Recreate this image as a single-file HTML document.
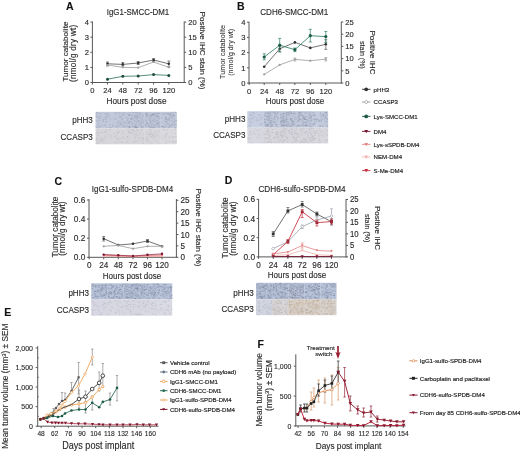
<!DOCTYPE html>
<html><head><meta charset="utf-8"><style>
html,body{margin:0;padding:0;background:#fff;width:520px;height:451px;overflow:hidden}
svg{display:block;filter:blur(0.35px)}
text{font-family:"Liberation Sans", sans-serif}
</style></head><body>
<svg width="520" height="451" viewBox="0 0 520 451">
<defs></defs>
<rect width="520" height="451" fill="#fff"/>
<text transform="translate(66 9.7)" font-size="10.5" text-anchor="start" fill="#111" stroke="#111" stroke-width="0.1" font-weight="bold">A</text>
<text transform="translate(237 9.7)" font-size="10.5" text-anchor="start" fill="#111" stroke="#111" stroke-width="0.1" font-weight="bold">B</text>
<text transform="translate(54.5 185.2)" font-size="10.5" text-anchor="start" fill="#111" stroke="#111" stroke-width="0.1" font-weight="bold">C</text>
<text transform="translate(224.8 184)" font-size="10.5" text-anchor="start" fill="#111" stroke="#111" stroke-width="0.1" font-weight="bold">D</text>
<text transform="translate(4.3 315.8)" font-size="10.5" text-anchor="start" fill="#111" stroke="#111" stroke-width="0.1" font-weight="bold">E</text>
<text transform="translate(257.6 348.3)" font-size="10.5" text-anchor="start" fill="#111" stroke="#111" stroke-width="0.1" font-weight="bold">F</text>
<text transform="translate(138 15) scale(0.885 1)" font-size="8.96" text-anchor="middle" fill="#2a2a2a" stroke="#2a2a2a" stroke-width="0.14" font-weight="normal">IgG1-SMCC-DM1</text>
<line x1="92.4" y1="21.5" x2="92.4" y2="83" stroke="#585858" stroke-width="1"/>
<line x1="90.4" y1="82.5" x2="92.4" y2="82.5" stroke="#585858" stroke-width="1"/>
<text transform="translate(88.9 85.38) scale(0.95 1)" font-size="8" text-anchor="end" fill="#2a2a2a" stroke="#2a2a2a" stroke-width="0.14" font-weight="normal">0</text>
<line x1="90.4" y1="67.4" x2="92.4" y2="67.4" stroke="#585858" stroke-width="1"/>
<text transform="translate(88.9 70.28) scale(0.95 1)" font-size="8" text-anchor="end" fill="#2a2a2a" stroke="#2a2a2a" stroke-width="0.14" font-weight="normal">1</text>
<line x1="90.4" y1="52.3" x2="92.4" y2="52.3" stroke="#585858" stroke-width="1"/>
<text transform="translate(88.9 55.18) scale(0.95 1)" font-size="8" text-anchor="end" fill="#2a2a2a" stroke="#2a2a2a" stroke-width="0.14" font-weight="normal">2</text>
<line x1="90.4" y1="37.2" x2="92.4" y2="37.2" stroke="#585858" stroke-width="1"/>
<text transform="translate(88.9 40.08) scale(0.95 1)" font-size="8" text-anchor="end" fill="#2a2a2a" stroke="#2a2a2a" stroke-width="0.14" font-weight="normal">3</text>
<line x1="90.4" y1="22.1" x2="92.4" y2="22.1" stroke="#585858" stroke-width="1"/>
<text transform="translate(88.9 24.98) scale(0.95 1)" font-size="8" text-anchor="end" fill="#2a2a2a" stroke="#2a2a2a" stroke-width="0.14" font-weight="normal">4</text>
<line x1="184.2" y1="21.5" x2="184.2" y2="83" stroke="#585858" stroke-width="1"/>
<line x1="184.2" y1="82.5" x2="186.2" y2="82.5" stroke="#585858" stroke-width="1"/>
<text transform="translate(188.2 85.38) scale(0.95 1)" font-size="8" text-anchor="start" fill="#2a2a2a" stroke="#2a2a2a" stroke-width="0.14" font-weight="normal">0</text>
<line x1="184.2" y1="67.4" x2="186.2" y2="67.4" stroke="#585858" stroke-width="1"/>
<text transform="translate(188.2 70.28) scale(0.95 1)" font-size="8" text-anchor="start" fill="#2a2a2a" stroke="#2a2a2a" stroke-width="0.14" font-weight="normal">5</text>
<line x1="184.2" y1="52.3" x2="186.2" y2="52.3" stroke="#585858" stroke-width="1"/>
<text transform="translate(188.2 55.18) scale(0.95 1)" font-size="8" text-anchor="start" fill="#2a2a2a" stroke="#2a2a2a" stroke-width="0.14" font-weight="normal">10</text>
<line x1="184.2" y1="37.2" x2="186.2" y2="37.2" stroke="#585858" stroke-width="1"/>
<text transform="translate(188.2 40.08) scale(0.95 1)" font-size="8" text-anchor="start" fill="#2a2a2a" stroke="#2a2a2a" stroke-width="0.14" font-weight="normal">15</text>
<line x1="184.2" y1="22.1" x2="186.2" y2="22.1" stroke="#585858" stroke-width="1"/>
<text transform="translate(188.2 24.98) scale(0.95 1)" font-size="8" text-anchor="start" fill="#2a2a2a" stroke="#2a2a2a" stroke-width="0.14" font-weight="normal">20</text>
<line x1="91.9" y1="82.5" x2="184.7" y2="82.5" stroke="#585858" stroke-width="1"/>
<line x1="92.4" y1="82.5" x2="92.4" y2="84.5" stroke="#585858" stroke-width="1"/>
<text transform="translate(92.4 93) scale(0.95 1)" font-size="8" text-anchor="middle" fill="#2a2a2a" stroke="#2a2a2a" stroke-width="0.14" font-weight="normal">0</text>
<line x1="107.5" y1="82.5" x2="107.5" y2="84.5" stroke="#585858" stroke-width="1"/>
<text transform="translate(107.5 93) scale(0.95 1)" font-size="8" text-anchor="middle" fill="#2a2a2a" stroke="#2a2a2a" stroke-width="0.14" font-weight="normal">24</text>
<line x1="122.8" y1="82.5" x2="122.8" y2="84.5" stroke="#585858" stroke-width="1"/>
<text transform="translate(122.8 93) scale(0.95 1)" font-size="8" text-anchor="middle" fill="#2a2a2a" stroke="#2a2a2a" stroke-width="0.14" font-weight="normal">48</text>
<line x1="138.2" y1="82.5" x2="138.2" y2="84.5" stroke="#585858" stroke-width="1"/>
<text transform="translate(138.2 93) scale(0.95 1)" font-size="8" text-anchor="middle" fill="#2a2a2a" stroke="#2a2a2a" stroke-width="0.14" font-weight="normal">72</text>
<line x1="153.6" y1="82.5" x2="153.6" y2="84.5" stroke="#585858" stroke-width="1"/>
<text transform="translate(153.6 93) scale(0.95 1)" font-size="8" text-anchor="middle" fill="#2a2a2a" stroke="#2a2a2a" stroke-width="0.14" font-weight="normal">96</text>
<line x1="168.8" y1="82.5" x2="168.8" y2="84.5" stroke="#585858" stroke-width="1"/>
<text transform="translate(168.8 93) scale(0.95 1)" font-size="8" text-anchor="middle" fill="#2a2a2a" stroke="#2a2a2a" stroke-width="0.14" font-weight="normal">120</text>
<text transform="translate(136.5 103.7) scale(0.92 1)" font-size="8.96" text-anchor="middle" fill="#2a2a2a" stroke="#2a2a2a" stroke-width="0.14" font-weight="normal">Hours post dose</text>
<text transform="translate(67.7 51.6) rotate(-90)" font-size="8.1" text-anchor="middle" fill="#2a2a2a" stroke="#2a2a2a" stroke-width="0.14" font-weight="normal">Tumor catabolite</text>
<text transform="translate(76.2 53.3) rotate(-90)" font-size="8.2" text-anchor="middle" fill="#2a2a2a" stroke="#2a2a2a" stroke-width="0.14" font-weight="normal" letter-spacing="0.22">(nmol/g dry wt)</text>
<text transform="translate(200.3 50.5) rotate(90)" font-size="8" text-anchor="middle" fill="#2a2a2a" stroke="#2a2a2a" stroke-width="0.14" font-weight="normal">Positive IHC stain (%)</text>
<line x1="107.5" y1="62" x2="107.5" y2="66" stroke="#5a5a5a" stroke-width="0.7"/>
<line x1="106" y1="62" x2="109" y2="62" stroke="#5a5a5a" stroke-width="0.7"/>
<line x1="106" y1="66" x2="109" y2="66" stroke="#5a5a5a" stroke-width="0.7"/>
<line x1="122.8" y1="62.5" x2="122.8" y2="66" stroke="#5a5a5a" stroke-width="0.7"/>
<line x1="121.3" y1="62.5" x2="124.3" y2="62.5" stroke="#5a5a5a" stroke-width="0.7"/>
<line x1="121.3" y1="66" x2="124.3" y2="66" stroke="#5a5a5a" stroke-width="0.7"/>
<line x1="138.2" y1="61.5" x2="138.2" y2="64.5" stroke="#5a5a5a" stroke-width="0.7"/>
<line x1="136.7" y1="61.5" x2="139.7" y2="61.5" stroke="#5a5a5a" stroke-width="0.7"/>
<line x1="136.7" y1="64.5" x2="139.7" y2="64.5" stroke="#5a5a5a" stroke-width="0.7"/>
<line x1="153.6" y1="58.5" x2="153.6" y2="61.5" stroke="#5a5a5a" stroke-width="0.7"/>
<line x1="152.1" y1="58.5" x2="155.1" y2="58.5" stroke="#5a5a5a" stroke-width="0.7"/>
<line x1="152.1" y1="61.5" x2="155.1" y2="61.5" stroke="#5a5a5a" stroke-width="0.7"/>
<line x1="168.8" y1="61" x2="168.8" y2="67" stroke="#5a5a5a" stroke-width="0.7"/>
<line x1="167.3" y1="61" x2="170.3" y2="61" stroke="#5a5a5a" stroke-width="0.7"/>
<line x1="167.3" y1="67" x2="170.3" y2="67" stroke="#5a5a5a" stroke-width="0.7"/>
<polyline points="107.5,63.8 122.8,64.4 138.2,63 153.6,60 168.8,63.8" fill="none" stroke="#5a5a5a" stroke-width="0.85" stroke-linejoin="round"/>
<circle cx="107.5" cy="63.8" r="1.3" fill="#333333"/>
<circle cx="122.8" cy="64.4" r="1.3" fill="#333333"/>
<circle cx="138.2" cy="63" r="1.3" fill="#333333"/>
<circle cx="153.6" cy="60" r="1.3" fill="#333333"/>
<circle cx="168.8" cy="63.8" r="1.3" fill="#333333"/>
<polyline points="107.5,65 122.8,67.3 138.2,67.7 153.6,62 168.8,67.3" fill="none" stroke="#a0a0a0" stroke-width="0.85" stroke-linejoin="round"/>
<circle cx="107.5" cy="65" r="1.1" fill="#a0a0a0"/>
<circle cx="122.8" cy="67.3" r="1.1" fill="#a0a0a0"/>
<circle cx="138.2" cy="67.7" r="1.1" fill="#a0a0a0"/>
<circle cx="153.6" cy="62" r="1.1" fill="#a0a0a0"/>
<circle cx="168.8" cy="67.3" r="1.1" fill="#a0a0a0"/>
<polyline points="107.5,79.2 122.8,76.3 138.2,76 153.6,74.6 168.8,75.4" fill="none" stroke="#3a7a66" stroke-width="0.85" stroke-linejoin="round"/>
<circle cx="107.5" cy="79.2" r="1.5" fill="#1e4d3d"/>
<circle cx="122.8" cy="76.3" r="1.5" fill="#1e4d3d"/>
<circle cx="138.2" cy="76" r="1.5" fill="#1e4d3d"/>
<circle cx="153.6" cy="74.6" r="1.5" fill="#1e4d3d"/>
<circle cx="168.8" cy="75.4" r="1.5" fill="#1e4d3d"/>
<text transform="translate(294.3 14.8) scale(0.9 1)" font-size="8.96" text-anchor="middle" fill="#2a2a2a" stroke="#2a2a2a" stroke-width="0.14" font-weight="normal">CDH6-SMCC-DM1</text>
<line x1="249" y1="21.8" x2="249" y2="83.5" stroke="#585858" stroke-width="1"/>
<line x1="247" y1="83" x2="249" y2="83" stroke="#585858" stroke-width="1"/>
<text transform="translate(245.5 85.88) scale(0.95 1)" font-size="8" text-anchor="end" fill="#2a2a2a" stroke="#2a2a2a" stroke-width="0.14" font-weight="normal">0</text>
<line x1="247" y1="67.8" x2="249" y2="67.8" stroke="#585858" stroke-width="1"/>
<text transform="translate(245.5 70.68) scale(0.95 1)" font-size="8" text-anchor="end" fill="#2a2a2a" stroke="#2a2a2a" stroke-width="0.14" font-weight="normal">1</text>
<line x1="247" y1="52.6" x2="249" y2="52.6" stroke="#585858" stroke-width="1"/>
<text transform="translate(245.5 55.48) scale(0.95 1)" font-size="8" text-anchor="end" fill="#2a2a2a" stroke="#2a2a2a" stroke-width="0.14" font-weight="normal">2</text>
<line x1="247" y1="37.4" x2="249" y2="37.4" stroke="#585858" stroke-width="1"/>
<text transform="translate(245.5 40.28) scale(0.95 1)" font-size="8" text-anchor="end" fill="#2a2a2a" stroke="#2a2a2a" stroke-width="0.14" font-weight="normal">3</text>
<line x1="247" y1="22.2" x2="249" y2="22.2" stroke="#585858" stroke-width="1"/>
<text transform="translate(245.5 25.08) scale(0.95 1)" font-size="8" text-anchor="end" fill="#2a2a2a" stroke="#2a2a2a" stroke-width="0.14" font-weight="normal">4</text>
<line x1="341.3" y1="21.8" x2="341.3" y2="83.5" stroke="#585858" stroke-width="1"/>
<line x1="341.3" y1="83" x2="343.3" y2="83" stroke="#585858" stroke-width="1"/>
<text transform="translate(345.3 85.88) scale(0.95 1)" font-size="8" text-anchor="start" fill="#2a2a2a" stroke="#2a2a2a" stroke-width="0.14" font-weight="normal">0</text>
<line x1="341.3" y1="70.8" x2="343.3" y2="70.8" stroke="#585858" stroke-width="1"/>
<text transform="translate(345.3 73.68) scale(0.95 1)" font-size="8" text-anchor="start" fill="#2a2a2a" stroke="#2a2a2a" stroke-width="0.14" font-weight="normal">5</text>
<line x1="341.3" y1="58.6" x2="343.3" y2="58.6" stroke="#585858" stroke-width="1"/>
<text transform="translate(345.3 61.48) scale(0.95 1)" font-size="8" text-anchor="start" fill="#2a2a2a" stroke="#2a2a2a" stroke-width="0.14" font-weight="normal">10</text>
<line x1="341.3" y1="46.4" x2="343.3" y2="46.4" stroke="#585858" stroke-width="1"/>
<text transform="translate(345.3 49.28) scale(0.95 1)" font-size="8" text-anchor="start" fill="#2a2a2a" stroke="#2a2a2a" stroke-width="0.14" font-weight="normal">15</text>
<line x1="341.3" y1="34.2" x2="343.3" y2="34.2" stroke="#585858" stroke-width="1"/>
<text transform="translate(345.3 37.08) scale(0.95 1)" font-size="8" text-anchor="start" fill="#2a2a2a" stroke="#2a2a2a" stroke-width="0.14" font-weight="normal">20</text>
<line x1="341.3" y1="22" x2="343.3" y2="22" stroke="#585858" stroke-width="1"/>
<text transform="translate(345.3 24.88) scale(0.95 1)" font-size="8" text-anchor="start" fill="#2a2a2a" stroke="#2a2a2a" stroke-width="0.14" font-weight="normal">25</text>
<line x1="248.5" y1="83" x2="341.8" y2="83" stroke="#585858" stroke-width="1"/>
<line x1="249.2" y1="83" x2="249.2" y2="85" stroke="#585858" stroke-width="1"/>
<text transform="translate(249.2 93.5) scale(0.95 1)" font-size="8" text-anchor="middle" fill="#2a2a2a" stroke="#2a2a2a" stroke-width="0.14" font-weight="normal">0</text>
<line x1="264.2" y1="83" x2="264.2" y2="85" stroke="#585858" stroke-width="1"/>
<text transform="translate(264.2 93.5) scale(0.95 1)" font-size="8" text-anchor="middle" fill="#2a2a2a" stroke="#2a2a2a" stroke-width="0.14" font-weight="normal">24</text>
<line x1="279.7" y1="83" x2="279.7" y2="85" stroke="#585858" stroke-width="1"/>
<text transform="translate(279.7 93.5) scale(0.95 1)" font-size="8" text-anchor="middle" fill="#2a2a2a" stroke="#2a2a2a" stroke-width="0.14" font-weight="normal">48</text>
<line x1="294.9" y1="83" x2="294.9" y2="85" stroke="#585858" stroke-width="1"/>
<text transform="translate(294.9 93.5) scale(0.95 1)" font-size="8" text-anchor="middle" fill="#2a2a2a" stroke="#2a2a2a" stroke-width="0.14" font-weight="normal">72</text>
<line x1="310.3" y1="83" x2="310.3" y2="85" stroke="#585858" stroke-width="1"/>
<text transform="translate(310.3 93.5) scale(0.95 1)" font-size="8" text-anchor="middle" fill="#2a2a2a" stroke="#2a2a2a" stroke-width="0.14" font-weight="normal">96</text>
<line x1="325.8" y1="83" x2="325.8" y2="85" stroke="#585858" stroke-width="1"/>
<text transform="translate(325.8 93.5) scale(0.95 1)" font-size="8" text-anchor="middle" fill="#2a2a2a" stroke="#2a2a2a" stroke-width="0.14" font-weight="normal">120</text>
<text transform="translate(295 104) scale(0.9 1)" font-size="8.96" text-anchor="middle" fill="#2a2a2a" stroke="#2a2a2a" stroke-width="0.14" font-weight="normal">Hours post dose</text>
<text transform="translate(225.3 52) rotate(-90)" font-size="7.3" text-anchor="middle" fill="#444" stroke="#444" stroke-width="0.12" font-weight="normal">Tumor catabolite</text>
<text transform="translate(232.6 52.3) rotate(-90)" font-size="7.1" text-anchor="middle" fill="#444" stroke="#444" stroke-width="0.12" font-weight="normal">(nmol/g dry wt)</text>
<text transform="translate(370 52.4) rotate(90)" font-size="8" text-anchor="middle" fill="#2a2a2a" stroke="#2a2a2a" stroke-width="0.14" font-weight="normal">Positive IHC</text>
<text transform="translate(359.6 54.9) rotate(90)" font-size="7" text-anchor="middle" fill="#2a2a2a" stroke="#2a2a2a" stroke-width="0.12" font-weight="normal">stain (%)</text>
<line x1="279.7" y1="46" x2="279.7" y2="52" stroke="#5a5a5a" stroke-width="0.7"/>
<line x1="278.2" y1="46" x2="281.2" y2="46" stroke="#5a5a5a" stroke-width="0.7"/>
<line x1="278.2" y1="52" x2="281.2" y2="52" stroke="#5a5a5a" stroke-width="0.7"/>
<line x1="325.8" y1="39.7" x2="325.8" y2="49.4" stroke="#5a5a5a" stroke-width="0.7"/>
<line x1="324.3" y1="39.7" x2="327.3" y2="39.7" stroke="#5a5a5a" stroke-width="0.7"/>
<line x1="324.3" y1="49.4" x2="327.3" y2="49.4" stroke="#5a5a5a" stroke-width="0.7"/>
<polyline points="264.2,66.7 279.7,48.8 294.9,42.4 310.3,47.9 325.8,44.3" fill="none" stroke="#5a5a5a" stroke-width="0.85" stroke-linejoin="round"/>
<circle cx="264.2" cy="66.7" r="1.3" fill="#333333"/>
<circle cx="279.7" cy="48.8" r="1.3" fill="#333333"/>
<circle cx="294.9" cy="42.4" r="1.3" fill="#333333"/>
<circle cx="310.3" cy="47.9" r="1.3" fill="#333333"/>
<circle cx="325.8" cy="44.3" r="1.3" fill="#333333"/>
<line x1="294.9" y1="58" x2="294.9" y2="61" stroke="#a0a0a0" stroke-width="0.7"/>
<line x1="293.4" y1="58" x2="296.4" y2="58" stroke="#a0a0a0" stroke-width="0.7"/>
<line x1="293.4" y1="61" x2="296.4" y2="61" stroke="#a0a0a0" stroke-width="0.7"/>
<line x1="325.8" y1="57.5" x2="325.8" y2="61" stroke="#a0a0a0" stroke-width="0.7"/>
<line x1="324.3" y1="57.5" x2="327.3" y2="57.5" stroke="#a0a0a0" stroke-width="0.7"/>
<line x1="324.3" y1="61" x2="327.3" y2="61" stroke="#a0a0a0" stroke-width="0.7"/>
<polyline points="264.2,74.4 279.7,64.9 294.9,59.4 310.3,60.7 325.8,59.2" fill="none" stroke="#a0a0a0" stroke-width="0.85" stroke-linejoin="round"/>
<circle cx="264.2" cy="74.4" r="1.1" fill="#a0a0a0"/>
<circle cx="279.7" cy="64.9" r="1.1" fill="#a0a0a0"/>
<circle cx="294.9" cy="59.4" r="1.1" fill="#a0a0a0"/>
<circle cx="310.3" cy="60.7" r="1.1" fill="#a0a0a0"/>
<circle cx="325.8" cy="59.2" r="1.1" fill="#a0a0a0"/>
<line x1="264.2" y1="53.8" x2="264.2" y2="59.8" stroke="#2f8068" stroke-width="0.7"/>
<line x1="262.7" y1="53.8" x2="265.7" y2="53.8" stroke="#2f8068" stroke-width="0.7"/>
<line x1="262.7" y1="59.8" x2="265.7" y2="59.8" stroke="#2f8068" stroke-width="0.7"/>
<line x1="279.7" y1="38.4" x2="279.7" y2="51.6" stroke="#2f8068" stroke-width="0.7"/>
<line x1="278.2" y1="38.4" x2="281.2" y2="38.4" stroke="#2f8068" stroke-width="0.7"/>
<line x1="278.2" y1="51.6" x2="281.2" y2="51.6" stroke="#2f8068" stroke-width="0.7"/>
<line x1="294.9" y1="48" x2="294.9" y2="51.6" stroke="#2f8068" stroke-width="0.7"/>
<line x1="293.4" y1="48" x2="296.4" y2="48" stroke="#2f8068" stroke-width="0.7"/>
<line x1="293.4" y1="51.6" x2="296.4" y2="51.6" stroke="#2f8068" stroke-width="0.7"/>
<line x1="310.3" y1="29.3" x2="310.3" y2="42" stroke="#2f8068" stroke-width="0.7"/>
<line x1="308.8" y1="29.3" x2="311.8" y2="29.3" stroke="#2f8068" stroke-width="0.7"/>
<line x1="308.8" y1="42" x2="311.8" y2="42" stroke="#2f8068" stroke-width="0.7"/>
<line x1="325.8" y1="31.5" x2="325.8" y2="42.4" stroke="#2f8068" stroke-width="0.7"/>
<line x1="324.3" y1="31.5" x2="327.3" y2="31.5" stroke="#2f8068" stroke-width="0.7"/>
<line x1="324.3" y1="42.4" x2="327.3" y2="42.4" stroke="#2f8068" stroke-width="0.7"/>
<polyline points="264.2,57 279.7,45.2 294.9,49.7 310.3,35.7 325.8,36.6" fill="none" stroke="#2f8068" stroke-width="0.85" stroke-linejoin="round"/>
<circle cx="264.2" cy="57" r="1.6" fill="#1e5a47"/>
<circle cx="279.7" cy="45.2" r="1.6" fill="#1e5a47"/>
<circle cx="294.9" cy="49.7" r="1.6" fill="#1e5a47"/>
<circle cx="310.3" cy="35.7" r="1.6" fill="#1e5a47"/>
<circle cx="325.8" cy="36.6" r="1.6" fill="#1e5a47"/>
<line x1="362" y1="89.3" x2="370.5" y2="89.3" stroke="#333" stroke-width="0.9"/>
<circle cx="366.2" cy="89.3" r="1.9" fill="#333"/>
<text transform="translate(373.6 91.5)" font-size="6.1" text-anchor="start" fill="#1c1c1c" stroke="#1c1c1c" stroke-width="0.16" font-weight="normal">pHH3</text>
<line x1="362" y1="102" x2="370.5" y2="102" stroke="#999" stroke-width="0.9"/>
<path d="M366.2 100.1L368.1 102L366.2 103.9L364.3 102Z" fill="#fff" stroke="#999" stroke-width="0.8"/>
<text transform="translate(373.6 104.2)" font-size="6.1" text-anchor="start" fill="#1c1c1c" stroke="#1c1c1c" stroke-width="0.16" font-weight="normal">CCASP3</text>
<line x1="362" y1="116.4" x2="370.5" y2="116.4" stroke="#1e5a47" stroke-width="0.9"/>
<circle cx="366.2" cy="116.4" r="1.9" fill="#1e5a47"/>
<text transform="translate(373.6 118.6)" font-size="6.1" text-anchor="start" fill="#1c1c1c" stroke="#1c1c1c" stroke-width="0.16" font-weight="normal">Lys-SMCC-DM1</text>
<line x1="362" y1="131.4" x2="370.5" y2="131.4" stroke="#7a1530" stroke-width="0.9"/>
<path d="M364.3 129.88L368.1 129.88L366.2 133.3Z" fill="#7a1530"/>
<text transform="translate(373.6 133.6)" font-size="6.1" text-anchor="start" fill="#1c1c1c" stroke="#1c1c1c" stroke-width="0.16" font-weight="normal">DM4</text>
<line x1="362" y1="144.4" x2="370.5" y2="144.4" stroke="#e58a8a" stroke-width="0.9"/>
<path d="M364.3 142.88L368.1 142.88L366.2 146.3Z" fill="#e58a8a"/>
<text transform="translate(373.6 146.6)" font-size="6.1" text-anchor="start" fill="#1c1c1c" stroke="#1c1c1c" stroke-width="0.16" font-weight="normal">Lys-sSPDB-DM4</text>
<line x1="362" y1="157" x2="370.5" y2="157" stroke="#f2b4b0" stroke-width="0.9"/>
<path d="M364.3 155.48L368.1 155.48L366.2 158.9Z" fill="#f2b4b0"/>
<text transform="translate(373.6 159.2)" font-size="6.1" text-anchor="start" fill="#1c1c1c" stroke="#1c1c1c" stroke-width="0.16" font-weight="normal">NEM-DM4</text>
<line x1="362" y1="170.6" x2="370.5" y2="170.6" stroke="#c9303e" stroke-width="0.9"/>
<path d="M364.3 169.08L368.1 169.08L366.2 172.5Z" fill="#c9303e"/>
<text transform="translate(373.6 172.8)" font-size="6.1" text-anchor="start" fill="#1c1c1c" stroke="#1c1c1c" stroke-width="0.16" font-weight="normal">S-Me-DM4</text>
<text transform="translate(132.4 191.9) scale(0.9 1)" font-size="8.96" text-anchor="middle" fill="#2a2a2a" stroke="#2a2a2a" stroke-width="0.14" font-weight="normal">IgG1-sulfo-SPDB-DM4</text>
<line x1="89" y1="199" x2="89" y2="257.8" stroke="#585858" stroke-width="1"/>
<line x1="87" y1="257.3" x2="89" y2="257.3" stroke="#585858" stroke-width="1"/>
<text transform="translate(85.5 260.468) scale(0.95 1)" font-size="8.8" text-anchor="end" fill="#2a2a2a" stroke="#2a2a2a" stroke-width="0.14" font-weight="normal">0.0</text>
<line x1="87" y1="238.2" x2="89" y2="238.2" stroke="#585858" stroke-width="1"/>
<text transform="translate(85.5 241.368) scale(0.95 1)" font-size="8.8" text-anchor="end" fill="#2a2a2a" stroke="#2a2a2a" stroke-width="0.14" font-weight="normal">0.2</text>
<line x1="87" y1="219.1" x2="89" y2="219.1" stroke="#585858" stroke-width="1"/>
<text transform="translate(85.5 222.268) scale(0.95 1)" font-size="8.8" text-anchor="end" fill="#2a2a2a" stroke="#2a2a2a" stroke-width="0.14" font-weight="normal">0.4</text>
<line x1="87" y1="200" x2="89" y2="200" stroke="#585858" stroke-width="1"/>
<text transform="translate(85.5 203.168) scale(0.95 1)" font-size="8.8" text-anchor="end" fill="#2a2a2a" stroke="#2a2a2a" stroke-width="0.14" font-weight="normal">0.6</text>
<line x1="176.4" y1="199" x2="176.4" y2="257.8" stroke="#585858" stroke-width="1"/>
<line x1="176.4" y1="257.3" x2="178.4" y2="257.3" stroke="#585858" stroke-width="1"/>
<text transform="translate(180.4 260.396) scale(0.95 1)" font-size="8.6" text-anchor="start" fill="#2a2a2a" stroke="#2a2a2a" stroke-width="0.14" font-weight="normal">0</text>
<line x1="176.4" y1="245.9" x2="178.4" y2="245.9" stroke="#585858" stroke-width="1"/>
<text transform="translate(180.4 248.996) scale(0.95 1)" font-size="8.6" text-anchor="start" fill="#2a2a2a" stroke="#2a2a2a" stroke-width="0.14" font-weight="normal">5</text>
<line x1="176.4" y1="234.5" x2="178.4" y2="234.5" stroke="#585858" stroke-width="1"/>
<text transform="translate(180.4 237.596) scale(0.95 1)" font-size="8.6" text-anchor="start" fill="#2a2a2a" stroke="#2a2a2a" stroke-width="0.14" font-weight="normal">10</text>
<line x1="176.4" y1="223.1" x2="178.4" y2="223.1" stroke="#585858" stroke-width="1"/>
<text transform="translate(180.4 226.196) scale(0.95 1)" font-size="8.6" text-anchor="start" fill="#2a2a2a" stroke="#2a2a2a" stroke-width="0.14" font-weight="normal">15</text>
<line x1="176.4" y1="211.7" x2="178.4" y2="211.7" stroke="#585858" stroke-width="1"/>
<text transform="translate(180.4 214.796) scale(0.95 1)" font-size="8.6" text-anchor="start" fill="#2a2a2a" stroke="#2a2a2a" stroke-width="0.14" font-weight="normal">20</text>
<line x1="176.4" y1="200.3" x2="178.4" y2="200.3" stroke="#585858" stroke-width="1"/>
<text transform="translate(180.4 203.396) scale(0.95 1)" font-size="8.6" text-anchor="start" fill="#2a2a2a" stroke="#2a2a2a" stroke-width="0.14" font-weight="normal">25</text>
<line x1="88.5" y1="257.3" x2="176.9" y2="257.3" stroke="#585858" stroke-width="1"/>
<line x1="89.2" y1="257.3" x2="89.2" y2="259.3" stroke="#585858" stroke-width="1"/>
<text transform="translate(89.2 268.2) scale(0.95 1)" font-size="8.6" text-anchor="middle" fill="#2a2a2a" stroke="#2a2a2a" stroke-width="0.14" font-weight="normal">0</text>
<line x1="103.7" y1="257.3" x2="103.7" y2="259.3" stroke="#585858" stroke-width="1"/>
<text transform="translate(103.7 268.2) scale(0.95 1)" font-size="8.6" text-anchor="middle" fill="#2a2a2a" stroke="#2a2a2a" stroke-width="0.14" font-weight="normal">24</text>
<line x1="118.3" y1="257.3" x2="118.3" y2="259.3" stroke="#585858" stroke-width="1"/>
<text transform="translate(118.3 268.2) scale(0.95 1)" font-size="8.6" text-anchor="middle" fill="#2a2a2a" stroke="#2a2a2a" stroke-width="0.14" font-weight="normal">48</text>
<line x1="133" y1="257.3" x2="133" y2="259.3" stroke="#585858" stroke-width="1"/>
<text transform="translate(133 268.2) scale(0.95 1)" font-size="8.6" text-anchor="middle" fill="#2a2a2a" stroke="#2a2a2a" stroke-width="0.14" font-weight="normal">72</text>
<line x1="147.5" y1="257.3" x2="147.5" y2="259.3" stroke="#585858" stroke-width="1"/>
<text transform="translate(147.5 268.2) scale(0.95 1)" font-size="8.6" text-anchor="middle" fill="#2a2a2a" stroke="#2a2a2a" stroke-width="0.14" font-weight="normal">96</text>
<line x1="162" y1="257.3" x2="162" y2="259.3" stroke="#585858" stroke-width="1"/>
<text transform="translate(162 268.2) scale(0.95 1)" font-size="8.6" text-anchor="middle" fill="#2a2a2a" stroke="#2a2a2a" stroke-width="0.14" font-weight="normal">120</text>
<text transform="translate(132 278.5) scale(0.9 1)" font-size="8.96" text-anchor="middle" fill="#2a2a2a" stroke="#2a2a2a" stroke-width="0.14" font-weight="normal">Hours post dose</text>
<text transform="translate(57.6 227) rotate(-90)" font-size="8.2" text-anchor="middle" fill="#2a2a2a" stroke="#2a2a2a" stroke-width="0.14" font-weight="normal">Tumor catabolite</text>
<text transform="translate(65.2 228.6) rotate(-90)" font-size="8.2" text-anchor="middle" fill="#2a2a2a" stroke="#2a2a2a" stroke-width="0.14" font-weight="normal">(nmol/g dry wt)</text>
<text transform="translate(196.1 227.5) rotate(90)" font-size="8" text-anchor="middle" fill="#2a2a2a" stroke="#2a2a2a" stroke-width="0.14" font-weight="normal">Positive IHC stain (%)</text>
<line x1="103.7" y1="236.5" x2="103.7" y2="241" stroke="#5a5a5a" stroke-width="0.7"/>
<line x1="102.2" y1="236.5" x2="105.2" y2="236.5" stroke="#5a5a5a" stroke-width="0.7"/>
<line x1="102.2" y1="241" x2="105.2" y2="241" stroke="#5a5a5a" stroke-width="0.7"/>
<line x1="147.5" y1="239.5" x2="147.5" y2="242.5" stroke="#5a5a5a" stroke-width="0.7"/>
<line x1="146" y1="239.5" x2="149" y2="239.5" stroke="#5a5a5a" stroke-width="0.7"/>
<line x1="146" y1="242.5" x2="149" y2="242.5" stroke="#5a5a5a" stroke-width="0.7"/>
<polyline points="103.7,238.7 118.3,245 133,243.8 147.5,241 162,246.3" fill="none" stroke="#5a5a5a" stroke-width="0.85" stroke-linejoin="round"/>
<circle cx="103.7" cy="238.7" r="1.3" fill="#333333"/>
<circle cx="118.3" cy="245" r="1.3" fill="#333333"/>
<circle cx="133" cy="243.8" r="1.3" fill="#333333"/>
<circle cx="147.5" cy="241" r="1.3" fill="#333333"/>
<circle cx="162" cy="246.3" r="1.3" fill="#333333"/>
<polyline points="103.7,246.3 118.3,245.4 133,248.7 147.5,246.3 162,246.3" fill="none" stroke="#a0a0a0" stroke-width="0.85" stroke-linejoin="round"/>
<circle cx="103.7" cy="246.3" r="1.1" fill="#a0a0a0"/>
<circle cx="118.3" cy="245.4" r="1.1" fill="#a0a0a0"/>
<circle cx="133" cy="248.7" r="1.1" fill="#a0a0a0"/>
<circle cx="147.5" cy="246.3" r="1.1" fill="#a0a0a0"/>
<circle cx="162" cy="246.3" r="1.1" fill="#a0a0a0"/>
<polyline points="103.7,256.3 118.3,256.5 133,256.8 147.5,256.5 162,256.4" fill="none" stroke="#f2b4b0" stroke-width="0.8" stroke-linejoin="round"/>
<path d="M102.6 255.42L104.8 255.42L103.7 257.4Z" fill="#f2b4b0"/>
<path d="M117.2 255.62L119.4 255.62L118.3 257.6Z" fill="#f2b4b0"/>
<path d="M131.9 255.92L134.1 255.92L133 257.9Z" fill="#f2b4b0"/>
<path d="M146.4 255.62L148.6 255.62L147.5 257.6Z" fill="#f2b4b0"/>
<path d="M160.9 255.52L163.1 255.52L162 257.5Z" fill="#f2b4b0"/>
<polyline points="103.7,255.5 118.3,255.9 133,256.4 147.5,255.9 162,255.9" fill="none" stroke="#ec9a9a" stroke-width="0.8" stroke-linejoin="round"/>
<path d="M102.6 254.62L104.8 254.62L103.7 256.6Z" fill="#ec9a9a"/>
<path d="M117.2 255.02L119.4 255.02L118.3 257Z" fill="#ec9a9a"/>
<path d="M131.9 255.52L134.1 255.52L133 257.5Z" fill="#ec9a9a"/>
<path d="M146.4 255.02L148.6 255.02L147.5 257Z" fill="#ec9a9a"/>
<path d="M160.9 255.02L163.1 255.02L162 257Z" fill="#ec9a9a"/>
<polyline points="103.7,254.8 118.3,255.6 133,256.2 147.5,255.3 162,254.8" fill="none" stroke="#e06a72" stroke-width="0.8" stroke-linejoin="round"/>
<path d="M102.6 253.92L104.8 253.92L103.7 255.9Z" fill="#e06a72"/>
<path d="M117.2 254.72L119.4 254.72L118.3 256.7Z" fill="#e06a72"/>
<path d="M131.9 255.32L134.1 255.32L133 257.3Z" fill="#e06a72"/>
<path d="M146.4 254.42L148.6 254.42L147.5 256.4Z" fill="#e06a72"/>
<path d="M160.9 253.92L163.1 253.92L162 255.9Z" fill="#e06a72"/>
<polyline points="103.7,254.6 118.3,255.2 133,256 147.5,254.8 162,253.8" fill="none" stroke="#7a1530" stroke-width="0.6" stroke-linejoin="round"/>
<circle cx="103.7" cy="254.6" r="1.2" fill="#7a1530"/>
<circle cx="118.3" cy="255.2" r="1.2" fill="#7a1530"/>
<circle cx="133" cy="256" r="1.2" fill="#7a1530"/>
<circle cx="147.5" cy="254.8" r="1.2" fill="#7a1530"/>
<circle cx="162" cy="253.8" r="1.2" fill="#7a1530"/>
<text transform="translate(302 191.9) scale(0.9 1)" font-size="9.072" text-anchor="middle" fill="#2a2a2a" stroke="#2a2a2a" stroke-width="0.14" font-weight="normal">CDH6-sulfo-SPDB-DM4</text>
<line x1="258.6" y1="199" x2="258.6" y2="257.4" stroke="#585858" stroke-width="1"/>
<line x1="256.6" y1="256.9" x2="258.6" y2="256.9" stroke="#585858" stroke-width="1"/>
<text transform="translate(255.1 260.068) scale(0.95 1)" font-size="8.8" text-anchor="end" fill="#2a2a2a" stroke="#2a2a2a" stroke-width="0.14" font-weight="normal">0.0</text>
<line x1="256.6" y1="237.7" x2="258.6" y2="237.7" stroke="#585858" stroke-width="1"/>
<text transform="translate(255.1 240.868) scale(0.95 1)" font-size="8.8" text-anchor="end" fill="#2a2a2a" stroke="#2a2a2a" stroke-width="0.14" font-weight="normal">0.2</text>
<line x1="256.6" y1="218.5" x2="258.6" y2="218.5" stroke="#585858" stroke-width="1"/>
<text transform="translate(255.1 221.668) scale(0.95 1)" font-size="8.8" text-anchor="end" fill="#2a2a2a" stroke="#2a2a2a" stroke-width="0.14" font-weight="normal">0.4</text>
<line x1="256.6" y1="199.3" x2="258.6" y2="199.3" stroke="#585858" stroke-width="1"/>
<text transform="translate(255.1 202.468) scale(0.95 1)" font-size="8.8" text-anchor="end" fill="#2a2a2a" stroke="#2a2a2a" stroke-width="0.14" font-weight="normal">0.6</text>
<line x1="346" y1="199" x2="346" y2="257.4" stroke="#585858" stroke-width="1"/>
<line x1="346" y1="256.9" x2="348" y2="256.9" stroke="#585858" stroke-width="1"/>
<text transform="translate(350 259.852) scale(0.95 1)" font-size="8.2" text-anchor="start" fill="#2a2a2a" stroke="#2a2a2a" stroke-width="0.14" font-weight="normal">0</text>
<line x1="346" y1="245.4" x2="348" y2="245.4" stroke="#585858" stroke-width="1"/>
<text transform="translate(350 248.352) scale(0.95 1)" font-size="8.2" text-anchor="start" fill="#2a2a2a" stroke="#2a2a2a" stroke-width="0.14" font-weight="normal">5</text>
<line x1="346" y1="233.9" x2="348" y2="233.9" stroke="#585858" stroke-width="1"/>
<text transform="translate(350 236.852) scale(0.95 1)" font-size="8.2" text-anchor="start" fill="#2a2a2a" stroke="#2a2a2a" stroke-width="0.14" font-weight="normal">10</text>
<line x1="346" y1="222.4" x2="348" y2="222.4" stroke="#585858" stroke-width="1"/>
<text transform="translate(350 225.352) scale(0.95 1)" font-size="8.2" text-anchor="start" fill="#2a2a2a" stroke="#2a2a2a" stroke-width="0.14" font-weight="normal">15</text>
<line x1="346" y1="210.9" x2="348" y2="210.9" stroke="#585858" stroke-width="1"/>
<text transform="translate(350 213.852) scale(0.95 1)" font-size="8.2" text-anchor="start" fill="#2a2a2a" stroke="#2a2a2a" stroke-width="0.14" font-weight="normal">20</text>
<line x1="346" y1="199.4" x2="348" y2="199.4" stroke="#585858" stroke-width="1"/>
<text transform="translate(350 202.352) scale(0.95 1)" font-size="8.2" text-anchor="start" fill="#2a2a2a" stroke="#2a2a2a" stroke-width="0.14" font-weight="normal">25</text>
<line x1="258.1" y1="256.9" x2="346.5" y2="256.9" stroke="#585858" stroke-width="1"/>
<line x1="258.6" y1="256.9" x2="258.6" y2="258.9" stroke="#585858" stroke-width="1"/>
<text transform="translate(258.6 268.2) scale(0.95 1)" font-size="8.6" text-anchor="middle" fill="#2a2a2a" stroke="#2a2a2a" stroke-width="0.14" font-weight="normal">0</text>
<line x1="273.2" y1="256.9" x2="273.2" y2="258.9" stroke="#585858" stroke-width="1"/>
<text transform="translate(273.2 268.2) scale(0.95 1)" font-size="8.6" text-anchor="middle" fill="#2a2a2a" stroke="#2a2a2a" stroke-width="0.14" font-weight="normal">24</text>
<line x1="287.9" y1="256.9" x2="287.9" y2="258.9" stroke="#585858" stroke-width="1"/>
<text transform="translate(287.9 268.2) scale(0.95 1)" font-size="8.6" text-anchor="middle" fill="#2a2a2a" stroke="#2a2a2a" stroke-width="0.14" font-weight="normal">48</text>
<line x1="302.2" y1="256.9" x2="302.2" y2="258.9" stroke="#585858" stroke-width="1"/>
<text transform="translate(302.2 268.2) scale(0.95 1)" font-size="8.6" text-anchor="middle" fill="#2a2a2a" stroke="#2a2a2a" stroke-width="0.14" font-weight="normal">72</text>
<line x1="316.9" y1="256.9" x2="316.9" y2="258.9" stroke="#585858" stroke-width="1"/>
<text transform="translate(316.9 268.2) scale(0.95 1)" font-size="8.6" text-anchor="middle" fill="#2a2a2a" stroke="#2a2a2a" stroke-width="0.14" font-weight="normal">96</text>
<line x1="331.5" y1="256.9" x2="331.5" y2="258.9" stroke="#585858" stroke-width="1"/>
<text transform="translate(331.5 268.2) scale(0.95 1)" font-size="8.6" text-anchor="middle" fill="#2a2a2a" stroke="#2a2a2a" stroke-width="0.14" font-weight="normal">120</text>
<text transform="translate(297 277.5) scale(0.9 1)" font-size="8.96" text-anchor="middle" fill="#2a2a2a" stroke="#2a2a2a" stroke-width="0.14" font-weight="normal">Hours post dose</text>
<text transform="translate(228 227.8) rotate(-90)" font-size="8.2" text-anchor="middle" fill="#2a2a2a" stroke="#2a2a2a" stroke-width="0.14" font-weight="normal">Tumor catabolite</text>
<text transform="translate(235.6 228.6) rotate(-90)" font-size="8.2" text-anchor="middle" fill="#2a2a2a" stroke="#2a2a2a" stroke-width="0.14" font-weight="normal">(nmol/g dry wt)</text>
<text transform="translate(375 228) rotate(90)" font-size="8" text-anchor="middle" fill="#2a2a2a" stroke="#2a2a2a" stroke-width="0.14" font-weight="normal">Positive IHC</text>
<text transform="translate(365.4 228.2) rotate(90)" font-size="7.2" text-anchor="middle" fill="#2a2a2a" stroke="#2a2a2a" stroke-width="0.12" font-weight="normal">stain (%)</text>
<line x1="273.2" y1="231.5" x2="273.2" y2="236.5" stroke="#5a5a5a" stroke-width="0.7"/>
<line x1="271.7" y1="231.5" x2="274.7" y2="231.5" stroke="#5a5a5a" stroke-width="0.7"/>
<line x1="271.7" y1="236.5" x2="274.7" y2="236.5" stroke="#5a5a5a" stroke-width="0.7"/>
<line x1="287.9" y1="207.5" x2="287.9" y2="213" stroke="#5a5a5a" stroke-width="0.7"/>
<line x1="286.4" y1="207.5" x2="289.4" y2="207.5" stroke="#5a5a5a" stroke-width="0.7"/>
<line x1="286.4" y1="213" x2="289.4" y2="213" stroke="#5a5a5a" stroke-width="0.7"/>
<line x1="302.2" y1="201.5" x2="302.2" y2="207" stroke="#5a5a5a" stroke-width="0.7"/>
<line x1="300.7" y1="201.5" x2="303.7" y2="201.5" stroke="#5a5a5a" stroke-width="0.7"/>
<line x1="300.7" y1="207" x2="303.7" y2="207" stroke="#5a5a5a" stroke-width="0.7"/>
<line x1="316.9" y1="212" x2="316.9" y2="216" stroke="#5a5a5a" stroke-width="0.7"/>
<line x1="315.4" y1="212" x2="318.4" y2="212" stroke="#5a5a5a" stroke-width="0.7"/>
<line x1="315.4" y1="216" x2="318.4" y2="216" stroke="#5a5a5a" stroke-width="0.7"/>
<line x1="331.5" y1="219" x2="331.5" y2="225" stroke="#5a5a5a" stroke-width="0.7"/>
<line x1="330" y1="219" x2="333" y2="219" stroke="#5a5a5a" stroke-width="0.7"/>
<line x1="330" y1="225" x2="333" y2="225" stroke="#5a5a5a" stroke-width="0.7"/>
<polyline points="273.2,233.9 287.9,210.9 302.2,204.5 316.9,214 331.5,221.8" fill="none" stroke="#5a5a5a" stroke-width="0.85" stroke-linejoin="round"/>
<rect x="271.8" y="232.5" width="2.8" height="2.8" fill="#333333"/>
<rect x="286.5" y="209.5" width="2.8" height="2.8" fill="#333333"/>
<rect x="300.8" y="203.1" width="2.8" height="2.8" fill="#333333"/>
<rect x="315.5" y="212.6" width="2.8" height="2.8" fill="#333333"/>
<rect x="330.1" y="220.4" width="2.8" height="2.8" fill="#333333"/>
<line x1="302.2" y1="225" x2="302.2" y2="228.5" stroke="#a2a6b0" stroke-width="0.7"/>
<line x1="300.7" y1="225" x2="303.7" y2="225" stroke="#a2a6b0" stroke-width="0.7"/>
<line x1="300.7" y1="228.5" x2="303.7" y2="228.5" stroke="#a2a6b0" stroke-width="0.7"/>
<line x1="316.9" y1="217" x2="316.9" y2="223" stroke="#a2a6b0" stroke-width="0.7"/>
<line x1="315.4" y1="217" x2="318.4" y2="217" stroke="#a2a6b0" stroke-width="0.7"/>
<line x1="315.4" y1="223" x2="318.4" y2="223" stroke="#a2a6b0" stroke-width="0.7"/>
<line x1="331.5" y1="208.8" x2="331.5" y2="223" stroke="#a2a6b0" stroke-width="0.7"/>
<line x1="330" y1="208.8" x2="333" y2="208.8" stroke="#a2a6b0" stroke-width="0.7"/>
<line x1="330" y1="223" x2="333" y2="223" stroke="#a2a6b0" stroke-width="0.7"/>
<polyline points="273.2,248.6 287.9,241.7 302.2,226.7 316.9,220 331.5,216.1" fill="none" stroke="#a2a6b0" stroke-width="0.85" stroke-linejoin="round"/>
<path d="M273.2 247.1L274.7 248.6L273.2 250.1L271.7 248.6Z" fill="#fff" stroke="#a2a6b0" stroke-width="0.8"/>
<path d="M287.9 240.2L289.4 241.7L287.9 243.2L286.4 241.7Z" fill="#fff" stroke="#a2a6b0" stroke-width="0.8"/>
<path d="M302.2 225.2L303.7 226.7L302.2 228.2L300.7 226.7Z" fill="#fff" stroke="#a2a6b0" stroke-width="0.8"/>
<path d="M316.9 218.5L318.4 220L316.9 221.5L315.4 220Z" fill="#fff" stroke="#a2a6b0" stroke-width="0.8"/>
<path d="M331.5 214.6L333 216.1L331.5 217.6L330 216.1Z" fill="#fff" stroke="#a2a6b0" stroke-width="0.8"/>
<line x1="287.9" y1="239.5" x2="287.9" y2="243.5" stroke="#c9303e" stroke-width="0.7"/>
<line x1="286.4" y1="239.5" x2="289.4" y2="239.5" stroke="#c9303e" stroke-width="0.7"/>
<line x1="286.4" y1="243.5" x2="289.4" y2="243.5" stroke="#c9303e" stroke-width="0.7"/>
<line x1="302.2" y1="209.5" x2="302.2" y2="217.5" stroke="#c9303e" stroke-width="0.7"/>
<line x1="300.7" y1="209.5" x2="303.7" y2="209.5" stroke="#c9303e" stroke-width="0.7"/>
<line x1="300.7" y1="217.5" x2="303.7" y2="217.5" stroke="#c9303e" stroke-width="0.7"/>
<line x1="316.9" y1="220" x2="316.9" y2="226" stroke="#c9303e" stroke-width="0.7"/>
<line x1="315.4" y1="220" x2="318.4" y2="220" stroke="#c9303e" stroke-width="0.7"/>
<line x1="315.4" y1="226" x2="318.4" y2="226" stroke="#c9303e" stroke-width="0.7"/>
<line x1="331.5" y1="219" x2="331.5" y2="224" stroke="#c9303e" stroke-width="0.7"/>
<line x1="330" y1="219" x2="333" y2="219" stroke="#c9303e" stroke-width="0.7"/>
<line x1="330" y1="224" x2="333" y2="224" stroke="#c9303e" stroke-width="0.7"/>
<polyline points="273.2,254.7 287.9,241.4 302.2,211.8 316.9,222.7 331.5,221.5" fill="none" stroke="#c9303e" stroke-width="0.85" stroke-linejoin="round"/>
<rect x="271.8" y="253.3" width="2.8" height="2.8" fill="#a02535"/>
<rect x="286.5" y="240" width="2.8" height="2.8" fill="#a02535"/>
<rect x="300.8" y="210.4" width="2.8" height="2.8" fill="#a02535"/>
<rect x="315.5" y="221.3" width="2.8" height="2.8" fill="#a02535"/>
<rect x="330.1" y="220.1" width="2.8" height="2.8" fill="#a02535"/>
<line x1="302.2" y1="243" x2="302.2" y2="248" stroke="#e58a8a" stroke-width="0.7"/>
<line x1="300.7" y1="243" x2="303.7" y2="243" stroke="#e58a8a" stroke-width="0.7"/>
<line x1="300.7" y1="248" x2="303.7" y2="248" stroke="#e58a8a" stroke-width="0.7"/>
<polyline points="273.2,253.8 287.9,252 302.2,245.5 316.9,250.4 331.5,251.2" fill="none" stroke="#e58a8a" stroke-width="0.85" stroke-linejoin="round"/>
<path d="M271.8 252.68L274.6 252.68L273.2 255.2Z" fill="#e58a8a"/>
<path d="M286.5 250.88L289.3 250.88L287.9 253.4Z" fill="#e58a8a"/>
<path d="M300.8 244.38L303.6 244.38L302.2 246.9Z" fill="#e58a8a"/>
<path d="M315.5 249.28L318.3 249.28L316.9 251.8Z" fill="#e58a8a"/>
<path d="M330.1 250.08L332.9 250.08L331.5 252.6Z" fill="#e58a8a"/>
<polyline points="273.2,255.5 287.9,254.7 302.2,250.4 316.9,254.7 331.5,255.5" fill="none" stroke="#f2b4b0" stroke-width="0.85" stroke-linejoin="round"/>
<path d="M271.9 254.46L274.5 254.46L273.2 256.8Z" fill="#f2b4b0"/>
<path d="M286.6 253.66L289.2 253.66L287.9 256Z" fill="#f2b4b0"/>
<path d="M300.9 249.36L303.5 249.36L302.2 251.7Z" fill="#f2b4b0"/>
<path d="M315.6 253.66L318.2 253.66L316.9 256Z" fill="#f2b4b0"/>
<path d="M330.2 254.46L332.8 254.46L331.5 256.8Z" fill="#f2b4b0"/>
<polyline points="273.2,256.5 287.9,256.5 302.2,256.5 316.9,256.5 331.5,256.5" fill="none" stroke="#7a1530" stroke-width="0.85" stroke-linejoin="round"/>
<path d="M271.7 255.3L274.7 255.3L273.2 258Z" fill="#7a1530"/>
<path d="M286.4 255.3L289.4 255.3L287.9 258Z" fill="#7a1530"/>
<path d="M300.7 255.3L303.7 255.3L302.2 258Z" fill="#7a1530"/>
<path d="M315.4 255.3L318.4 255.3L316.9 258Z" fill="#7a1530"/>
<path d="M330 255.3L333 255.3L331.5 258Z" fill="#7a1530"/>
<rect x="95.5" y="111.8" width="16.31" height="16.6" fill="#c2c9d9"/>
<path d="M102.403 120.532h1.6v1h-1.6zM102.606 119.722h1v1h-1zM98.318 119.786h1.6v1h-1.6zM107.601 113.268h1v1h-1zM96.884 124.43h1.6v1h-1.6zM96.139 127.122h1.6v1h-1.6zM105.479 121.403h1v1h-1zM95.729 120.043h1v1h-1zM98.403 115.574h1v1h-1zM102.58 118.672h1.6v1h-1.6zM103.422 121.789h1v1h-1zM105.609 118.934h1v1h-1zM110.724 127.333h1.6v1h-1.6zM106.301 116.718h1v1h-1zM99.911 112.895h1.6v1h-1.6zM101.61 125.007h1v1h-1zM110.12 125.018h1v1h-1zM98.7 126h1v1h-1zM110.46 118h1v1h-1zM105.105 123.945h1v1h-1zM96.83 116.988h1.6v1h-1.6zM107.068 113.641h1v1h-1zM97.042 112.734h1.6v1h-1.6zM98.211 120.525h1v1h-1zM98.41 123.218h1v1h-1zM105.323 113.618h1v1h-1zM98.748 116.009h1.6v1h-1.6zM107.76 116.545h1.6v1h-1.6zM98.715 117.951h1.6v1h-1.6zM105.294 113.365h1.6v1h-1.6zM98.754 115.829h1.6v1h-1.6zM100.52 116.423h1v1h-1zM96.875 120.891h1v1h-1zM104.676 117.599h1v1h-1zM110.136 119.346h1v1h-1zM108.723 114.652h1v1h-1zM109.363 124.558h1v1h-1zM98.396 123.335h1.6v1h-1.6zM98.5 126.622h1.6v1h-1.6zM104.71 118.375h1v1h-1zM96.091 126.818h1v1h-1zM106.252 115.809h1.6v1h-1.6zM104.602 116.378h1v1h-1zM106.493 112.873h1v1h-1zM104.036 125.097h1.6v1h-1.6zM99.776 126.111h1v1h-1zM95.753 115.999h1v1h-1zM96.423 114.55h1v1h-1zM104.231 113.853h1v1h-1zM109.096 127.096h1.6v1h-1.6zM106.048 120.917h1v1h-1zM96.035 112.079h1.6v1h-1.6zM106.197 126.819h1v1h-1z" fill="#737d96" fill-opacity="0.27"/>
<rect x="111.76" y="111.8" width="16.31" height="16.6" fill="#c2c9d9"/>
<path d="M121.468 119.323h1.6v1h-1.6zM116.626 127.39h1v1h-1zM120.093 123.297h1.6v1h-1.6zM123.008 122.778h1.6v1h-1.6zM125.723 117.289h1.6v1h-1.6zM125.507 125.389h1v1h-1zM123.824 125.27h1v1h-1zM121.297 117.764h1v1h-1zM121.051 113.051h1.6v1h-1.6zM126.918 125.525h1.6v1h-1.6zM117.688 123.267h1v1h-1zM118.482 124.879h1v1h-1zM123.208 112.265h1.6v1h-1.6zM119.099 115.391h1.6v1h-1.6zM119.348 121.386h1.6v1h-1.6zM115.664 111.976h1v1h-1zM122.108 114.96h1v1h-1zM125.581 122.096h1v1h-1zM125.368 116.901h1.6v1h-1.6zM114.789 118.522h1.6v1h-1.6zM125.711 125.532h1v1h-1zM120.658 116.737h1v1h-1zM119.336 124.859h1.6v1h-1.6zM122.613 126.62h1v1h-1zM114.341 118.83h1v1h-1zM115.027 118.258h1.6v1h-1.6zM119.297 116.72h1.6v1h-1.6zM126.746 118.859h1v1h-1zM112.24 125.416h1v1h-1zM122.574 120.701h1v1h-1zM123.838 112.098h1v1h-1zM118.701 112.186h1.6v1h-1.6zM115.383 113.998h1v1h-1zM121.361 118.765h1.6v1h-1.6zM121.756 124.395h1.6v1h-1.6zM122.205 114.91h1v1h-1zM114.487 111.968h1v1h-1zM122.658 114.594h1v1h-1zM117.036 122.678h1v1h-1zM121.136 123.597h1v1h-1zM123.845 125.937h1v1h-1zM125.992 123.069h1v1h-1zM118.681 121.559h1.6v1h-1.6zM117.51 120.673h1.6v1h-1.6zM123.919 126.53h1v1h-1zM121.699 114.996h1.6v1h-1.6zM124.248 121.809h1.6v1h-1.6zM115.015 125.84h1.6v1h-1.6zM126.674 120.177h1.6v1h-1.6zM116.649 125.996h1.6v1h-1.6zM117.078 113.091h1v1h-1zM120.158 123.784h1v1h-1zM112.194 124.423h1v1h-1zM123.966 114.497h1v1h-1zM123.783 113.992h1v1h-1zM119.642 123.088h1.6v1h-1.6zM122.28 126.554h1v1h-1zM126.244 113.142h1v1h-1zM119.797 116.327h1.6v1h-1.6z" fill="#737d96" fill-opacity="0.27"/>
<line x1="111.76" y1="111.8" x2="111.76" y2="128.4" stroke="#8088a0" stroke-width="0.5" opacity="0.18"/>
<rect x="128.02" y="111.8" width="16.31" height="16.6" fill="#bfc6d7"/>
<path d="M137.769 119.955h1.6v1h-1.6zM136.565 116.662h1v1h-1zM140.919 125.848h1v1h-1zM141.003 126.908h1v1h-1zM136.764 114.935h1v1h-1zM135.698 121.242h1v1h-1zM142.813 119.85h1v1h-1zM140.244 120.581h1v1h-1zM138.564 112.828h1v1h-1zM134.334 126.727h1.6v1h-1.6zM132.128 119.181h1v1h-1zM134.638 124.525h1.6v1h-1.6zM135.292 116.749h1v1h-1zM137.449 126.234h1v1h-1zM139.912 112.155h1v1h-1zM131.488 122.518h1v1h-1zM133.443 121.468h1v1h-1zM139.173 113.715h1v1h-1zM131.843 114.885h1v1h-1zM134.685 117.661h1v1h-1zM136.098 114.292h1v1h-1zM137.654 121.76h1v1h-1zM141.01 121.343h1.6v1h-1.6zM131.57 123.356h1.6v1h-1.6zM141.795 116.728h1v1h-1zM142.101 115.203h1.6v1h-1.6zM141.564 113.889h1v1h-1zM139.108 115.848h1v1h-1zM140.719 118.377h1.6v1h-1.6zM129.943 118.083h1.6v1h-1.6zM128.291 114.935h1.6v1h-1.6zM141.928 126.907h1v1h-1zM135.737 123.627h1v1h-1zM138.484 114.749h1v1h-1zM129.64 112.384h1v1h-1zM135.876 120.672h1v1h-1zM130.836 114.981h1.6v1h-1.6zM143.132 126.26h1v1h-1zM128.965 126.643h1v1h-1zM139.69 116.899h1v1h-1zM135.883 118.509h1.6v1h-1.6zM128.222 122.736h1.6v1h-1.6zM130.786 118.882h1.6v1h-1.6zM134.205 114.844h1v1h-1zM135.842 112.041h1.6v1h-1.6zM140.254 122.793h1.6v1h-1.6zM137.624 118.11h1v1h-1zM135.715 127.13h1.6v1h-1.6zM131.961 126.016h1.6v1h-1.6zM139.892 124.508h1v1h-1zM141.701 125.526h1.6v1h-1.6zM139.729 123.738h1v1h-1zM139.047 112.901h1v1h-1zM135.175 111.965h1v1h-1zM137.767 121.535h1v1h-1zM142.436 122.191h1v1h-1zM138.088 120.685h1v1h-1zM133.965 127.398h1.6v1h-1.6zM138.721 123.683h1.6v1h-1.6zM128.368 121.4h1.6v1h-1.6zM131.936 118.064h1v1h-1zM131.003 117.661h1v1h-1zM131.849 125.928h1v1h-1zM135.769 126.887h1v1h-1zM143.205 121.753h1.6v1h-1.6zM129.183 121.122h1.6v1h-1.6zM128.708 126.31h1v1h-1zM135.219 114.438h1v1h-1zM137.346 112.713h1.6v1h-1.6zM134.44 120.017h1v1h-1z" fill="#737d96" fill-opacity="0.3"/>
<path d="M133.599 116.258h1.6v1h-1.6zM136.575 116.223h1.6v1h-1.6zM132.538 112.019h1v1h-1zM128.673 114.243h1.6v1h-1.6zM133.971 125.802h1.6v1h-1.6zM128.785 127.225h1.6v1h-1.6zM129.142 125.927h1v1h-1zM135.308 126.981h1v1h-1zM136.006 126.421h1.6v1h-1.6zM135.167 127.07h1.6v1h-1.6z" fill="#4a5578" fill-opacity="0.3"/>
<line x1="128.02" y1="111.8" x2="128.02" y2="128.4" stroke="#8088a0" stroke-width="0.5" opacity="0.18"/>
<rect x="144.28" y="111.8" width="16.31" height="16.6" fill="#bfc6d7"/>
<path d="M153.491 113.595h1.6v1h-1.6zM151.234 114.977h1v1h-1zM152.339 113.739h1v1h-1zM154.472 118.907h1v1h-1zM153.165 118.345h1.6v1h-1.6zM152.379 127.363h1.6v1h-1.6zM155.485 115.519h1v1h-1zM157.903 124.035h1.6v1h-1.6zM149.761 116.036h1.6v1h-1.6zM152.9 121.03h1.6v1h-1.6zM155.776 114.761h1v1h-1zM159.231 126.085h1.6v1h-1.6zM144.883 112.748h1v1h-1zM150.768 121.524h1v1h-1zM152.546 112.931h1v1h-1zM154.6 120.39h1.6v1h-1.6zM149.975 119.265h1v1h-1zM149.525 123.419h1.6v1h-1.6zM145.415 113.669h1.6v1h-1.6zM153.798 123.793h1v1h-1zM150.756 115.826h1.6v1h-1.6zM149.91 121.997h1.6v1h-1.6zM149.245 120.358h1.6v1h-1.6zM158.332 118.471h1v1h-1zM145.76 125.453h1v1h-1zM145.547 120.602h1v1h-1zM154.738 116.462h1.6v1h-1.6zM145.441 115.127h1.6v1h-1.6zM145.527 116.539h1.6v1h-1.6zM154.87 116.213h1v1h-1zM149.74 123.125h1v1h-1zM146.071 122.865h1v1h-1zM158.297 126.463h1.6v1h-1.6zM150.964 124.328h1v1h-1zM149.127 118.034h1.6v1h-1.6zM157.934 115.674h1v1h-1zM149.859 117.468h1v1h-1zM150.194 114.841h1v1h-1zM156.443 120.233h1.6v1h-1.6zM152.868 114.555h1.6v1h-1.6zM157.723 116.191h1v1h-1zM152.149 120.289h1v1h-1zM159.028 121.959h1.6v1h-1.6zM145.258 120.33h1.6v1h-1.6zM145.563 113.074h1.6v1h-1.6zM158 113.121h1.6v1h-1.6zM146.476 123.434h1.6v1h-1.6zM148.026 115.239h1.6v1h-1.6zM152.239 123.729h1v1h-1zM149.435 126.905h1.6v1h-1.6zM151.813 120.183h1.6v1h-1.6zM155.086 126.074h1v1h-1zM156.888 122.201h1.6v1h-1.6zM156.578 124.808h1.6v1h-1.6zM158.896 121.788h1v1h-1zM155.116 124.315h1v1h-1zM150.696 114.081h1.6v1h-1.6zM159.403 117.658h1v1h-1zM147.399 118.429h1v1h-1zM159.079 112.724h1v1h-1zM146.032 121.908h1.6v1h-1.6zM147.018 112.773h1v1h-1zM153.193 125.985h1v1h-1zM145.938 114.679h1v1h-1zM147.872 122.989h1v1h-1zM147.698 114.686h1v1h-1zM146.913 123.617h1v1h-1zM152.646 124.547h1v1h-1zM148.255 125.644h1.6v1h-1.6zM149.5 120.339h1.6v1h-1.6zM151.645 115.248h1v1h-1zM158.739 124.302h1v1h-1zM152.331 119.847h1v1h-1zM159.391 122.058h1v1h-1zM144.446 119.173h1v1h-1z" fill="#737d96" fill-opacity="0.3"/>
<path d="M156.439 122.927h1.6v1h-1.6zM146.68 114.248h1v1h-1zM148.239 125.36h1v1h-1zM154 127.293h1v1h-1zM152.438 114.15h1.6v1h-1.6zM144.301 124.614h1.6v1h-1.6zM156.825 113.086h1v1h-1zM155.214 113.316h1v1h-1zM151.432 126.706h1v1h-1zM157.363 116.536h1.6v1h-1.6zM150.643 126.101h1v1h-1zM156.89 115.051h1v1h-1zM152.302 114.258h1.6v1h-1.6z" fill="#4a5578" fill-opacity="0.3"/>
<line x1="144.28" y1="111.8" x2="144.28" y2="128.4" stroke="#8088a0" stroke-width="0.5" opacity="0.18"/>
<rect x="160.54" y="111.8" width="16.31" height="16.6" fill="#c1c8d8"/>
<path d="M165.292 116.648h1v1h-1zM165.205 119.089h1.6v1h-1.6zM166.029 122.519h1v1h-1zM166.556 119.003h1.6v1h-1.6zM173.202 122.001h1v1h-1zM166.295 122.876h1v1h-1zM169.148 118.946h1v1h-1zM175.672 124.271h1v1h-1zM169.941 116.33h1v1h-1zM168.777 116.452h1v1h-1zM166.525 122.2h1v1h-1zM163.591 123.211h1v1h-1zM174.961 120.58h1.6v1h-1.6zM165.601 124.699h1v1h-1zM162.689 113.273h1.6v1h-1.6zM171.348 114.606h1v1h-1zM173.311 121.047h1v1h-1zM163.998 114.251h1v1h-1zM166.748 112.934h1.6v1h-1.6zM167.056 119.78h1.6v1h-1.6zM172.242 124.609h1v1h-1zM165.597 118.229h1v1h-1zM166.655 122.718h1.6v1h-1.6zM172.59 122.1h1.6v1h-1.6zM160.823 116.964h1v1h-1zM170.47 113.458h1v1h-1zM168.313 124.101h1.6v1h-1.6zM169.871 114.27h1.6v1h-1.6zM174.32 120.353h1v1h-1zM168.176 114.011h1.6v1h-1.6zM175.598 119.85h1.6v1h-1.6zM173.29 114.876h1.6v1h-1.6zM170.11 114.887h1v1h-1zM164.273 120.793h1.6v1h-1.6zM165.563 126.293h1v1h-1zM167.606 113.735h1.6v1h-1.6zM162.609 125.903h1v1h-1zM169.097 120.541h1v1h-1zM174.416 127.277h1.6v1h-1.6zM169.719 113.713h1.6v1h-1.6zM164.944 125.793h1v1h-1zM169.293 124.76h1v1h-1zM168.9 112.99h1v1h-1zM163.288 127.197h1.6v1h-1.6zM170.587 116.599h1.6v1h-1.6zM171.797 117.754h1v1h-1zM172.806 112.055h1v1h-1zM167.682 114.031h1v1h-1zM169.231 114.51h1v1h-1zM164.563 120.661h1v1h-1zM170.332 112.391h1.6v1h-1.6zM162.749 126.766h1.6v1h-1.6zM167.711 118.218h1.6v1h-1.6zM171.059 123.625h1.6v1h-1.6zM167.953 127.316h1.6v1h-1.6zM173.588 118.181h1v1h-1zM169.177 125.922h1v1h-1zM168.552 118.543h1.6v1h-1.6zM165.434 112.653h1.6v1h-1.6zM174.276 123.219h1v1h-1zM172.014 116.554h1v1h-1zM161.605 113.741h1v1h-1zM168.21 117.989h1v1h-1zM171.144 120.009h1v1h-1z" fill="#737d96" fill-opacity="0.3"/>
<path d="M165.214 117.97h1v1h-1zM161.584 126.016h1.6v1h-1.6zM170.699 125.317h1v1h-1zM172.828 115.26h1.6v1h-1.6zM169.189 125.893h1v1h-1zM172.631 113.731h1v1h-1zM175.052 111.809h1v1h-1zM165.107 116.866h1v1h-1zM174.2 124.521h1v1h-1zM165.98 120.934h1v1h-1z" fill="#4a5578" fill-opacity="0.3"/>
<line x1="160.54" y1="111.8" x2="160.54" y2="128.4" stroke="#8088a0" stroke-width="0.5" opacity="0.18"/>
<rect x="95.5" y="128.4" width="16.31" height="15.9" fill="#d6d6da"/>
<path d="M102.742 138.196h1.6v1h-1.6zM97.676 128.562h1v1h-1zM99.682 140.474h1.6v1h-1.6zM104.678 136.717h1.6v1h-1.6zM97.717 134.957h1v1h-1zM109.325 129.276h1.6v1h-1.6zM96.639 138.635h1v1h-1zM101.674 140.952h1v1h-1zM96.428 142.034h1v1h-1zM96.888 143.108h1.6v1h-1.6zM97.217 134.706h1v1h-1zM100.269 137.66h1v1h-1zM106.134 129.165h1v1h-1zM107.948 134.368h1v1h-1zM104.595 135.504h1v1h-1zM95.965 139.222h1.6v1h-1.6zM110.398 138.288h1v1h-1zM101.041 138.683h1.6v1h-1.6zM97.237 131.901h1v1h-1zM103.303 140.471h1v1h-1zM95.929 140.656h1v1h-1zM103.42 131.71h1v1h-1zM101.425 139.902h1v1h-1zM103.893 131.053h1.6v1h-1.6zM96.062 132.521h1v1h-1zM105.22 129.176h1v1h-1zM98.686 132.6h1v1h-1zM110.13 135.567h1.6v1h-1.6zM98.057 142.171h1v1h-1zM98.388 139.553h1.6v1h-1.6zM95.602 132.397h1.6v1h-1.6zM100.716 132h1v1h-1zM96.111 137.624h1.6v1h-1.6zM110.737 135.904h1v1h-1zM100.421 140.132h1.6v1h-1.6zM105.257 131.82h1v1h-1z" fill="#8e8e98" fill-opacity="0.24"/>
<rect x="111.76" y="128.4" width="16.31" height="15.9" fill="#d8d8dc"/>
<path d="M119.045 137.742h1v1h-1zM126.206 141.725h1v1h-1zM116.206 141.41h1v1h-1zM126.164 136.076h1.6v1h-1.6zM122.514 131.59h1v1h-1zM115.65 138.581h1.6v1h-1.6zM113.77 141.608h1v1h-1zM115.441 134.886h1.6v1h-1.6zM120.305 137.709h1.6v1h-1.6zM126.44 139.73h1v1h-1zM120.74 141.824h1.6v1h-1.6zM120.613 133.577h1v1h-1zM122.989 136.794h1v1h-1zM122.597 141.867h1.6v1h-1.6zM125.455 141.967h1v1h-1zM123.802 134.054h1v1h-1zM117.149 133.05h1.6v1h-1.6zM122.276 136.47h1.6v1h-1.6zM113.663 136.36h1.6v1h-1.6zM117.775 132.062h1v1h-1zM116.698 138.611h1v1h-1zM113.142 133.056h1.6v1h-1.6zM123.352 138.225h1.6v1h-1.6zM117.339 128.843h1v1h-1zM118.531 131.073h1.6v1h-1.6zM116.968 131.951h1v1h-1zM126.162 128.515h1v1h-1zM116.028 131.4h1v1h-1zM115.123 142.091h1v1h-1zM122.413 130.819h1v1h-1zM121.016 140.959h1v1h-1zM118.774 141.137h1.6v1h-1.6zM115.232 136.416h1.6v1h-1.6zM117.792 138.433h1.6v1h-1.6zM126.599 136.653h1.6v1h-1.6zM117.104 139.311h1v1h-1z" fill="#8e8e98" fill-opacity="0.24"/>
<line x1="111.76" y1="128.4" x2="111.76" y2="144.3" stroke="#8088a0" stroke-width="0.5" opacity="0.18"/>
<rect x="128.02" y="128.4" width="16.31" height="15.9" fill="#d6d6da"/>
<path d="M135.648 133.777h1v1h-1zM130.094 131.763h1v1h-1zM131.863 129.084h1.6v1h-1.6zM132.379 142.348h1v1h-1zM133.957 141.409h1.6v1h-1.6zM132.918 130.275h1.6v1h-1.6zM140.879 137.467h1.6v1h-1.6zM134.314 137.605h1v1h-1zM134.229 134.057h1v1h-1zM134.117 140.427h1v1h-1zM131.15 132.195h1.6v1h-1.6zM135.997 129.189h1.6v1h-1.6zM141.35 140.635h1v1h-1zM139.231 132.952h1v1h-1zM141.224 140.812h1v1h-1zM141.446 128.766h1v1h-1zM128.218 130.949h1v1h-1zM138.944 132.819h1v1h-1zM130.829 133.048h1.6v1h-1.6zM137.281 129.925h1.6v1h-1.6zM136.203 135.082h1v1h-1zM137.962 140.331h1v1h-1zM137.718 135.363h1.6v1h-1.6zM133.948 134.582h1v1h-1zM138.931 132.55h1.6v1h-1.6zM135.521 141.147h1.6v1h-1.6zM142.614 138.569h1v1h-1zM134.213 137.454h1.6v1h-1.6zM140.824 130.327h1v1h-1zM129.67 129.655h1v1h-1zM128.148 132.118h1v1h-1zM138.477 137.576h1.6v1h-1.6zM142.678 139.526h1.6v1h-1.6zM128.448 131.796h1.6v1h-1.6zM135.275 131.478h1.6v1h-1.6zM134.483 136.492h1v1h-1zM131.709 129.699h1.6v1h-1.6zM142.559 143.102h1.6v1h-1.6zM142.264 133.797h1v1h-1zM142.113 137.342h1.6v1h-1.6zM128.211 131.805h1v1h-1z" fill="#8e8e98" fill-opacity="0.24"/>
<line x1="128.02" y1="128.4" x2="128.02" y2="144.3" stroke="#8088a0" stroke-width="0.5" opacity="0.18"/>
<rect x="144.28" y="128.4" width="16.31" height="15.9" fill="#d7d7db"/>
<path d="M155.435 140.704h1.6v1h-1.6zM149.464 134.086h1.6v1h-1.6zM159.381 135.626h1v1h-1zM153.809 136.385h1v1h-1zM147.798 134.142h1.6v1h-1.6zM146.216 136.46h1.6v1h-1.6zM155.648 132.157h1v1h-1zM145.842 139.382h1.6v1h-1.6zM146.917 136.566h1v1h-1zM153.088 134.038h1v1h-1zM149.695 143.264h1v1h-1zM151.948 135.253h1v1h-1zM150.38 131.454h1v1h-1zM149.882 133.613h1.6v1h-1.6zM148.81 133.352h1.6v1h-1.6zM150.342 136.084h1.6v1h-1.6zM145.404 138.406h1v1h-1zM148.098 140.466h1.6v1h-1.6zM154.561 130.957h1v1h-1zM148.593 140.933h1v1h-1zM147.275 137.907h1.6v1h-1.6zM153.28 135.535h1.6v1h-1.6zM151.276 142.362h1v1h-1zM151.381 133.755h1.6v1h-1.6zM155.748 131.964h1v1h-1zM155.366 135.873h1.6v1h-1.6zM153.683 139.044h1v1h-1zM148.958 128.767h1.6v1h-1.6zM156.334 134.215h1.6v1h-1.6zM158.051 130.657h1.6v1h-1.6zM150.702 133.082h1v1h-1zM150.595 129.172h1v1h-1zM146.063 132.979h1v1h-1zM146.139 140.795h1v1h-1zM151.762 137.359h1.6v1h-1.6zM146.51 131.798h1.6v1h-1.6zM158.161 142.284h1v1h-1zM149.881 131.211h1.6v1h-1.6z" fill="#8e8e98" fill-opacity="0.24"/>
<line x1="144.28" y1="128.4" x2="144.28" y2="144.3" stroke="#8088a0" stroke-width="0.5" opacity="0.18"/>
<rect x="160.54" y="128.4" width="16.31" height="15.9" fill="#dadade"/>
<path d="M172.219 136.62h1.6v1h-1.6zM164.519 136.353h1.6v1h-1.6zM162.197 137.599h1v1h-1zM173.324 140.905h1.6v1h-1.6zM167.193 128.72h1v1h-1zM166.021 134.362h1v1h-1zM174.584 136.178h1v1h-1zM173.394 141.755h1v1h-1zM168.841 141.021h1v1h-1zM174.28 128.763h1.6v1h-1.6zM168.593 137.674h1.6v1h-1.6zM163.895 134.47h1.6v1h-1.6zM171.935 136.211h1.6v1h-1.6zM170.875 141.351h1.6v1h-1.6zM166.084 132.673h1v1h-1zM162.422 129.034h1.6v1h-1.6zM162.687 137.382h1v1h-1zM175.284 136.338h1v1h-1zM173.154 141.216h1.6v1h-1.6zM163.949 134.398h1.6v1h-1.6zM164.851 136.883h1.6v1h-1.6zM172.009 140.677h1.6v1h-1.6zM164.895 139.658h1v1h-1zM163.125 128.709h1.6v1h-1.6zM166.002 129.801h1v1h-1zM166.871 133.246h1v1h-1zM168.762 136.294h1.6v1h-1.6zM174.347 132.85h1.6v1h-1.6zM165.349 142.361h1v1h-1zM165.393 142.285h1.6v1h-1.6zM171.321 131.446h1v1h-1zM175.185 129.382h1v1h-1zM167.114 140.606h1.6v1h-1.6zM175.776 140.011h1v1h-1zM174.449 133.118h1v1h-1zM175.18 141.53h1.6v1h-1.6z" fill="#8e8e98" fill-opacity="0.24"/>
<line x1="160.54" y1="128.4" x2="160.54" y2="144.3" stroke="#8088a0" stroke-width="0.5" opacity="0.18"/>
<rect x="247.3" y="111.2" width="16.21" height="16.4" fill="#c6cee0"/>
<path d="M251.227 121.753h1.6v1h-1.6zM260.176 114.06h1v1h-1zM249.531 114.668h1.6v1h-1.6zM249.274 119.382h1v1h-1zM251.767 117.846h1.6v1h-1.6zM256.523 111.422h1v1h-1zM249.524 124.618h1.6v1h-1.6zM259.52 123.926h1.6v1h-1.6zM261.692 123.424h1v1h-1zM260.185 118.696h1.6v1h-1.6zM255.852 117.815h1v1h-1zM253.816 116.032h1v1h-1zM259.726 123.493h1.6v1h-1.6zM257.774 119.735h1.6v1h-1.6zM249.344 121.623h1v1h-1zM249.978 114.32h1v1h-1zM251.14 118.276h1.6v1h-1.6zM253.3 113.214h1v1h-1zM250.869 114.829h1v1h-1zM252.855 112.328h1.6v1h-1.6zM261.758 117.201h1.6v1h-1.6zM261.444 111.865h1v1h-1zM259.52 124.107h1.6v1h-1.6zM249.722 117.568h1.6v1h-1.6zM260.735 123.569h1v1h-1zM260.241 116.971h1.6v1h-1.6zM249.377 126.158h1.6v1h-1.6zM258.256 114.46h1.6v1h-1.6zM256.106 120.305h1v1h-1zM258.332 116.457h1v1h-1zM249.794 121.734h1v1h-1zM250.719 112.265h1.6v1h-1.6zM255.731 119.567h1v1h-1zM253.964 116.483h1v1h-1zM247.345 126.568h1v1h-1zM251.871 115.342h1v1h-1zM248.474 118.436h1v1h-1z" fill="#737d96" fill-opacity="0.24"/>
<rect x="263.46" y="111.2" width="16.21" height="16.4" fill="#c0c8da"/>
<path d="M276.111 111.288h1v1h-1zM270.988 126.135h1v1h-1zM270.649 121.51h1v1h-1zM263.941 118.921h1.6v1h-1.6zM274.654 115.178h1.6v1h-1.6zM276.333 115.182h1v1h-1zM268.85 114.962h1v1h-1zM266.55 116.603h1v1h-1zM269.488 112.536h1.6v1h-1.6zM272.553 111.263h1.6v1h-1.6zM266.347 118.603h1v1h-1zM268.506 115.657h1v1h-1zM265.537 124.499h1v1h-1zM275.944 114.561h1v1h-1zM269.347 111.714h1v1h-1zM268.933 118.005h1.6v1h-1.6zM278.466 111.871h1v1h-1zM265.421 123.577h1v1h-1zM276.996 119.599h1v1h-1zM263.535 115.021h1.6v1h-1.6zM265.73 118.575h1v1h-1zM268.69 123.547h1v1h-1zM274.351 121.465h1.6v1h-1.6zM271.342 125.375h1v1h-1zM272.151 120.757h1.6v1h-1.6zM277.067 112.977h1v1h-1zM271.553 123.711h1v1h-1zM268.001 126.013h1v1h-1zM264.777 112.002h1v1h-1zM274.48 112.85h1.6v1h-1.6zM276.594 126.594h1.6v1h-1.6zM269.893 120.781h1.6v1h-1.6zM274.315 115.673h1.6v1h-1.6zM265.119 115.95h1.6v1h-1.6zM270.604 115.324h1.6v1h-1.6zM270.285 111.257h1v1h-1zM267.387 116.312h1.6v1h-1.6zM267.209 124.291h1.6v1h-1.6zM269.769 126.496h1.6v1h-1.6zM270.798 115.226h1v1h-1zM277.135 119.465h1v1h-1zM269.154 118.532h1v1h-1zM272.146 111.727h1.6v1h-1.6zM266.169 112.784h1v1h-1zM268.118 124.832h1v1h-1zM271.364 124.052h1v1h-1zM274.759 121.195h1v1h-1zM278.003 111.539h1.6v1h-1.6zM265.634 124.132h1v1h-1zM264.272 118.911h1.6v1h-1.6zM267.362 118.692h1.6v1h-1.6zM267.154 119.367h1v1h-1zM270.273 122.9h1v1h-1zM266.802 111.983h1.6v1h-1.6zM269.936 125.277h1.6v1h-1.6zM264.982 125.278h1.6v1h-1.6zM275.846 124.002h1.6v1h-1.6zM274.388 121.475h1v1h-1zM267.359 113.256h1.6v1h-1.6zM272.503 112.069h1.6v1h-1.6zM272.708 119.078h1.6v1h-1.6zM276.745 117.069h1.6v1h-1.6zM271.029 120.007h1v1h-1zM277.604 118.045h1.6v1h-1.6zM268.588 121.554h1.6v1h-1.6zM273.824 116.98h1v1h-1zM270.712 117.58h1.6v1h-1.6zM275.351 126.387h1v1h-1zM269.683 119.888h1.6v1h-1.6zM264.672 114.519h1v1h-1zM268.381 115.818h1.6v1h-1.6zM266.609 125.576h1v1h-1zM266.55 126.205h1v1h-1zM265.171 113.18h1v1h-1zM269.322 114.471h1v1h-1zM263.698 121.953h1v1h-1zM266.968 119.908h1.6v1h-1.6zM273.457 122.116h1.6v1h-1.6zM275.545 124.337h1v1h-1z" fill="#737d96" fill-opacity="0.33"/>
<path d="M264.279 120.762h1v1h-1zM271.358 123.241h1v1h-1zM274.164 117.768h1v1h-1zM267.17 115.536h1v1h-1zM271.858 125.164h1v1h-1zM274.309 112.693h1.6v1h-1.6zM265.896 124.407h1.6v1h-1.6zM267.317 123.646h1v1h-1zM268.09 112.789h1v1h-1zM265.042 122.048h1v1h-1zM269.829 122.132h1v1h-1zM268.488 116.799h1v1h-1zM276.905 112.559h1v1h-1zM275.556 123.804h1v1h-1zM269.848 113.344h1v1h-1z" fill="#4a5578" fill-opacity="0.3"/>
<line x1="263.46" y1="111.2" x2="263.46" y2="127.6" stroke="#8088a0" stroke-width="0.5" opacity="0.18"/>
<rect x="279.62" y="111.2" width="16.21" height="16.4" fill="#bec6d8"/>
<path d="M287.511 114.955h1v1h-1zM293.35 111.497h1v1h-1zM291.014 122.7h1v1h-1zM290.87 119.877h1.6v1h-1.6zM293.921 123.499h1v1h-1zM291.291 118.774h1v1h-1zM292.012 120.739h1v1h-1zM279.929 123.361h1v1h-1zM286.124 115.628h1v1h-1zM285.698 124.044h1v1h-1zM288.085 123.258h1v1h-1zM287.752 122.755h1.6v1h-1.6zM290.894 124.92h1v1h-1zM288.036 114.102h1v1h-1zM286.207 118.882h1.6v1h-1.6zM280.266 116.584h1.6v1h-1.6zM286.578 124.265h1v1h-1zM291.31 117.841h1v1h-1zM280.483 117.404h1.6v1h-1.6zM290.765 119.886h1v1h-1zM280.211 121.968h1v1h-1zM290.597 120.624h1v1h-1zM292.879 113.235h1.6v1h-1.6zM280.924 126.125h1v1h-1zM286.408 125.611h1v1h-1zM287.328 112.123h1.6v1h-1.6zM289.31 114.89h1v1h-1zM285.988 125.602h1.6v1h-1.6zM286.676 111.751h1.6v1h-1.6zM282.684 122.456h1v1h-1zM294.229 113.474h1.6v1h-1.6zM290.539 111.466h1v1h-1zM284.09 121.908h1.6v1h-1.6zM289.718 118.808h1.6v1h-1.6zM283.389 118.402h1v1h-1zM290.544 112.213h1v1h-1zM282.342 119.873h1v1h-1zM280.036 120.823h1.6v1h-1.6zM293.086 121.63h1.6v1h-1.6zM281.783 120.884h1.6v1h-1.6zM282.279 113.354h1v1h-1zM287.554 123.323h1.6v1h-1.6zM288.289 112.394h1.6v1h-1.6zM287.388 113.812h1.6v1h-1.6zM283.344 115.956h1v1h-1zM291.009 112.845h1v1h-1zM283.185 121.533h1.6v1h-1.6zM283.624 122.284h1v1h-1zM282.919 115.445h1v1h-1zM291.851 120.468h1v1h-1zM291.467 120.135h1v1h-1zM283.275 117.989h1.6v1h-1.6zM283.73 113.331h1.6v1h-1.6zM286.322 112.287h1.6v1h-1.6zM281.279 116.819h1.6v1h-1.6zM289.69 125.044h1v1h-1zM288.253 124.742h1v1h-1zM290.453 118.385h1.6v1h-1.6zM294.143 116.433h1.6v1h-1.6zM284.848 124.869h1.6v1h-1.6zM292.624 124.657h1v1h-1zM294.029 113.594h1v1h-1zM280.747 120.181h1.6v1h-1.6zM283.944 123.706h1v1h-1zM282.613 114.178h1v1h-1zM285.445 111.921h1v1h-1zM294.395 118.474h1.6v1h-1.6zM286.085 112.295h1.6v1h-1.6zM282.805 113.081h1.6v1h-1.6zM289.862 111.365h1.6v1h-1.6zM279.934 113.756h1v1h-1zM291.708 122.635h1.6v1h-1.6zM286.135 125.244h1v1h-1zM294.187 111.973h1v1h-1zM291.004 123.054h1.6v1h-1.6zM283.388 124.548h1v1h-1zM282.747 112.686h1.6v1h-1.6zM280.466 114.584h1v1h-1zM293.162 123.993h1.6v1h-1.6zM289.185 111.378h1.6v1h-1.6zM282.508 125.789h1.6v1h-1.6zM280.62 122.461h1v1h-1zM281.203 124.673h1v1h-1zM284.086 119.826h1v1h-1z" fill="#737d96" fill-opacity="0.33"/>
<path d="M286.044 121.202h1.6v1h-1.6zM281.478 124.964h1v1h-1zM282.75 116.339h1v1h-1zM281 121.293h1v1h-1zM282.496 119.126h1v1h-1zM289.949 126.049h1v1h-1zM286.013 117.339h1v1h-1zM285.889 113.947h1v1h-1zM290.089 118.586h1v1h-1zM281.822 124.151h1v1h-1zM292.203 120.703h1.6v1h-1.6zM285.012 120.127h1v1h-1zM287.451 125.75h1v1h-1zM282.858 125.111h1.6v1h-1.6zM291.942 124.451h1v1h-1zM290.512 113.115h1.6v1h-1.6zM285.623 118.733h1v1h-1zM282.74 119.922h1.6v1h-1.6z" fill="#4a5578" fill-opacity="0.3"/>
<line x1="279.62" y1="111.2" x2="279.62" y2="127.6" stroke="#8088a0" stroke-width="0.5" opacity="0.18"/>
<rect x="295.78" y="111.2" width="16.21" height="16.4" fill="#c0c8da"/>
<path d="M302.584 117.959h1v1h-1zM298.669 115.583h1.6v1h-1.6zM310.409 116.969h1v1h-1zM300.891 124.501h1v1h-1zM298.547 116.056h1v1h-1zM298.008 114.773h1.6v1h-1.6zM309.864 115.186h1v1h-1zM304.678 111.658h1v1h-1zM304.476 118.357h1v1h-1zM302.076 111.503h1v1h-1zM298.467 114.877h1v1h-1zM308.147 111.45h1v1h-1zM298.386 114.333h1.6v1h-1.6zM310.351 126.068h1v1h-1zM303.991 117.848h1v1h-1zM302.191 120.615h1v1h-1zM307.679 118.073h1v1h-1zM309.353 119.982h1v1h-1zM309.489 118.588h1.6v1h-1.6zM302.88 124.427h1.6v1h-1.6zM302.486 116.826h1.6v1h-1.6zM308.475 120.476h1.6v1h-1.6zM303.781 117.591h1v1h-1zM299.861 113.558h1.6v1h-1.6zM304.156 112.485h1v1h-1zM302.209 123.614h1.6v1h-1.6zM307.294 115.708h1v1h-1zM310.143 117.169h1.6v1h-1.6zM296.542 118.59h1v1h-1zM309.567 125.995h1.6v1h-1.6zM300.812 124.633h1.6v1h-1.6zM296.936 117.741h1v1h-1zM300.405 114.907h1.6v1h-1.6zM298.955 119.724h1v1h-1zM302.781 126.051h1v1h-1zM297.411 125.071h1.6v1h-1.6zM303.45 115.743h1v1h-1zM306.901 120.138h1v1h-1zM306.258 112.728h1v1h-1zM309.095 125.248h1v1h-1zM307.639 124.822h1v1h-1zM297.946 112.805h1.6v1h-1.6zM300.955 119.308h1v1h-1zM310.145 115.478h1.6v1h-1.6zM305.216 116.681h1v1h-1zM304.298 116.231h1v1h-1zM298.449 111.803h1.6v1h-1.6zM298.853 125.36h1.6v1h-1.6zM310.282 118.432h1v1h-1zM297.059 120.769h1.6v1h-1.6zM306.077 125.212h1v1h-1zM305.563 122.035h1.6v1h-1.6zM299.579 125.539h1v1h-1zM304.709 116.252h1v1h-1zM298.421 117.124h1v1h-1zM302.807 117.445h1v1h-1zM298.337 118.401h1.6v1h-1.6zM308.641 113.507h1.6v1h-1.6zM297.999 116.211h1.6v1h-1.6zM300.918 112.777h1v1h-1zM304.68 119.064h1.6v1h-1.6zM303.553 116.808h1v1h-1zM304.593 122.659h1v1h-1zM301.702 115.069h1.6v1h-1.6zM310.814 120.212h1.6v1h-1.6zM300.702 113.629h1v1h-1zM305.135 125.325h1.6v1h-1.6zM305.982 124.434h1v1h-1zM302.279 115.21h1.6v1h-1.6zM306.244 119.268h1.6v1h-1.6zM309.614 111.907h1v1h-1zM302.869 122.2h1v1h-1zM302.493 121.418h1v1h-1zM305.929 112.13h1v1h-1zM305.463 124.499h1v1h-1zM305.859 121.422h1.6v1h-1.6zM302.623 116.08h1v1h-1zM309.227 123.139h1.6v1h-1.6zM307.197 116.042h1v1h-1z" fill="#737d96" fill-opacity="0.33"/>
<path d="M303.85 118.4h1.6v1h-1.6zM309.018 117.242h1v1h-1zM306.464 124.796h1v1h-1zM304.786 124.933h1.6v1h-1.6zM296.461 126.198h1v1h-1zM304.142 118.899h1.6v1h-1.6zM299.321 111.882h1.6v1h-1.6zM302.707 118.257h1v1h-1zM299.982 111.652h1v1h-1zM299.056 118.891h1.6v1h-1.6zM310.688 115.948h1v1h-1zM297.631 120.554h1v1h-1zM297.695 125.293h1v1h-1zM309.269 114.507h1v1h-1zM304.54 121.85h1v1h-1z" fill="#4a5578" fill-opacity="0.3"/>
<line x1="295.78" y1="111.2" x2="295.78" y2="127.6" stroke="#8088a0" stroke-width="0.5" opacity="0.18"/>
<rect x="311.94" y="111.2" width="16.21" height="16.4" fill="#c4ccde"/>
<path d="M319.552 119.854h1v1h-1zM316.704 118.079h1v1h-1zM313.431 112.108h1.6v1h-1.6zM315.722 121.588h1v1h-1zM325.34 111.639h1.6v1h-1.6zM319.997 125.182h1.6v1h-1.6zM312.127 111.981h1v1h-1zM312.608 124.521h1v1h-1zM322.19 125.759h1.6v1h-1.6zM327.029 121.181h1v1h-1zM326.698 114.539h1v1h-1zM318.229 119.595h1v1h-1zM326.494 126.464h1.6v1h-1.6zM319.475 125.843h1.6v1h-1.6zM312.675 124.83h1v1h-1zM313.355 115.096h1v1h-1zM319.282 125.893h1v1h-1zM321.743 118.953h1v1h-1zM327.041 125.301h1v1h-1zM325.134 118.143h1.6v1h-1.6zM326.007 121.043h1v1h-1zM312.736 118.383h1v1h-1zM316.075 120.079h1v1h-1zM315.772 118.615h1v1h-1zM322.644 114.767h1v1h-1zM323.048 115.565h1v1h-1zM321.373 116.591h1v1h-1zM326.633 126.151h1.6v1h-1.6zM326.689 123.412h1v1h-1zM326.084 113.14h1v1h-1zM319.605 113.1h1.6v1h-1.6zM320.209 114.414h1.6v1h-1.6zM313.206 118.722h1v1h-1zM326.157 113.427h1v1h-1zM322.755 115.869h1.6v1h-1.6zM313.656 112.366h1v1h-1zM320.371 118.585h1v1h-1zM319.098 124.714h1v1h-1zM314.163 115.022h1.6v1h-1.6zM324.24 112.94h1v1h-1zM326.935 126.117h1v1h-1zM320.004 111.925h1v1h-1zM314.552 121.711h1v1h-1zM320.5 116.267h1v1h-1zM326.344 119.26h1.6v1h-1.6zM322.863 114.691h1v1h-1zM324.33 123.162h1v1h-1zM324.216 115.787h1v1h-1zM325.464 125.341h1v1h-1zM314.103 115.307h1.6v1h-1.6zM326.572 121.26h1.6v1h-1.6zM324.403 118.516h1v1h-1zM324.038 120.76h1.6v1h-1.6zM327.057 118.37h1v1h-1zM313.89 120.203h1v1h-1zM316.719 118.999h1.6v1h-1.6zM322.266 118.285h1.6v1h-1.6zM321.458 125.272h1.6v1h-1.6zM324.804 114.91h1.6v1h-1.6zM312.031 123.736h1v1h-1zM321.173 115.422h1v1h-1zM323.202 113.312h1.6v1h-1.6zM313.188 114.405h1v1h-1zM320.591 121.345h1v1h-1zM325.074 111.637h1v1h-1zM317.901 120.625h1.6v1h-1.6zM325.386 116.591h1.6v1h-1.6zM322.406 113.665h1v1h-1z" fill="#737d96" fill-opacity="0.3"/>
<path d="M318.655 120.44h1v1h-1zM314.04 114.333h1v1h-1zM313.259 123.075h1.6v1h-1.6zM323.064 114.586h1v1h-1zM312.428 114.452h1v1h-1zM321.005 120.169h1v1h-1zM314.377 118.935h1.6v1h-1.6zM325.175 116.885h1v1h-1zM325.141 111.897h1.6v1h-1.6zM313.49 123.59h1.6v1h-1.6z" fill="#4a5578" fill-opacity="0.3"/>
<line x1="311.94" y1="111.2" x2="311.94" y2="127.6" stroke="#8088a0" stroke-width="0.5" opacity="0.18"/>
<rect x="247.3" y="127.6" width="16.21" height="15.8" fill="#d8d9e0"/>
<path d="M248.92 137.998h1.6v1h-1.6zM261.556 131.613h1v1h-1zM258.428 137.345h1v1h-1zM257.673 133.471h1.6v1h-1.6zM249.095 130.904h1.6v1h-1.6zM252.728 131.454h1.6v1h-1.6zM256.876 129.816h1v1h-1zM257.366 130.041h1.6v1h-1.6zM249.165 132.589h1v1h-1zM250.399 142.074h1v1h-1zM262.315 134.092h1.6v1h-1.6zM260.529 137.766h1v1h-1zM256.231 136.979h1v1h-1zM248.735 140.547h1v1h-1zM250.239 134.298h1v1h-1zM259.401 135.007h1v1h-1zM259.703 128.925h1v1h-1zM247.724 138.557h1v1h-1zM255.271 128.976h1v1h-1zM257.69 135.516h1v1h-1zM254.651 134.068h1v1h-1zM248.738 134.623h1v1h-1zM260.42 141.497h1v1h-1zM249.472 138.011h1v1h-1zM247.59 138.032h1.6v1h-1.6zM253.714 132.743h1v1h-1zM261.537 131.5h1v1h-1zM250.161 136.901h1v1h-1zM251.182 133.341h1v1h-1zM252.037 142.147h1v1h-1z" fill="#8e8e98" fill-opacity="0.24"/>
<rect x="263.46" y="127.6" width="16.21" height="15.8" fill="#d6d6dc"/>
<path d="M267.744 141.455h1v1h-1zM267.273 128.12h1v1h-1zM266.477 131.005h1.6v1h-1.6zM267.471 131.279h1.6v1h-1.6zM277.364 131.912h1.6v1h-1.6zM269.05 135.904h1v1h-1zM277.745 138.807h1v1h-1zM276.216 133.024h1v1h-1zM278.013 135.68h1.6v1h-1.6zM268.227 141.146h1.6v1h-1.6zM267.209 141.418h1v1h-1zM268.606 131.489h1v1h-1zM266.502 137.845h1v1h-1zM267.382 134.221h1v1h-1zM269.228 139.219h1v1h-1zM269.048 133.89h1v1h-1zM266.83 129.768h1.6v1h-1.6zM265.682 137.487h1v1h-1zM273.268 137.317h1v1h-1zM277.606 137.32h1v1h-1zM264.162 133.617h1v1h-1zM270.583 141.413h1.6v1h-1.6zM264.398 137.666h1.6v1h-1.6zM271.683 129.032h1.6v1h-1.6zM269.923 142.112h1.6v1h-1.6zM276.026 141.382h1v1h-1zM275.494 132.117h1v1h-1zM269.208 136.316h1v1h-1zM270.277 139.207h1v1h-1zM271.467 131.985h1.6v1h-1.6zM267.222 137.681h1.6v1h-1.6zM263.469 142.348h1v1h-1zM278.451 141.339h1.6v1h-1.6zM276.426 133.487h1v1h-1zM268.702 141.453h1v1h-1zM265.535 141.755h1.6v1h-1.6zM274.164 141.925h1v1h-1zM276.123 134.154h1.6v1h-1.6zM264.516 134.087h1v1h-1zM275.502 133.853h1.6v1h-1.6zM278.132 133.799h1v1h-1zM263.919 140.355h1v1h-1zM269.342 135.291h1v1h-1zM266.826 131.09h1v1h-1zM276.491 131.25h1v1h-1zM276.599 135.862h1v1h-1zM273.696 137.756h1.6v1h-1.6zM275.203 133.874h1v1h-1zM274.743 136.851h1.6v1h-1.6zM266.244 133.116h1.6v1h-1.6zM269.29 136.516h1v1h-1z" fill="#8e8e98" fill-opacity="0.27"/>
<line x1="263.46" y1="127.6" x2="263.46" y2="143.4" stroke="#8088a0" stroke-width="0.5" opacity="0.18"/>
<rect x="279.62" y="127.6" width="16.21" height="15.8" fill="#d5d5db"/>
<path d="M291.059 132.756h1v1h-1zM292.18 132.197h1v1h-1zM289.271 129.57h1.6v1h-1.6zM283.788 140.981h1v1h-1zM281.957 135.311h1.6v1h-1.6zM286.99 137h1v1h-1zM294.161 130.182h1.6v1h-1.6zM279.98 135.106h1v1h-1zM281.617 136.31h1.6v1h-1.6zM284.309 133.561h1v1h-1zM288.793 132.785h1v1h-1zM292.559 135.823h1v1h-1zM292.022 142.385h1v1h-1zM279.851 132.119h1.6v1h-1.6zM282.225 130.541h1.6v1h-1.6zM281.353 140.172h1v1h-1zM285.501 136.397h1v1h-1zM291.369 134.089h1.6v1h-1.6zM291.203 128.736h1.6v1h-1.6zM292.064 131.178h1v1h-1zM282.736 135.57h1.6v1h-1.6zM285.333 135.488h1v1h-1zM292.705 136.87h1.6v1h-1.6zM280.844 138.631h1v1h-1zM288.056 131.015h1.6v1h-1.6zM281.23 134.6h1v1h-1zM285.47 128.555h1.6v1h-1.6zM294.356 132.942h1.6v1h-1.6zM284.756 131.643h1v1h-1zM294.368 139.136h1.6v1h-1.6zM280.221 134.28h1v1h-1zM280.56 133.17h1v1h-1zM281.197 135.173h1.6v1h-1.6zM293.654 141.157h1v1h-1zM282.324 141.862h1v1h-1zM284.82 139.798h1v1h-1zM294.059 137.978h1.6v1h-1.6zM281.942 141.56h1v1h-1zM290.18 132.054h1v1h-1zM284.118 130.116h1.6v1h-1.6zM281.43 131.192h1.6v1h-1.6zM282.722 130.762h1v1h-1zM283.169 127.751h1.6v1h-1.6zM289.613 132.19h1.6v1h-1.6zM288.1 130.856h1.6v1h-1.6zM283.102 139.582h1.6v1h-1.6zM279.664 140.137h1v1h-1zM287.234 141.599h1v1h-1zM283.283 128.333h1.6v1h-1.6zM286.516 138.125h1.6v1h-1.6zM294.476 141.456h1.6v1h-1.6zM287.268 141.072h1v1h-1zM281.503 137.063h1v1h-1zM294.36 132.409h1v1h-1zM284.029 132.379h1v1h-1zM291.764 127.813h1v1h-1z" fill="#8e8e98" fill-opacity="0.27"/>
<line x1="279.62" y1="127.6" x2="279.62" y2="143.4" stroke="#8088a0" stroke-width="0.5" opacity="0.18"/>
<rect x="295.78" y="127.6" width="16.21" height="15.8" fill="#d6d6dc"/>
<path d="M299.518 141.786h1v1h-1zM302.515 141.471h1v1h-1zM301.609 133.509h1v1h-1zM306.452 131.846h1v1h-1zM304.445 138.947h1.6v1h-1.6zM303.075 141.658h1.6v1h-1.6zM309.997 138.17h1v1h-1zM301.236 140.332h1v1h-1zM307.121 133.336h1v1h-1zM296.053 138.406h1v1h-1zM303.27 138.341h1.6v1h-1.6zM310.102 137.42h1v1h-1zM309.861 128.405h1v1h-1zM309.803 140.112h1v1h-1zM308.945 130.221h1v1h-1zM300.279 141.369h1v1h-1zM300.713 135.12h1v1h-1zM308.989 129.18h1v1h-1zM310.902 127.78h1v1h-1zM301.971 140.628h1v1h-1zM304.425 139.507h1.6v1h-1.6zM308.377 127.842h1v1h-1zM296.097 140.218h1v1h-1zM297.214 133.951h1.6v1h-1.6zM295.991 137.07h1v1h-1zM300.684 128.221h1.6v1h-1.6zM308.382 138.994h1v1h-1zM299.567 141.844h1.6v1h-1.6zM310.464 133.741h1.6v1h-1.6zM306.051 139.229h1v1h-1zM307.667 134.98h1v1h-1zM303.021 128.207h1.6v1h-1.6zM300.856 130.273h1.6v1h-1.6zM303.752 132.28h1.6v1h-1.6zM309.995 133.891h1v1h-1zM295.783 132.878h1.6v1h-1.6zM303.516 142.308h1v1h-1zM296.042 128.511h1v1h-1zM307.227 142.225h1.6v1h-1.6zM304.952 133.243h1v1h-1zM297.758 133.476h1v1h-1zM308.056 135.567h1v1h-1zM308.694 132.042h1.6v1h-1.6zM306.658 136.893h1v1h-1zM305.374 140.96h1.6v1h-1.6zM304.25 141.817h1v1h-1zM309.826 140.673h1.6v1h-1.6zM297.449 140.738h1v1h-1zM300.831 141.681h1v1h-1zM305.557 130.951h1.6v1h-1.6zM299.059 129.174h1v1h-1zM302.713 138.731h1v1h-1zM300.205 131.948h1v1h-1zM297.778 135.904h1.6v1h-1.6zM306.205 131.39h1v1h-1zM297.207 134.578h1.6v1h-1.6z" fill="#8e8e98" fill-opacity="0.27"/>
<line x1="295.78" y1="127.6" x2="295.78" y2="143.4" stroke="#8088a0" stroke-width="0.5" opacity="0.18"/>
<rect x="311.94" y="127.6" width="16.21" height="15.8" fill="#d8d8de"/>
<path d="M311.951 137.175h1.6v1h-1.6zM316.178 132.315h1.6v1h-1.6zM314.299 131.585h1.6v1h-1.6zM319.796 130.079h1v1h-1zM319.384 140.437h1v1h-1zM322.321 135.464h1v1h-1zM318.205 139.758h1v1h-1zM320.232 134.686h1v1h-1zM318.222 130.12h1v1h-1zM312.396 135.993h1.6v1h-1.6zM325.187 141.407h1v1h-1zM324.071 132.903h1.6v1h-1.6zM319.083 138.598h1v1h-1zM326.484 134.497h1.6v1h-1.6zM314.67 138.372h1v1h-1zM318.134 133.219h1.6v1h-1.6zM320.696 131.671h1.6v1h-1.6zM312.55 134.658h1v1h-1zM313.584 130.841h1.6v1h-1.6zM312.272 138.252h1v1h-1zM324.615 140.185h1v1h-1zM325.947 129.7h1v1h-1zM315.541 137.939h1v1h-1zM322.394 130.79h1v1h-1zM316.885 141.842h1v1h-1zM322.539 134.233h1v1h-1zM313.404 130.936h1.6v1h-1.6zM315.016 134.707h1v1h-1zM313.944 133.079h1v1h-1zM325.846 139.139h1v1h-1zM316.384 131.134h1v1h-1zM319.99 141.963h1v1h-1zM314.829 133.469h1v1h-1zM312.959 127.917h1v1h-1zM312.199 139.783h1.6v1h-1.6zM319.035 142.359h1v1h-1zM326.267 130.843h1v1h-1zM318.263 135.454h1.6v1h-1.6zM313.851 138.093h1v1h-1zM326.273 139.394h1.6v1h-1.6zM312.621 128.47h1v1h-1zM318.647 128.11h1v1h-1zM312.818 142.31h1v1h-1zM315.899 129.82h1v1h-1zM313.567 139.393h1.6v1h-1.6z" fill="#8e8e98" fill-opacity="0.27"/>
<line x1="311.94" y1="127.6" x2="311.94" y2="143.4" stroke="#8088a0" stroke-width="0.5" opacity="0.18"/>
<rect x="91.2" y="283.3" width="16.25" height="16.1" fill="#b7c1d7"/>
<path d="M105.872 283.476h1.6v1h-1.6zM93.602 298.194h1v1h-1zM104.568 293.588h1.6v1h-1.6zM106.397 286.92h1v1h-1zM101.965 287.537h1v1h-1zM94.675 296.253h1.6v1h-1.6zM103.324 286.673h1.6v1h-1.6zM98.973 286.794h1v1h-1zM97.582 284.492h1v1h-1zM96.671 291.901h1.6v1h-1.6zM101.013 289.417h1.6v1h-1.6zM106.327 290.703h1.6v1h-1.6zM91.485 285.419h1v1h-1zM105.459 293.726h1.6v1h-1.6zM95.557 290.774h1.6v1h-1.6zM92.718 285.055h1v1h-1zM98.324 295.991h1v1h-1zM97.302 290.881h1v1h-1zM105.612 288.642h1v1h-1zM95.931 295.756h1v1h-1zM104.953 288.376h1v1h-1zM92.328 297.003h1.6v1h-1.6zM98.412 285.043h1v1h-1zM96.917 295.984h1.6v1h-1.6zM102.465 287.637h1v1h-1zM104.788 297.562h1v1h-1zM98.799 290.563h1.6v1h-1.6zM91.854 284.232h1.6v1h-1.6zM99.858 290.281h1.6v1h-1.6zM100.219 293.756h1v1h-1zM92.491 283.435h1v1h-1zM101.057 289.035h1v1h-1zM100.602 293.949h1v1h-1zM95.938 295.708h1.6v1h-1.6zM104.781 296.778h1v1h-1zM101.371 288.556h1v1h-1zM99.075 285.473h1v1h-1zM106.191 288.298h1.6v1h-1.6zM101.603 288.054h1v1h-1zM100.394 293.901h1v1h-1zM92.098 285.901h1.6v1h-1.6zM102.279 284.935h1.6v1h-1.6zM99.953 288.356h1.6v1h-1.6zM93.157 284.783h1v1h-1zM102.414 291.571h1v1h-1zM104.983 289.248h1.6v1h-1.6zM91.27 295.122h1v1h-1zM101.166 295.961h1.6v1h-1.6zM99.998 291.605h1.6v1h-1.6zM96.805 286.827h1v1h-1zM99.109 285.055h1v1h-1zM98.297 285.662h1.6v1h-1.6zM103.033 288.415h1.6v1h-1.6zM106.206 293.299h1v1h-1zM95.341 285.262h1v1h-1zM106.382 284.212h1.6v1h-1.6zM101.797 295.137h1v1h-1zM101.021 286.398h1.6v1h-1.6zM103.272 294.194h1v1h-1zM104.646 286.763h1v1h-1zM104.355 284.141h1v1h-1zM97.582 296.546h1v1h-1zM99.854 290.869h1v1h-1zM98.394 290.371h1v1h-1zM97.773 289.688h1.6v1h-1.6zM106.042 287.031h1.6v1h-1.6zM91.562 288.321h1.6v1h-1.6zM93.77 293.402h1.6v1h-1.6zM100.502 290.239h1v1h-1zM98.056 290.305h1.6v1h-1.6zM97.133 295.467h1v1h-1zM100.857 294.757h1v1h-1zM105.693 290.097h1v1h-1zM105.983 291.924h1v1h-1zM94.447 286.623h1.6v1h-1.6zM98.89 293.246h1.6v1h-1.6zM101.572 288.183h1.6v1h-1.6zM98.037 285.957h1.6v1h-1.6z" fill="#737d96" fill-opacity="0.36"/>
<path d="M104.902 285.12h1.6v1h-1.6zM101.663 287.376h1v1h-1zM105.214 285.593h1.6v1h-1.6zM94.855 285.555h1.6v1h-1.6zM106.327 293.192h1.6v1h-1.6zM97.204 289.769h1.6v1h-1.6zM103.571 293.883h1v1h-1zM100.74 289.381h1.6v1h-1.6zM104.409 294.983h1v1h-1zM96.992 298.097h1v1h-1zM101.303 284.757h1v1h-1zM94.629 293.461h1v1h-1zM101.185 284.399h1.6v1h-1.6zM101.872 287.175h1v1h-1zM95.014 290.757h1v1h-1zM94.763 295.446h1.6v1h-1.6zM93.645 291.144h1.6v1h-1.6zM105.629 291.75h1v1h-1zM102.929 295.209h1.6v1h-1.6zM100.663 295.551h1v1h-1z" fill="#4a5578" fill-opacity="0.36"/>
<rect x="107.4" y="283.3" width="16.25" height="16.1" fill="#b7c1d7"/>
<path d="M119.065 286.657h1v1h-1zM113.384 291.151h1v1h-1zM116.319 288.081h1v1h-1zM117.371 297.363h1v1h-1zM107.522 296.191h1.6v1h-1.6zM120.18 292.904h1v1h-1zM108.393 297.203h1v1h-1zM109.263 292.736h1v1h-1zM113.311 292.409h1.6v1h-1.6zM112.859 286.259h1v1h-1zM119.87 284.672h1v1h-1zM112.685 297.676h1.6v1h-1.6zM122.101 284.028h1v1h-1zM109.608 292.14h1.6v1h-1.6zM114.726 293.721h1.6v1h-1.6zM115.104 289.187h1v1h-1zM118.35 298.12h1.6v1h-1.6zM121.446 296.104h1.6v1h-1.6zM114.932 285.122h1.6v1h-1.6zM110.189 297.351h1.6v1h-1.6zM111.706 296.989h1.6v1h-1.6zM119.74 284.938h1v1h-1zM109.757 297.515h1v1h-1zM114.148 294.659h1v1h-1zM117.005 292.733h1v1h-1zM121.494 293.397h1.6v1h-1.6zM118.52 292.659h1v1h-1zM121.302 297.533h1v1h-1zM112.992 286.127h1v1h-1zM116.203 289.843h1v1h-1zM114.724 293.804h1v1h-1zM117.219 293.253h1.6v1h-1.6zM122.582 296.599h1v1h-1zM108.663 288.335h1v1h-1zM120.364 288.827h1v1h-1zM118.441 290.255h1.6v1h-1.6zM117.417 292.307h1v1h-1zM111.052 293.697h1v1h-1zM116.21 296.577h1.6v1h-1.6zM120.134 288.839h1v1h-1zM111.613 296.967h1v1h-1zM109.265 284.337h1.6v1h-1.6zM110.581 284.454h1v1h-1zM108.059 294.326h1.6v1h-1.6zM113.825 294.255h1v1h-1zM119.509 292.996h1.6v1h-1.6zM109.566 297.678h1.6v1h-1.6zM114.695 288.129h1v1h-1zM118.172 290.269h1v1h-1zM121.885 294h1v1h-1zM121.226 295.195h1v1h-1zM114.899 287.85h1v1h-1zM113.022 295.925h1.6v1h-1.6zM111.141 284.315h1v1h-1zM113.102 291.481h1v1h-1zM113.881 291.275h1v1h-1zM121.865 286.617h1v1h-1zM117.411 295.959h1v1h-1zM117.043 287.134h1v1h-1zM122.128 284.32h1.6v1h-1.6zM107.881 287.816h1v1h-1zM121.069 295.437h1v1h-1zM107.522 294.674h1.6v1h-1.6zM121.583 285.311h1.6v1h-1.6zM116.785 296.549h1.6v1h-1.6zM119.07 296.134h1v1h-1zM122.404 292.416h1.6v1h-1.6zM109.688 291.098h1.6v1h-1.6zM122.081 292.535h1.6v1h-1.6zM107.753 284.878h1v1h-1zM120.69 294.07h1v1h-1zM121.316 291.081h1v1h-1zM121.723 294.455h1.6v1h-1.6zM119.268 290.913h1.6v1h-1.6zM109.413 283.415h1v1h-1zM121.857 284.63h1.6v1h-1.6zM115.584 285.291h1v1h-1zM118.329 289.17h1.6v1h-1.6z" fill="#737d96" fill-opacity="0.36"/>
<path d="M108.172 291.984h1.6v1h-1.6zM111.023 287.487h1v1h-1zM110.042 293.07h1.6v1h-1.6zM112.256 285.868h1.6v1h-1.6zM108.215 296.166h1v1h-1zM119.544 288.974h1.6v1h-1.6zM117.374 292.305h1v1h-1zM116.228 286.871h1.6v1h-1.6zM112.239 286.758h1v1h-1zM111.269 285.186h1v1h-1zM115.559 296.244h1.6v1h-1.6zM112.903 297.264h1v1h-1zM113.887 291.537h1v1h-1zM114.888 293.311h1v1h-1zM110.628 288.373h1v1h-1zM111.247 291.88h1v1h-1zM113.836 290.22h1.6v1h-1.6zM109.574 293.199h1v1h-1zM121.462 285.384h1v1h-1zM119.301 297.423h1.6v1h-1.6z" fill="#4a5578" fill-opacity="0.36"/>
<line x1="107.4" y1="283.3" x2="107.4" y2="299.4" stroke="#8088a0" stroke-width="0.5" opacity="0.18"/>
<rect x="123.6" y="283.3" width="16.25" height="16.1" fill="#b5bfd5"/>
<path d="M137.127 289.915h1v1h-1zM127.521 292.897h1.6v1h-1.6zM130.052 286.184h1.6v1h-1.6zM128.543 286.925h1.6v1h-1.6zM135.4 293.437h1.6v1h-1.6zM133.028 292.685h1v1h-1zM126.249 297.349h1v1h-1zM135.343 288.095h1.6v1h-1.6zM137.257 295.133h1v1h-1zM136.865 286.794h1v1h-1zM138.582 296.02h1v1h-1zM136.533 287.213h1.6v1h-1.6zM135.997 284.37h1v1h-1zM125.534 285.455h1.6v1h-1.6zM124.073 288.089h1.6v1h-1.6zM123.926 290.231h1.6v1h-1.6zM137.504 295.728h1v1h-1zM124.21 294.492h1v1h-1zM131.041 293.559h1.6v1h-1.6zM127.816 297.787h1v1h-1zM136.845 284.477h1v1h-1zM132.723 294.604h1.6v1h-1.6zM124.585 297.364h1.6v1h-1.6zM137.336 293.95h1v1h-1zM130.331 286.125h1v1h-1zM130.871 296.205h1.6v1h-1.6zM138.476 288.62h1v1h-1zM135.762 296.609h1v1h-1zM127.136 292.961h1v1h-1zM129.676 292.214h1.6v1h-1.6zM134.818 284.798h1v1h-1zM131.368 287.988h1v1h-1zM127.565 289.9h1.6v1h-1.6zM138.493 286.378h1v1h-1zM126.787 285.29h1v1h-1zM130.044 296.081h1v1h-1zM138.009 295.106h1v1h-1zM136.942 287.422h1v1h-1zM130.565 292.687h1.6v1h-1.6zM123.834 283.508h1.6v1h-1.6zM137.635 290.711h1.6v1h-1.6zM126.268 285.466h1v1h-1zM138.211 285.052h1v1h-1zM134.044 283.647h1.6v1h-1.6zM126.548 295.834h1.6v1h-1.6zM124.387 286.486h1v1h-1zM124.455 294.439h1v1h-1zM125.583 286.573h1.6v1h-1.6zM130.168 291.232h1v1h-1zM127.802 286.851h1v1h-1zM125.711 283.71h1.6v1h-1.6zM138.346 283.875h1.6v1h-1.6zM128.08 291.382h1v1h-1zM124.806 288.45h1v1h-1zM131.946 291.507h1v1h-1zM131.453 285.091h1.6v1h-1.6zM132.565 286.127h1v1h-1zM131.254 290.76h1v1h-1zM130.989 291.727h1.6v1h-1.6zM136.718 294.861h1v1h-1zM131.485 288.208h1v1h-1zM135.592 295.135h1.6v1h-1.6zM135.221 295.118h1v1h-1zM127.058 288.99h1v1h-1zM130.868 290.823h1v1h-1zM138.506 289.041h1v1h-1zM136.464 289.202h1.6v1h-1.6zM125.171 291.331h1v1h-1zM131.273 295.285h1v1h-1zM133.432 294.441h1v1h-1zM126.345 294.032h1.6v1h-1.6zM137.866 298.167h1.6v1h-1.6zM129.071 294.678h1.6v1h-1.6zM130.415 296.809h1v1h-1zM134.929 293.901h1v1h-1zM125.548 293.566h1v1h-1zM128.262 297.048h1.6v1h-1.6zM129.511 290.004h1v1h-1zM134.902 291.759h1.6v1h-1.6zM127.133 297.31h1v1h-1zM134.159 298.17h1.6v1h-1.6zM124.331 291.487h1.6v1h-1.6zM130.456 287.349h1v1h-1z" fill="#737d96" fill-opacity="0.36"/>
<path d="M129.04 293.177h1v1h-1zM136.426 287.411h1.6v1h-1.6zM138.374 288.474h1v1h-1zM128.66 284.428h1v1h-1zM135.486 288.057h1v1h-1zM136.219 283.363h1v1h-1zM126.324 288.787h1v1h-1zM134.269 287.421h1.6v1h-1.6zM125.666 296.204h1v1h-1zM135.526 285.599h1v1h-1zM132.785 284.674h1v1h-1zM133.212 289.629h1.6v1h-1.6zM131.771 283.955h1.6v1h-1.6zM138.399 285.509h1v1h-1zM132.486 292.868h1v1h-1zM126.305 290.736h1v1h-1zM131.669 297.331h1v1h-1zM138.75 297.343h1v1h-1zM131.184 285.202h1v1h-1zM132.065 284.022h1.6v1h-1.6zM134.336 298.082h1.6v1h-1.6zM136.363 288.231h1.6v1h-1.6zM127.024 297.118h1.6v1h-1.6z" fill="#4a5578" fill-opacity="0.36"/>
<line x1="123.6" y1="283.3" x2="123.6" y2="299.4" stroke="#8088a0" stroke-width="0.5" opacity="0.18"/>
<rect x="139.8" y="283.3" width="16.25" height="16.1" fill="#b7c1d7"/>
<path d="M151.264 295.346h1v1h-1zM152.102 286.49h1v1h-1zM141.142 295.472h1.6v1h-1.6zM146.469 283.946h1v1h-1zM152.18 293.193h1v1h-1zM153.778 291.702h1v1h-1zM154.823 288.412h1v1h-1zM153.416 297.33h1v1h-1zM153.321 287.261h1v1h-1zM140.913 285.736h1v1h-1zM143.876 295.993h1v1h-1zM140.902 290.769h1v1h-1zM139.921 297.296h1v1h-1zM141.531 287.224h1v1h-1zM146.402 293.396h1v1h-1zM148.107 284.078h1v1h-1zM143.816 292.769h1.6v1h-1.6zM154.406 290.414h1v1h-1zM145.178 289.029h1.6v1h-1.6zM150.028 290.631h1v1h-1zM150.94 293.983h1.6v1h-1.6zM147.477 294.719h1.6v1h-1.6zM153.55 285.673h1.6v1h-1.6zM148.175 296.877h1.6v1h-1.6zM152.758 295.343h1.6v1h-1.6zM154.997 292.107h1v1h-1zM148.499 292.414h1.6v1h-1.6zM149.178 289.665h1.6v1h-1.6zM147.107 286.831h1.6v1h-1.6zM149.923 292.34h1.6v1h-1.6zM148.248 290.261h1v1h-1zM149.317 287.451h1.6v1h-1.6zM153.537 293.927h1.6v1h-1.6zM141.311 293.119h1.6v1h-1.6zM147.887 293.524h1v1h-1zM150.407 287.154h1v1h-1zM151.48 291.22h1.6v1h-1.6zM142.584 291.857h1.6v1h-1.6zM150.281 286.27h1v1h-1zM147.713 291.657h1v1h-1zM152.671 292.353h1v1h-1zM154.799 292.588h1v1h-1zM146.028 288.624h1v1h-1zM142.065 284.674h1v1h-1zM150.242 288.728h1v1h-1zM145.69 297.74h1.6v1h-1.6zM143.795 293.653h1.6v1h-1.6zM152.811 290.574h1.6v1h-1.6zM143.074 294.2h1v1h-1zM150.827 287.997h1.6v1h-1.6zM141.679 288.178h1v1h-1zM147.26 284.193h1v1h-1zM143.526 283.819h1.6v1h-1.6zM152.645 297.856h1v1h-1zM145.286 292.193h1v1h-1zM139.963 289.219h1.6v1h-1.6zM143.678 287.483h1v1h-1zM152.203 288.63h1v1h-1zM143.438 285.668h1.6v1h-1.6zM154.137 295.435h1v1h-1zM144.503 292.729h1v1h-1zM143.703 293.625h1.6v1h-1.6zM149.935 288.396h1.6v1h-1.6zM153.429 292.973h1v1h-1zM143.05 296.71h1v1h-1zM141.095 287.491h1.6v1h-1.6zM152.194 296.967h1.6v1h-1.6zM150.783 292.434h1.6v1h-1.6zM148.369 297.986h1v1h-1zM140.451 294.707h1v1h-1zM153.548 290.285h1v1h-1zM142.084 289.791h1v1h-1zM139.986 284.868h1.6v1h-1.6zM153.258 284.225h1.6v1h-1.6zM148.014 290.222h1v1h-1zM154.897 293.065h1v1h-1zM147.419 288.458h1v1h-1zM141.001 297.81h1v1h-1z" fill="#737d96" fill-opacity="0.36"/>
<path d="M141.724 286.568h1v1h-1zM154.945 292.008h1v1h-1zM152.867 283.462h1.6v1h-1.6zM140.503 291.807h1.6v1h-1.6zM150.585 292.783h1v1h-1zM154.774 295.588h1v1h-1zM139.946 285.098h1v1h-1zM142.156 287.725h1v1h-1zM144.301 286.49h1v1h-1zM153.53 294.101h1.6v1h-1.6zM145.95 285.866h1v1h-1zM149.744 286.87h1v1h-1zM145.725 288.932h1v1h-1zM146.182 294.788h1.6v1h-1.6zM143.944 289.36h1.6v1h-1.6zM154.542 288.597h1v1h-1zM142.868 289.476h1.6v1h-1.6zM141.348 291.556h1.6v1h-1.6zM140.67 293.845h1v1h-1zM143.955 290.089h1v1h-1z" fill="#4a5578" fill-opacity="0.36"/>
<line x1="139.8" y1="283.3" x2="139.8" y2="299.4" stroke="#8088a0" stroke-width="0.5" opacity="0.18"/>
<rect x="156" y="283.3" width="16.25" height="16.1" fill="#b9c3d9"/>
<path d="M160.284 285.634h1v1h-1zM169.256 296.147h1v1h-1zM157.55 293.052h1v1h-1zM167.519 290.751h1v1h-1zM157.138 289.655h1v1h-1zM158.5 287.525h1v1h-1zM162.245 289.529h1v1h-1zM158.257 284.707h1v1h-1zM161.359 290.245h1.6v1h-1.6zM156.006 286.889h1.6v1h-1.6zM165.212 286.801h1.6v1h-1.6zM167.54 292.358h1.6v1h-1.6zM161.768 290.968h1v1h-1zM168.582 286.141h1.6v1h-1.6zM168.237 298.293h1v1h-1zM161.315 286.933h1v1h-1zM157.547 297.713h1v1h-1zM169.88 289.208h1v1h-1zM169.628 297.939h1v1h-1zM170.199 285.958h1v1h-1zM161.922 285.535h1v1h-1zM168.967 291.771h1v1h-1zM158.587 293.795h1v1h-1zM165.852 293.547h1.6v1h-1.6zM165.772 292.798h1v1h-1zM158.292 297.751h1v1h-1zM169.582 294.678h1v1h-1zM168.717 286.576h1v1h-1zM158.649 289.198h1.6v1h-1.6zM162.629 295.066h1.6v1h-1.6zM160.477 294.382h1v1h-1zM170.787 295.176h1v1h-1zM165.854 284.317h1.6v1h-1.6zM156.998 285.73h1.6v1h-1.6zM164.251 296.488h1v1h-1zM163.855 284.054h1.6v1h-1.6zM162.006 287.457h1v1h-1zM157.363 292.008h1.6v1h-1.6zM168.278 292.66h1v1h-1zM170.263 297.579h1.6v1h-1.6zM169.318 286.799h1.6v1h-1.6zM165.67 284.109h1v1h-1zM165.846 298.251h1.6v1h-1.6zM171.176 298.004h1v1h-1zM169.826 291.158h1.6v1h-1.6zM164.424 290.664h1v1h-1zM170.267 296.369h1v1h-1zM162.763 296.158h1v1h-1zM159.53 285.969h1v1h-1zM167.094 292.692h1.6v1h-1.6zM163.62 294.605h1v1h-1zM168.447 293.295h1.6v1h-1.6zM169.572 288.956h1.6v1h-1.6zM164.786 284.338h1.6v1h-1.6zM156.281 294.597h1.6v1h-1.6zM163.409 283.971h1v1h-1zM164.709 292.989h1.6v1h-1.6zM170.225 290.206h1.6v1h-1.6zM163.18 288.894h1v1h-1zM158.099 290.479h1.6v1h-1.6zM158.255 284.374h1v1h-1zM171.101 297.371h1.6v1h-1.6zM166.261 295.163h1.6v1h-1.6zM164.91 291.482h1v1h-1zM167.467 287.806h1.6v1h-1.6zM169.258 294.716h1v1h-1zM164.698 288.16h1v1h-1zM157.063 283.361h1v1h-1zM159.138 298.371h1v1h-1zM163.687 296.766h1v1h-1zM157.816 286.665h1v1h-1zM160.815 286.307h1v1h-1zM160.017 295.368h1.6v1h-1.6z" fill="#737d96" fill-opacity="0.36"/>
<path d="M167.373 287.343h1v1h-1zM163.222 286.589h1.6v1h-1.6zM166.765 290.252h1.6v1h-1.6zM158.141 283.664h1v1h-1zM170.896 288.192h1v1h-1zM158.978 289.755h1v1h-1zM156.064 283.748h1.6v1h-1.6zM169.766 287.192h1.6v1h-1.6zM163.467 284.171h1v1h-1zM158.333 292.245h1v1h-1zM164.281 291.684h1v1h-1zM159.354 285.934h1v1h-1zM163.765 288.56h1.6v1h-1.6zM170.72 286.761h1.6v1h-1.6zM165.932 291.413h1v1h-1zM170.998 294.509h1.6v1h-1.6zM163.631 291.025h1v1h-1zM161.862 293.606h1.6v1h-1.6z" fill="#4a5578" fill-opacity="0.36"/>
<line x1="156" y1="283.3" x2="156" y2="299.4" stroke="#8088a0" stroke-width="0.5" opacity="0.18"/>
<rect x="91.2" y="299.4" width="16.25" height="16.3" fill="#d6d7e2"/>
<path d="M96.695 306.751h1v1h-1zM97.991 305.666h1.6v1h-1.6zM95.135 309.115h1v1h-1zM95.791 304.526h1v1h-1zM102.5 304.145h1.6v1h-1.6zM105.734 303.279h1.6v1h-1.6zM103.476 309.612h1v1h-1zM98.143 308.989h1v1h-1zM94.61 304.14h1v1h-1zM103.175 304.721h1v1h-1zM100.974 313.91h1v1h-1zM91.869 314.3h1.6v1h-1.6zM103.213 307.408h1v1h-1zM93.549 304.055h1v1h-1zM92.199 310.099h1.6v1h-1.6zM91.399 312.289h1v1h-1zM105.165 306.669h1.6v1h-1.6zM98.105 308.779h1v1h-1zM91.546 301.602h1v1h-1zM97.374 305.05h1v1h-1zM101.222 305.52h1v1h-1zM98.969 313.977h1.6v1h-1.6zM101.162 311.9h1v1h-1zM92.734 300.825h1v1h-1zM91.339 308.971h1.6v1h-1.6zM92.927 309.908h1.6v1h-1.6zM102.834 301.744h1.6v1h-1.6zM95.083 302.126h1v1h-1zM99.186 313.46h1v1h-1zM93.438 305.341h1v1h-1zM98.26 310.573h1v1h-1zM91.793 299.864h1v1h-1zM101.341 313.552h1v1h-1zM92.77 302.704h1v1h-1zM92.845 301.173h1v1h-1zM103.976 303.034h1.6v1h-1.6z" fill="#8e8e98" fill-opacity="0.24"/>
<rect x="107.4" y="299.4" width="16.25" height="16.3" fill="#d8d8e2"/>
<path d="M120.717 306.023h1v1h-1zM110.206 309.612h1.6v1h-1.6zM120.48 302.593h1v1h-1zM107.734 304.061h1v1h-1zM109.281 300.566h1.6v1h-1.6zM112.036 307.034h1v1h-1zM114.577 308.419h1v1h-1zM114.853 300.617h1.6v1h-1.6zM117.565 310.477h1v1h-1zM114.428 311.737h1.6v1h-1.6zM108.197 304.523h1v1h-1zM118.206 305.557h1v1h-1zM110.789 306.348h1.6v1h-1.6zM116.992 302.791h1v1h-1zM116.871 300.249h1.6v1h-1.6zM107.748 308.963h1v1h-1zM121.936 309.985h1v1h-1zM115.055 312.335h1.6v1h-1.6zM117.475 309.169h1.6v1h-1.6zM121.316 307.26h1.6v1h-1.6zM119.533 307.214h1v1h-1zM116.224 304.745h1.6v1h-1.6zM118.771 313.269h1v1h-1zM107.741 313.649h1.6v1h-1.6zM122.561 311.852h1.6v1h-1.6zM109.761 302.243h1.6v1h-1.6zM118.921 301.198h1.6v1h-1.6zM110.894 302.515h1v1h-1zM110.168 300.775h1v1h-1zM107.896 301.704h1.6v1h-1.6zM119.255 311.223h1v1h-1zM118.844 301.162h1.6v1h-1.6zM113.632 301.279h1v1h-1zM110.342 310.768h1v1h-1zM107.658 302.346h1v1h-1zM121.863 305.69h1.6v1h-1.6z" fill="#8e8e98" fill-opacity="0.24"/>
<line x1="107.4" y1="299.4" x2="107.4" y2="315.7" stroke="#8088a0" stroke-width="0.5" opacity="0.18"/>
<rect x="123.6" y="299.4" width="16.25" height="16.3" fill="#d6d7e1"/>
<path d="M132.622 305.709h1.6v1h-1.6zM132.005 300.066h1.6v1h-1.6zM128.903 309.371h1v1h-1zM138.228 301.955h1v1h-1zM124.247 305.522h1.6v1h-1.6zM130.401 313.649h1v1h-1zM138.285 301.965h1.6v1h-1.6zM126.564 308.31h1.6v1h-1.6zM138.362 305.704h1.6v1h-1.6zM124.381 313.158h1v1h-1zM131.766 314.227h1v1h-1zM132.937 308.375h1v1h-1zM125.829 305.967h1v1h-1zM132.871 305.65h1v1h-1zM134.082 313.533h1.6v1h-1.6zM128.126 304.038h1.6v1h-1.6zM130.352 310.49h1v1h-1zM135.972 313.071h1v1h-1zM128.266 309.347h1.6v1h-1.6zM135.549 299.734h1v1h-1zM137.107 305.548h1.6v1h-1.6zM130.436 312.178h1v1h-1zM138.262 306.659h1v1h-1zM126.607 300.661h1v1h-1zM138.151 314.256h1.6v1h-1.6zM129.814 311.17h1.6v1h-1.6zM136.242 314.225h1.6v1h-1.6zM135.22 304.255h1v1h-1zM129.954 303.849h1.6v1h-1.6zM125.991 302.501h1.6v1h-1.6zM124.2 300.68h1v1h-1zM123.898 300.907h1.6v1h-1.6zM127.688 301.033h1v1h-1zM129.034 299.455h1v1h-1zM127.459 305.82h1v1h-1zM129.976 306.803h1.6v1h-1.6zM132.856 304.062h1v1h-1zM126.373 305.324h1.6v1h-1.6zM138.321 301.668h1.6v1h-1.6zM135.21 313.561h1.6v1h-1.6zM133.226 300.79h1v1h-1zM137.883 313.331h1.6v1h-1.6z" fill="#8e8e98" fill-opacity="0.24"/>
<line x1="123.6" y1="299.4" x2="123.6" y2="315.7" stroke="#8088a0" stroke-width="0.5" opacity="0.18"/>
<rect x="139.8" y="299.4" width="16.25" height="16.3" fill="#d8d8e2"/>
<path d="M144.921 311.365h1.6v1h-1.6zM145.819 304.527h1v1h-1zM147.979 299.692h1v1h-1zM154.988 305.624h1v1h-1zM148.761 307.488h1.6v1h-1.6zM147.89 299.694h1v1h-1zM143.799 304.924h1.6v1h-1.6zM147.356 301.401h1.6v1h-1.6zM144.584 305.84h1.6v1h-1.6zM150.737 303.131h1v1h-1zM139.95 313.703h1.6v1h-1.6zM152.251 302.533h1.6v1h-1.6zM146.362 301.718h1v1h-1zM153.055 308.7h1v1h-1zM141.871 308.384h1.6v1h-1.6zM142.861 302.994h1.6v1h-1.6zM143.962 306.442h1.6v1h-1.6zM150.977 304.184h1v1h-1zM143.552 300.02h1v1h-1zM142.027 303.334h1.6v1h-1.6zM141.631 300.632h1v1h-1zM149.406 303.15h1v1h-1zM147.717 310.598h1.6v1h-1.6zM140.708 304.721h1v1h-1zM145.164 309.59h1v1h-1zM146.321 304.081h1.6v1h-1.6zM152.109 312.995h1.6v1h-1.6zM153.389 309.252h1v1h-1zM141.808 313.946h1v1h-1zM151.012 307.957h1.6v1h-1.6zM142.838 301.843h1v1h-1zM150.941 308.535h1v1h-1zM142.903 305.891h1v1h-1zM141.266 314h1.6v1h-1.6zM151.852 305.126h1.6v1h-1.6zM152.117 302.974h1.6v1h-1.6z" fill="#8e8e98" fill-opacity="0.24"/>
<line x1="139.8" y1="299.4" x2="139.8" y2="315.7" stroke="#8088a0" stroke-width="0.5" opacity="0.18"/>
<rect x="156" y="299.4" width="16.25" height="16.3" fill="#dadae4"/>
<path d="M168.274 300.256h1v1h-1zM157.317 309.661h1v1h-1zM158.248 299.911h1v1h-1zM160.651 308.003h1v1h-1zM166.632 308.973h1v1h-1zM170.675 308.461h1v1h-1zM159.607 304.018h1.6v1h-1.6zM161.275 301.053h1v1h-1zM163.455 301.577h1v1h-1zM170.071 311.801h1v1h-1zM167.528 309.256h1v1h-1zM164.345 300.405h1.6v1h-1.6zM164.153 300.975h1v1h-1zM159.705 309.493h1.6v1h-1.6zM168.255 300.421h1v1h-1zM164.376 313.433h1v1h-1zM157.452 305.052h1v1h-1zM168.814 312.946h1v1h-1zM167.563 306.07h1v1h-1zM162.609 309.811h1v1h-1zM168.593 306.371h1v1h-1zM163.746 312.665h1v1h-1zM160.801 307.232h1.6v1h-1.6zM168.093 310.415h1v1h-1zM165.311 309.704h1v1h-1zM163.997 301.832h1.6v1h-1.6zM166.168 309.328h1.6v1h-1.6zM167.588 304.652h1.6v1h-1.6zM157.912 309.868h1v1h-1zM164.017 312.099h1v1h-1zM158.867 311.623h1v1h-1zM169.705 313.655h1v1h-1zM164.527 313.817h1.6v1h-1.6zM165.73 301.526h1v1h-1zM168.277 299.414h1.6v1h-1.6zM160.689 303.75h1.6v1h-1.6z" fill="#8e8e98" fill-opacity="0.24"/>
<line x1="156" y1="299.4" x2="156" y2="315.7" stroke="#8088a0" stroke-width="0.5" opacity="0.18"/>
<rect x="256" y="282.8" width="16.15" height="16.3" fill="#b5bfd6"/>
<path d="M263.882 295.142h1.6v1h-1.6zM260.373 294.521h1.6v1h-1.6zM265.987 284.485h1v1h-1zM261.801 294.22h1v1h-1zM263.574 287.657h1.6v1h-1.6zM270.272 288.944h1.6v1h-1.6zM256.939 295.233h1.6v1h-1.6zM258.279 293.595h1v1h-1zM270.423 286.013h1v1h-1zM269.325 292.573h1v1h-1zM257.236 297.179h1v1h-1zM271.045 284.967h1.6v1h-1.6zM268.282 296.876h1v1h-1zM261.62 283.591h1.6v1h-1.6zM261.355 297.48h1v1h-1zM267.693 296.077h1v1h-1zM264.408 297.448h1v1h-1zM261.432 286.888h1.6v1h-1.6zM258.91 292.04h1v1h-1zM264.358 284.781h1.6v1h-1.6zM269.84 287.679h1v1h-1zM269.727 291.649h1v1h-1zM256.147 294.325h1v1h-1zM263.054 286.969h1.6v1h-1.6zM267.008 287.54h1v1h-1zM270.901 296.724h1v1h-1zM264.519 293.296h1v1h-1zM267.048 297.485h1v1h-1zM261.913 285.793h1v1h-1zM258.277 284.489h1v1h-1zM268.715 291.016h1.6v1h-1.6zM269.895 295.205h1v1h-1zM269.982 284.22h1.6v1h-1.6zM268.668 292.859h1v1h-1zM257.133 284.103h1.6v1h-1.6zM259.65 290.944h1v1h-1zM258.467 287.317h1.6v1h-1.6zM263.351 288.809h1v1h-1zM264.365 290.69h1v1h-1zM270.608 294.302h1v1h-1zM260.805 285.689h1v1h-1zM256.429 294.191h1v1h-1zM262.382 296.47h1v1h-1zM264.737 297.025h1v1h-1zM265.256 288.43h1.6v1h-1.6zM267.397 287.441h1v1h-1zM264.932 290.735h1v1h-1zM258.901 291.608h1.6v1h-1.6zM267.551 289.676h1v1h-1zM263.614 291.005h1v1h-1zM256.183 286.83h1.6v1h-1.6zM268.477 289.951h1.6v1h-1.6zM259.19 286.888h1v1h-1zM266.559 283.222h1v1h-1zM269.682 292.168h1.6v1h-1.6zM257.49 296.702h1.6v1h-1.6zM256.395 291.01h1.6v1h-1.6zM259.353 292.734h1.6v1h-1.6zM267.989 289.35h1v1h-1zM264.141 285.678h1v1h-1zM260.068 288.114h1v1h-1zM268.376 297.722h1v1h-1zM256.113 294.277h1v1h-1zM267.44 295.508h1v1h-1zM267.036 287.158h1v1h-1zM261.047 291.037h1v1h-1zM263.466 287.135h1v1h-1zM259.775 293.218h1v1h-1zM259.025 288.393h1v1h-1zM270.866 294.845h1v1h-1zM260.437 289.469h1v1h-1zM261.865 290.807h1.6v1h-1.6zM258.328 291.356h1v1h-1zM264.075 287.652h1.6v1h-1.6zM269.303 297.437h1v1h-1zM265.313 285.38h1.6v1h-1.6zM267.748 289.333h1v1h-1zM267.447 294.28h1.6v1h-1.6zM260.359 286.512h1v1h-1zM258.884 282.907h1v1h-1zM263.44 289.387h1.6v1h-1.6zM261.711 285.406h1.6v1h-1.6zM257.1 287.998h1.6v1h-1.6z" fill="#737d96" fill-opacity="0.36"/>
<path d="M260.852 297.549h1.6v1h-1.6zM260.655 296.01h1.6v1h-1.6zM263.761 284.996h1v1h-1zM268.351 296.386h1.6v1h-1.6zM267.685 294.943h1v1h-1zM259.22 296.075h1.6v1h-1.6zM262.586 286.935h1v1h-1zM262.107 296.708h1v1h-1zM260.769 283.338h1v1h-1zM256.907 293.126h1v1h-1zM262.39 286.768h1v1h-1zM269.485 297.194h1.6v1h-1.6zM259.216 285.983h1v1h-1zM269.225 297.226h1v1h-1zM265.565 288.61h1v1h-1zM258.984 293.84h1.6v1h-1.6zM270.186 290.208h1v1h-1zM265.759 284.809h1.6v1h-1.6zM267.597 286.284h1v1h-1zM263.339 295.834h1.6v1h-1.6zM259.611 297.352h1.6v1h-1.6zM268.953 290.338h1v1h-1zM262.138 297.759h1v1h-1zM270.489 285.615h1v1h-1zM263.13 285.842h1v1h-1zM256.544 284.704h1v1h-1z" fill="#4a5578" fill-opacity="0.36"/>
<rect x="272.1" y="282.8" width="16.15" height="16.3" fill="#b6c0d6"/>
<path d="M273.422 287.335h1.6v1h-1.6zM276.025 287.564h1v1h-1zM276.075 291.42h1.6v1h-1.6zM272.57 291.008h1v1h-1zM285.966 293.573h1v1h-1zM281.403 296.58h1.6v1h-1.6zM283.689 284.446h1v1h-1zM279.328 287.838h1.6v1h-1.6zM279.544 297.772h1v1h-1zM284.299 284.538h1v1h-1zM274.348 288.649h1.6v1h-1.6zM286.578 283.425h1v1h-1zM273.753 294.168h1v1h-1zM275.073 295.175h1v1h-1zM285.468 286.903h1.6v1h-1.6zM273.704 284.271h1v1h-1zM276.765 292.654h1v1h-1zM277.094 283.055h1v1h-1zM272.147 289.859h1.6v1h-1.6zM280.206 287.748h1v1h-1zM283.662 296.119h1v1h-1zM281.862 287.343h1.6v1h-1.6zM283.046 291.828h1.6v1h-1.6zM283.606 283.886h1v1h-1zM272.689 285.158h1.6v1h-1.6zM280.739 285.865h1v1h-1zM278.433 284.106h1.6v1h-1.6zM277.854 283.662h1v1h-1zM278.348 294.474h1v1h-1zM275.699 290.475h1v1h-1zM274.054 294.053h1.6v1h-1.6zM284.649 292.864h1v1h-1zM284.035 286.029h1v1h-1zM275.195 290.918h1v1h-1zM278.68 295.232h1.6v1h-1.6zM275.104 284.665h1v1h-1zM272.872 286.802h1.6v1h-1.6zM284.625 288.711h1v1h-1zM280.55 297.31h1v1h-1zM281.596 298.071h1v1h-1zM281.037 295.21h1.6v1h-1.6zM274.708 294.83h1v1h-1zM282.069 291.963h1.6v1h-1.6zM280.729 296.924h1v1h-1zM272.46 284.905h1v1h-1zM282.951 296.839h1v1h-1zM272.218 288.653h1.6v1h-1.6zM278.124 287.082h1v1h-1zM282.862 292.08h1.6v1h-1.6zM277.04 290.084h1.6v1h-1.6zM282.667 286.799h1.6v1h-1.6zM278.853 284.171h1v1h-1zM279.623 287.564h1v1h-1zM283.022 286.743h1v1h-1zM279.777 282.922h1.6v1h-1.6zM276.142 285.275h1v1h-1zM275.319 283.294h1v1h-1zM272.708 288.222h1v1h-1zM275.268 285.477h1.6v1h-1.6zM280.793 292.083h1v1h-1zM286.041 283.295h1.6v1h-1.6zM281.971 289.087h1v1h-1zM280.272 291.694h1.6v1h-1.6zM272.957 284.164h1.6v1h-1.6zM276.39 291.675h1v1h-1zM272.616 295.403h1v1h-1zM277.137 294.176h1.6v1h-1.6zM285.032 297.024h1v1h-1zM275.627 289.818h1.6v1h-1.6zM281.903 292.363h1.6v1h-1.6zM275.36 291.473h1v1h-1zM285.396 287.539h1v1h-1zM281.65 293.598h1.6v1h-1.6zM283.389 284.838h1.6v1h-1.6zM272.664 293.992h1v1h-1zM273.618 288.346h1v1h-1zM275.289 297.593h1.6v1h-1.6zM277.688 290.358h1v1h-1zM276.896 284.862h1v1h-1zM284.868 297.495h1.6v1h-1.6zM284.204 289.205h1.6v1h-1.6zM284.33 296.611h1v1h-1zM280.023 283.93h1v1h-1zM279.237 291.844h1v1h-1zM277.279 284.953h1v1h-1zM283.882 287.025h1.6v1h-1.6zM284.766 286.835h1v1h-1zM284.156 282.939h1.6v1h-1.6zM278.241 293.126h1v1h-1z" fill="#737d96" fill-opacity="0.36"/>
<path d="M281.905 283.675h1v1h-1zM281.368 292.499h1v1h-1zM275.993 288.383h1v1h-1zM275.538 286.585h1v1h-1zM283.457 295.381h1v1h-1zM286.363 288.108h1.6v1h-1.6zM284.392 294.321h1.6v1h-1.6zM281.22 296.28h1v1h-1zM279.746 291.507h1v1h-1zM273.004 286.736h1.6v1h-1.6zM277.644 293.538h1.6v1h-1.6zM280.45 284.828h1v1h-1zM286.027 287.616h1v1h-1zM283.708 288.42h1v1h-1zM279.846 296.794h1v1h-1zM275.294 282.932h1v1h-1zM276.077 297.538h1.6v1h-1.6zM286.858 296.776h1v1h-1zM281.695 291.242h1v1h-1zM280.273 286.128h1v1h-1zM272.931 293.355h1v1h-1zM285.152 292.723h1v1h-1zM285.612 284.21h1v1h-1zM284.098 288.467h1.6v1h-1.6zM279.535 282.801h1.6v1h-1.6zM287.02 289.717h1.6v1h-1.6z" fill="#4a5578" fill-opacity="0.36"/>
<line x1="272.1" y1="282.8" x2="272.1" y2="299.1" stroke="#8088a0" stroke-width="0.5" opacity="0.18"/>
<rect x="288.2" y="282.8" width="16.15" height="16.3" fill="#b6bfd4"/>
<path d="M298.512 284.353h1.6v1h-1.6zM295.628 293.421h1v1h-1zM294.372 285.817h1.6v1h-1.6zM288.647 283.187h1v1h-1zM300.537 285.754h1.6v1h-1.6zM300.095 291.912h1v1h-1zM299.447 284.624h1v1h-1zM301.255 286.091h1v1h-1zM290.258 290.966h1.6v1h-1.6zM290.384 290.658h1.6v1h-1.6zM289.516 290.206h1v1h-1zM296.51 297.212h1.6v1h-1.6zM293.214 285.891h1v1h-1zM302.441 286.497h1v1h-1zM294.046 297.157h1v1h-1zM291.12 288.942h1v1h-1zM291.562 294.648h1v1h-1zM296.174 288.272h1.6v1h-1.6zM302.928 289.914h1v1h-1zM294.311 292.4h1v1h-1zM288.787 286.857h1v1h-1zM293.397 285.295h1v1h-1zM302.713 297.232h1v1h-1zM291.115 293.247h1.6v1h-1.6zM290.057 290.694h1v1h-1zM302.747 297.283h1v1h-1zM302.672 285.004h1v1h-1zM302.369 288.073h1.6v1h-1.6zM296.93 292.442h1.6v1h-1.6zM299.274 287.757h1v1h-1zM293.493 286.45h1v1h-1zM298.823 289.401h1v1h-1zM300.476 292.971h1.6v1h-1.6zM296.88 288.024h1.6v1h-1.6zM298.772 291.658h1.6v1h-1.6zM293.772 287.066h1v1h-1zM294.765 290.603h1v1h-1zM302.282 296.789h1v1h-1zM290.215 284.009h1.6v1h-1.6zM299.686 289.37h1.6v1h-1.6zM291.945 287.821h1v1h-1zM288.528 282.909h1.6v1h-1.6zM290.356 284.181h1.6v1h-1.6zM293.153 291.063h1v1h-1zM289.088 290.143h1.6v1h-1.6zM290.836 284.998h1.6v1h-1.6zM299.581 290.652h1.6v1h-1.6zM293.275 286.292h1v1h-1zM292.417 291.554h1.6v1h-1.6zM300.413 292.933h1v1h-1zM298.926 286.578h1v1h-1zM294.625 298.01h1v1h-1zM298.452 294.718h1.6v1h-1.6zM290.785 292.798h1.6v1h-1.6zM292.299 284.649h1v1h-1zM298.708 296.823h1v1h-1zM294.393 294.928h1.6v1h-1.6zM299.8 285.225h1v1h-1zM289.047 288.722h1.6v1h-1.6zM292.147 297.681h1v1h-1zM295.634 291.142h1v1h-1zM298.971 290.578h1.6v1h-1.6zM296.969 297.44h1.6v1h-1.6zM301.624 297.213h1.6v1h-1.6zM294.582 285.551h1v1h-1zM295.695 294.419h1v1h-1zM288.99 287.197h1v1h-1zM290.873 296.392h1v1h-1zM289.903 296.791h1v1h-1zM291.347 284.219h1v1h-1zM302.354 287.623h1v1h-1zM301.212 292.691h1.6v1h-1.6zM288.234 295.961h1.6v1h-1.6zM294.004 295.189h1v1h-1zM292.004 296.882h1v1h-1zM293.933 287.663h1v1h-1zM301.851 284.082h1.6v1h-1.6zM293.316 292.932h1v1h-1zM292.622 291.961h1.6v1h-1.6zM297.778 285.987h1.6v1h-1.6zM298.435 297.834h1v1h-1zM301.887 289.855h1.6v1h-1.6zM296.55 287.016h1.6v1h-1.6zM302.092 285.039h1v1h-1zM295.394 296.886h1.6v1h-1.6zM291.953 292.664h1.6v1h-1.6zM296.811 283.613h1v1h-1zM301.924 286.958h1.6v1h-1.6zM299.784 288.878h1v1h-1zM291.31 296.139h1.6v1h-1.6zM300.683 289.226h1.6v1h-1.6zM293.129 285.266h1v1h-1zM291.265 290.067h1v1h-1zM290.813 287.484h1.6v1h-1.6z" fill="#737d96" fill-opacity="0.36"/>
<path d="M301.452 296.076h1v1h-1zM295.133 293.042h1v1h-1zM294.087 294.549h1.6v1h-1.6zM290.432 290.536h1v1h-1zM294.776 296.232h1v1h-1zM300.579 295.544h1v1h-1zM299.581 294.65h1v1h-1zM290.105 286.27h1.6v1h-1.6zM293.58 294.765h1v1h-1zM300.285 286.974h1.6v1h-1.6zM292.574 294.003h1.6v1h-1.6zM303.072 285.887h1v1h-1zM301.693 292.459h1v1h-1zM289.725 291.882h1v1h-1zM289.328 289.732h1v1h-1zM295.368 290.199h1.6v1h-1.6zM290.62 297.022h1v1h-1zM300.267 289.095h1v1h-1zM296.977 288.865h1v1h-1zM302.884 291.939h1v1h-1zM292.121 297.234h1.6v1h-1.6zM292.824 297.559h1v1h-1zM302.499 297.32h1.6v1h-1.6zM292.533 297.306h1v1h-1zM288.355 289.932h1v1h-1zM294.436 282.918h1v1h-1zM291.583 287.888h1v1h-1zM297.137 294.926h1v1h-1zM295.957 286.287h1v1h-1zM292.958 288.929h1v1h-1zM302.917 291.072h1v1h-1z" fill="#4a5578" fill-opacity="0.36"/>
<line x1="288.2" y1="282.8" x2="288.2" y2="299.1" stroke="#8088a0" stroke-width="0.5" opacity="0.18"/>
<rect x="304.3" y="282.8" width="16.15" height="16.3" fill="#b8c2d8"/>
<path d="M318.151 291.892h1.6v1h-1.6zM316.524 297.528h1v1h-1zM314.393 296.448h1v1h-1zM317.771 283.849h1v1h-1zM307.47 287.907h1v1h-1zM308.253 290.926h1v1h-1zM308.942 296.486h1.6v1h-1.6zM319.002 293.863h1.6v1h-1.6zM315.557 297.053h1v1h-1zM318.998 283.094h1.6v1h-1.6zM314.665 284.628h1.6v1h-1.6zM309.885 296.727h1.6v1h-1.6zM310.955 297.904h1v1h-1zM307.614 296.062h1.6v1h-1.6zM308.865 289.138h1v1h-1zM315.199 283.372h1v1h-1zM314.611 293.909h1v1h-1zM307.989 286.433h1v1h-1zM314.523 290.853h1v1h-1zM310.662 295.586h1.6v1h-1.6zM315.66 287.249h1v1h-1zM313.694 283.041h1v1h-1zM305.998 286.367h1v1h-1zM305.224 297.444h1.6v1h-1.6zM304.535 296.029h1.6v1h-1.6zM318.6 294.969h1v1h-1zM315.321 284.133h1v1h-1zM316.576 283.862h1v1h-1zM318.4 289.639h1v1h-1zM310.066 288.001h1v1h-1zM316.781 289.137h1.6v1h-1.6zM314.337 297.293h1.6v1h-1.6zM312.631 288.457h1.6v1h-1.6zM307.632 285.277h1.6v1h-1.6zM318.679 296.4h1v1h-1zM315.231 293.641h1.6v1h-1.6zM310.291 290.15h1.6v1h-1.6zM306.398 288.324h1v1h-1zM313.709 287.238h1.6v1h-1.6zM304.824 296.636h1v1h-1zM310.644 283.961h1v1h-1zM314.635 288.987h1v1h-1zM305.966 291.428h1v1h-1zM312.809 289.899h1v1h-1zM305.928 295.547h1v1h-1zM315.096 293.54h1.6v1h-1.6zM313.366 292.397h1.6v1h-1.6zM309.448 286.546h1v1h-1zM317.217 290.933h1v1h-1zM318.948 294.556h1.6v1h-1.6zM314.417 285.712h1v1h-1zM307.378 294.786h1v1h-1zM307.897 288.736h1.6v1h-1.6zM317.509 290.408h1v1h-1zM307.686 290.869h1v1h-1zM312.689 290.601h1v1h-1zM316.262 288.566h1.6v1h-1.6zM307.981 294.637h1v1h-1zM310.822 288.606h1v1h-1zM309.492 283.094h1v1h-1zM313.113 285.406h1v1h-1zM308.065 284.926h1.6v1h-1.6zM318.971 294.195h1v1h-1zM318.889 285.996h1v1h-1zM304.738 297.945h1v1h-1zM317.649 295.11h1.6v1h-1.6zM317.777 297.433h1v1h-1zM314.808 290.289h1v1h-1zM309.947 296.003h1.6v1h-1.6zM308.874 289.194h1v1h-1zM310.292 285.507h1v1h-1zM304.46 298.061h1v1h-1zM314.365 290.236h1.6v1h-1.6zM317.024 284.063h1v1h-1zM318.571 296.448h1v1h-1zM313.919 285.612h1v1h-1zM311.893 293.955h1v1h-1zM312.141 288.286h1v1h-1zM305.218 288.306h1.6v1h-1.6zM318.423 288.358h1.6v1h-1.6zM306.275 292.781h1.6v1h-1.6zM316.618 297.494h1.6v1h-1.6zM316.948 285.486h1.6v1h-1.6z" fill="#737d96" fill-opacity="0.36"/>
<path d="M316.047 294.122h1.6v1h-1.6zM317.778 285.743h1.6v1h-1.6zM318.535 288.162h1v1h-1zM313.791 290.741h1v1h-1zM316.96 288.365h1.6v1h-1.6zM315.453 297.771h1v1h-1zM313.644 296.877h1.6v1h-1.6zM308.819 286.567h1.6v1h-1.6zM313.981 289.068h1.6v1h-1.6zM305.457 291.567h1.6v1h-1.6zM310.853 287.037h1.6v1h-1.6zM312.35 286.046h1v1h-1zM308.503 285.184h1v1h-1zM309.075 297.652h1v1h-1zM304.704 292.047h1.6v1h-1.6zM312.499 289.195h1v1h-1zM315.519 287.236h1.6v1h-1.6zM315.044 292.716h1v1h-1zM314.834 283.963h1v1h-1zM318.684 285.739h1.6v1h-1.6zM304.857 284.405h1v1h-1zM317.754 292.825h1.6v1h-1.6zM310.841 290.213h1.6v1h-1.6zM313.462 289.287h1v1h-1zM305.429 291.071h1v1h-1zM312.035 290.324h1v1h-1z" fill="#4a5578" fill-opacity="0.36"/>
<line x1="304.3" y1="282.8" x2="304.3" y2="299.1" stroke="#8088a0" stroke-width="0.5" opacity="0.18"/>
<rect x="320.4" y="282.8" width="16.15" height="16.3" fill="#bac4da"/>
<path d="M330.964 285.618h1v1h-1zM325.52 295.825h1v1h-1zM331.222 286.534h1.6v1h-1.6zM328.351 293.134h1v1h-1zM322.986 286.626h1v1h-1zM329.897 284.075h1v1h-1zM334.121 294.551h1v1h-1zM327.215 296.018h1.6v1h-1.6zM335.277 287.187h1v1h-1zM333.875 284.257h1v1h-1zM330.217 292.576h1v1h-1zM328.352 283.019h1v1h-1zM323.54 283.491h1v1h-1zM334.165 296.956h1v1h-1zM324.616 291.444h1.6v1h-1.6zM326.96 285.303h1v1h-1zM332.28 286.46h1.6v1h-1.6zM326.956 298.083h1v1h-1zM326.264 286.144h1v1h-1zM329.876 289.216h1.6v1h-1.6zM332.741 282.983h1v1h-1zM331.513 284.757h1.6v1h-1.6zM324.355 293.614h1v1h-1zM320.422 293.869h1v1h-1zM334.07 293.075h1v1h-1zM320.87 286.572h1.6v1h-1.6zM324.039 294.143h1v1h-1zM325.152 284.743h1.6v1h-1.6zM332.145 286.543h1v1h-1zM331.15 295.232h1v1h-1zM323.348 290.216h1v1h-1zM332.422 285.425h1.6v1h-1.6zM327.526 293.909h1v1h-1zM327.94 283.117h1.6v1h-1.6zM330.965 283.9h1v1h-1zM327.101 291.16h1v1h-1zM324.825 287.139h1.6v1h-1.6zM330.818 294.757h1v1h-1zM334.784 290.833h1.6v1h-1.6zM329.267 291.629h1.6v1h-1.6zM333.062 289.887h1v1h-1zM333.174 283.801h1v1h-1zM326.277 292.202h1v1h-1zM329.626 293.943h1.6v1h-1.6zM325.71 289.994h1.6v1h-1.6zM326.602 288.94h1v1h-1zM332.242 284.311h1v1h-1zM322.233 292.955h1v1h-1zM330.535 284.176h1.6v1h-1.6zM324.946 293.395h1.6v1h-1.6zM326.463 296.88h1.6v1h-1.6zM328.442 292.861h1.6v1h-1.6zM334.638 289.332h1v1h-1zM325.37 291.245h1.6v1h-1.6zM320.909 286.897h1.6v1h-1.6zM331.556 287.474h1v1h-1zM322.799 293.033h1.6v1h-1.6zM334.645 286.667h1v1h-1zM323.687 295.524h1v1h-1zM325.916 284.213h1.6v1h-1.6zM333.595 292.934h1v1h-1zM330.994 293.765h1.6v1h-1.6zM323.898 292.548h1.6v1h-1.6zM326.026 289.314h1v1h-1zM324.424 296.915h1v1h-1zM334.729 285.492h1.6v1h-1.6zM322.425 287.824h1v1h-1zM333.917 283.47h1.6v1h-1.6zM323.296 284.309h1v1h-1zM330.803 282.907h1v1h-1zM329.797 297.634h1.6v1h-1.6zM330.547 285.443h1.6v1h-1.6zM328.842 290.178h1v1h-1zM326.361 283.788h1.6v1h-1.6zM331.291 283.685h1.6v1h-1.6zM328.393 294.65h1v1h-1zM323.282 283.489h1.6v1h-1.6zM330.979 285.647h1v1h-1z" fill="#737d96" fill-opacity="0.36"/>
<path d="M328.485 288.627h1v1h-1zM334.379 283.901h1v1h-1zM330.962 291.713h1v1h-1zM327.863 292.098h1v1h-1zM326.203 297.27h1v1h-1zM325.38 295.184h1v1h-1zM332.915 294.892h1v1h-1zM322.549 294.524h1v1h-1zM333.321 294.939h1.6v1h-1.6zM321.654 295.187h1v1h-1zM333.59 294.697h1v1h-1zM327.409 296.713h1v1h-1zM326.029 292.617h1.6v1h-1.6zM333.145 285.974h1v1h-1zM326.048 286.238h1.6v1h-1.6zM332.208 290.748h1v1h-1zM321.912 290.966h1v1h-1zM324.99 288.163h1v1h-1zM329.545 284.374h1v1h-1zM326.169 295.366h1.6v1h-1.6z" fill="#4a5578" fill-opacity="0.36"/>
<line x1="320.4" y1="282.8" x2="320.4" y2="299.1" stroke="#8088a0" stroke-width="0.5" opacity="0.18"/>
<rect x="256" y="299.1" width="16.15" height="16.1" fill="#d1d5e0"/>
<path d="M258.737 309.088h1v1h-1zM258.989 306.492h1v1h-1zM263.245 306.021h1v1h-1zM259.832 309.547h1v1h-1zM266.19 310.986h1.6v1h-1.6zM270.255 302.642h1v1h-1zM267.096 307.791h1v1h-1zM266.232 312.286h1.6v1h-1.6zM259.263 303.614h1v1h-1zM270.733 302.429h1.6v1h-1.6zM264.122 308.061h1v1h-1zM268.465 308.159h1v1h-1zM257.734 306.309h1.6v1h-1.6zM258.193 309.427h1.6v1h-1.6zM258.42 302.223h1.6v1h-1.6zM262.599 305.246h1v1h-1zM257.528 309.739h1v1h-1zM264.067 304.228h1.6v1h-1.6zM268.442 307.327h1v1h-1zM258.233 301.398h1v1h-1zM265.789 307.307h1v1h-1zM269.746 308.61h1.6v1h-1.6zM268.352 309.391h1v1h-1zM270.869 301.107h1.6v1h-1.6zM269.352 306.324h1.6v1h-1.6zM258.739 305.385h1v1h-1zM261.994 309.698h1v1h-1zM261.111 311.876h1v1h-1zM257.903 314.115h1v1h-1zM256.274 307.727h1v1h-1zM258.458 310.255h1.6v1h-1.6zM262.438 306.868h1v1h-1zM262.93 300.628h1.6v1h-1.6zM267.632 305.472h1v1h-1zM265.218 306.227h1v1h-1zM269.23 312.764h1v1h-1zM258.599 310.946h1.6v1h-1.6zM267.027 303.583h1v1h-1zM268.493 313.145h1.6v1h-1.6zM267.113 313.788h1v1h-1zM270.045 303.06h1v1h-1z" fill="#8e8e98" fill-opacity="0.27"/>
<rect x="272.1" y="299.1" width="16.15" height="16.1" fill="#d6d4d6"/>
<path d="M284.776 309.65h1.6v1h-1.6zM274.068 303.631h1v1h-1zM273.075 304.06h1.6v1h-1.6zM286.246 309.962h1v1h-1zM278.26 306.844h1.6v1h-1.6zM287.133 299.267h1.6v1h-1.6zM284.219 299.79h1v1h-1zM276.23 302.355h1v1h-1zM274.159 309.306h1v1h-1zM273.717 311.835h1.6v1h-1.6zM276.028 311.629h1.6v1h-1.6zM280.107 300.427h1.6v1h-1.6zM285.307 312.492h1.6v1h-1.6zM274.551 313.837h1v1h-1zM277.592 307.238h1.6v1h-1.6zM280.098 312.797h1.6v1h-1.6zM285.072 309.318h1v1h-1zM272.411 308.869h1.6v1h-1.6zM274.975 314.145h1v1h-1zM278.096 310.438h1.6v1h-1.6zM280.818 303.335h1v1h-1zM274.214 308.84h1v1h-1zM274.051 309.927h1v1h-1zM272.359 305.508h1.6v1h-1.6zM279.828 303.155h1v1h-1zM279.641 302.76h1v1h-1zM273.022 308.254h1.6v1h-1.6zM279.748 308.342h1v1h-1zM287.084 303.431h1.6v1h-1.6zM272.314 309.078h1.6v1h-1.6zM280.695 302.362h1v1h-1z" fill="#8e8e98" fill-opacity="0.24"/>
<path d="M287.028 314.099h1v1h-1zM278.32 311.607h1.6v1h-1.6zM272.542 307.328h1v1h-1zM273.363 309.56h1v1h-1zM275.249 310.573h1v1h-1zM276.076 303.611h1v1h-1zM284.825 304.076h1.6v1h-1.6zM282.475 307.237h1.6v1h-1.6zM277.732 299.634h1.6v1h-1.6zM273.055 313.107h1.6v1h-1.6zM278.008 300.457h1.6v1h-1.6zM276.003 313.698h1v1h-1zM285.47 312.302h1v1h-1zM277.147 305.609h1v1h-1zM286.132 302.266h1v1h-1zM274.856 301.385h1.6v1h-1.6zM275.16 307.999h1v1h-1zM284.35 310.946h1.6v1h-1.6zM272.932 309.213h1.6v1h-1.6zM277.217 309.506h1v1h-1zM280.926 311.968h1.6v1h-1.6zM277.115 303.01h1.6v1h-1.6zM275.628 306.227h1v1h-1zM277.61 307.171h1v1h-1zM279.124 309.256h1.6v1h-1.6zM279.504 302.582h1v1h-1zM274.983 301.314h1v1h-1zM277.895 313.372h1.6v1h-1.6zM286.016 306.525h1v1h-1zM280.722 309.619h1.6v1h-1.6zM275.578 310.614h1.6v1h-1.6z" fill="#a88868" fill-opacity="0.3"/>
<line x1="272.1" y1="299.1" x2="272.1" y2="315.2" stroke="#8088a0" stroke-width="0.5" opacity="0.18"/>
<rect x="288.2" y="299.1" width="16.15" height="16.1" fill="#d9d0c8"/>
<path d="M294.141 306.964h1v1h-1zM298.334 299.931h1.6v1h-1.6zM299.609 311.649h1.6v1h-1.6zM289.245 312.33h1.6v1h-1.6zM302.511 312.695h1v1h-1zM301.145 302.115h1.6v1h-1.6zM298.392 311.362h1v1h-1zM296.863 302.759h1.6v1h-1.6zM296.124 302.481h1.6v1h-1.6zM296.985 305.572h1.6v1h-1.6zM294.579 309.337h1v1h-1zM293.722 304.449h1v1h-1zM290.975 301.7h1v1h-1zM298.966 301.935h1.6v1h-1.6zM293.147 313.373h1v1h-1zM301.068 311.543h1.6v1h-1.6zM297.714 303.586h1.6v1h-1.6zM291.56 309.713h1v1h-1zM289.259 305.36h1v1h-1zM300.106 302.217h1.6v1h-1.6zM288.669 300.407h1.6v1h-1.6zM302.236 308.385h1v1h-1zM301.961 309.258h1v1h-1zM290.198 304.987h1v1h-1zM296.74 311.74h1.6v1h-1.6zM302.679 305.226h1v1h-1zM298.173 312.714h1v1h-1zM288.918 304.829h1v1h-1zM301.739 304.054h1v1h-1zM297.529 299.961h1v1h-1zM296.024 302.903h1v1h-1zM299.441 310.205h1.6v1h-1.6zM290.148 311.401h1.6v1h-1.6zM289.884 309.379h1v1h-1zM289.872 304.131h1.6v1h-1.6zM295.095 307.256h1.6v1h-1.6zM294.137 303.468h1v1h-1zM291.722 308.352h1.6v1h-1.6zM303.129 303.06h1.6v1h-1.6zM293.027 307.535h1v1h-1zM302.239 310.882h1.6v1h-1.6zM297.825 304.849h1.6v1h-1.6zM295.847 309.115h1v1h-1zM290.984 309.945h1v1h-1zM288.878 303.635h1v1h-1zM291.051 301.205h1.6v1h-1.6zM295.192 306.726h1.6v1h-1.6zM288.915 306.897h1.6v1h-1.6zM292.38 309.684h1v1h-1zM293.916 305.879h1v1h-1zM291.804 304.108h1v1h-1zM294.096 306.569h1v1h-1zM296.41 310.687h1v1h-1zM293.635 311.505h1.6v1h-1.6zM295.701 303.775h1.6v1h-1.6zM289.955 313.04h1v1h-1zM302.047 299.781h1.6v1h-1.6zM295.419 308.375h1v1h-1zM293.877 304.592h1v1h-1zM299.051 313.45h1v1h-1zM288.894 301.862h1.6v1h-1.6zM296.493 309.173h1.6v1h-1.6zM300.2 308.004h1.6v1h-1.6zM290.728 311.489h1v1h-1zM301.511 311.95h1v1h-1zM292.41 300.997h1v1h-1zM291.388 304.648h1v1h-1z" fill="#a88868" fill-opacity="0.33"/>
<path d="M289.461 311.051h1.6v1h-1.6zM297.165 308.51h1.6v1h-1.6zM297.184 308.671h1v1h-1zM289.376 309.55h1v1h-1zM292.487 311.32h1v1h-1zM296.973 313.566h1v1h-1zM301.654 306.588h1.6v1h-1.6zM299.439 306.805h1v1h-1zM301.237 310.627h1.6v1h-1.6zM298.943 303.01h1v1h-1zM300.842 309.989h1.6v1h-1.6zM289.013 301.621h1v1h-1zM302.555 312.668h1v1h-1zM289.23 304.13h1.6v1h-1.6zM300.826 308.506h1.6v1h-1.6zM299.806 299.284h1v1h-1zM300.71 310.648h1.6v1h-1.6zM297.134 312.915h1v1h-1zM293.94 299.679h1.6v1h-1.6zM301.303 308.967h1v1h-1z" fill="#8e8e98" fill-opacity="0.24"/>
<line x1="288.2" y1="299.1" x2="288.2" y2="315.2" stroke="#8088a0" stroke-width="0.5" opacity="0.18"/>
<rect x="304.3" y="299.1" width="16.15" height="16.1" fill="#d9d0c8"/>
<path d="M312.206 307.923h1v1h-1zM305.978 311.91h1.6v1h-1.6zM308.323 305.582h1v1h-1zM315.775 304.225h1.6v1h-1.6zM306.124 313.011h1.6v1h-1.6zM310.008 306.791h1.6v1h-1.6zM312.721 301.074h1v1h-1zM305.867 308.647h1.6v1h-1.6zM306.062 312.086h1.6v1h-1.6zM308.187 306.177h1v1h-1zM316.592 306.158h1.6v1h-1.6zM310.706 305.696h1v1h-1zM316.199 307.722h1.6v1h-1.6zM310.462 301.998h1v1h-1zM316.714 299.355h1.6v1h-1.6zM312.411 304.41h1v1h-1zM310.474 309.998h1.6v1h-1.6zM318.242 306.366h1.6v1h-1.6zM307.21 309.641h1v1h-1zM317.082 312.983h1v1h-1zM306.17 301.807h1.6v1h-1.6zM304.454 303.827h1v1h-1zM305.331 300.666h1.6v1h-1.6zM315.887 306.049h1.6v1h-1.6zM306.028 309.956h1v1h-1zM314.901 304.773h1.6v1h-1.6zM305.267 300.05h1.6v1h-1.6zM316.812 304.245h1v1h-1zM312.426 306.733h1v1h-1zM316.866 300.406h1v1h-1zM313.998 306.699h1v1h-1zM313.494 301.726h1v1h-1zM305.103 303.12h1v1h-1zM308.58 299.711h1.6v1h-1.6zM318.518 299.667h1v1h-1zM318.293 313.457h1.6v1h-1.6zM319.291 306.992h1.6v1h-1.6zM318.995 303.617h1v1h-1zM311.701 313.646h1.6v1h-1.6zM309.321 310.912h1v1h-1zM313.477 303.742h1v1h-1zM312.171 300.164h1.6v1h-1.6zM317.088 299.903h1v1h-1zM313.721 304.364h1v1h-1zM308.749 302.194h1.6v1h-1.6zM315.983 300.477h1v1h-1zM317.479 304.97h1v1h-1zM307.828 304.964h1.6v1h-1.6zM319.159 313.885h1.6v1h-1.6zM304.919 309.019h1.6v1h-1.6zM306.223 299.574h1v1h-1zM308.944 312.303h1.6v1h-1.6zM310.063 310.969h1v1h-1zM312.275 303.232h1v1h-1zM312.793 309.344h1.6v1h-1.6zM311.873 302.312h1.6v1h-1.6zM316.915 312.109h1v1h-1zM304.348 310.61h1v1h-1zM311.269 302.23h1.6v1h-1.6zM311.014 313.107h1.6v1h-1.6zM308.916 303.177h1.6v1h-1.6zM317.77 313.268h1v1h-1zM308.595 302.34h1.6v1h-1.6zM309.234 311.642h1.6v1h-1.6zM314.72 307.216h1.6v1h-1.6zM315.337 308.317h1.6v1h-1.6zM312.375 303.716h1v1h-1zM313.958 300.076h1v1h-1zM309.931 310.929h1.6v1h-1.6zM317.513 308.196h1v1h-1zM307.991 303.484h1v1h-1zM312.264 306.15h1v1h-1z" fill="#a88868" fill-opacity="0.33"/>
<path d="M308.183 311.88h1.6v1h-1.6zM307.341 303.573h1v1h-1zM305.589 309.309h1v1h-1zM310.766 310.955h1.6v1h-1.6zM314.327 312.087h1.6v1h-1.6zM305.694 312.178h1.6v1h-1.6zM316.707 300.265h1.6v1h-1.6zM314.822 305.566h1.6v1h-1.6zM312.1 311.935h1.6v1h-1.6zM315.706 310.28h1v1h-1zM304.337 307.742h1v1h-1zM313.592 310.734h1.6v1h-1.6zM306.84 303.214h1v1h-1zM317.798 301.118h1v1h-1zM318.954 308.768h1.6v1h-1.6zM319.391 299.58h1v1h-1zM309.597 311.515h1v1h-1zM306.496 309.673h1.6v1h-1.6zM315.773 303.488h1v1h-1zM309.492 306.409h1v1h-1z" fill="#8e8e98" fill-opacity="0.24"/>
<line x1="304.3" y1="299.1" x2="304.3" y2="315.2" stroke="#8088a0" stroke-width="0.5" opacity="0.18"/>
<rect x="320.4" y="299.1" width="16.15" height="16.1" fill="#d8d2cc"/>
<path d="M331.461 311.78h1v1h-1zM329.067 312.531h1v1h-1zM334.074 301.437h1v1h-1zM332.307 306.093h1v1h-1zM328.498 301.505h1v1h-1zM325.276 299.648h1v1h-1zM330.679 300.625h1v1h-1zM322.7 301.381h1v1h-1zM329.602 304.984h1v1h-1zM328.727 310.588h1.6v1h-1.6zM332.867 308.534h1v1h-1zM329.748 303.106h1.6v1h-1.6zM320.776 310.538h1v1h-1zM332.583 311.401h1.6v1h-1.6zM330.785 305.673h1v1h-1zM324.645 312.98h1v1h-1zM327.677 305.768h1v1h-1zM330.166 313.082h1.6v1h-1.6zM327.066 299.506h1.6v1h-1.6zM328.45 304.99h1v1h-1zM330.041 313.958h1v1h-1zM333.812 302.805h1v1h-1zM328.226 299.744h1v1h-1zM332.76 311.974h1v1h-1zM326.846 306.65h1v1h-1zM322.336 300.854h1.6v1h-1.6zM322.849 299.919h1v1h-1zM330.834 309.523h1v1h-1zM327.063 303.106h1.6v1h-1.6zM330.293 300.941h1v1h-1zM323.608 308.496h1v1h-1zM326.417 307.103h1v1h-1zM320.602 304.741h1v1h-1zM327.996 300.81h1v1h-1zM321.558 303.461h1v1h-1zM326.397 308.622h1.6v1h-1.6zM328.943 307.037h1.6v1h-1.6zM322.581 306.719h1.6v1h-1.6zM327.268 304.228h1v1h-1zM325.13 310.56h1v1h-1zM326.421 313.74h1v1h-1zM327.248 306.667h1v1h-1zM323.69 306.963h1v1h-1zM331.029 313.926h1v1h-1zM333.571 310.555h1v1h-1zM320.603 306.341h1.6v1h-1.6zM326.502 313.112h1.6v1h-1.6zM324.462 304.205h1v1h-1zM332.18 306.86h1v1h-1zM329.106 312.747h1v1h-1zM323.67 303.17h1.6v1h-1.6zM331.149 302.628h1v1h-1zM327.237 308.282h1v1h-1zM331.525 303.135h1v1h-1zM321.495 302.9h1.6v1h-1.6zM328.244 299.64h1.6v1h-1.6zM330.194 306.529h1v1h-1z" fill="#a88868" fill-opacity="0.3"/>
<path d="M331.311 303.225h1.6v1h-1.6zM321.149 302.173h1v1h-1zM324.175 302.423h1v1h-1zM329.294 304.498h1.6v1h-1.6zM326.585 302.686h1.6v1h-1.6zM331.335 303.727h1v1h-1zM332.2 309.87h1v1h-1zM323.542 313.385h1.6v1h-1.6zM330.831 309.598h1.6v1h-1.6zM332.586 313.817h1v1h-1zM333.392 302.42h1.6v1h-1.6zM330.341 299.981h1v1h-1zM334.599 309.652h1.6v1h-1.6zM327.93 301.461h1v1h-1zM333.96 306.421h1v1h-1zM320.822 311.181h1v1h-1zM325.035 307.645h1.6v1h-1.6zM327.734 310.263h1v1h-1zM334.746 306.71h1v1h-1zM325.755 313.408h1.6v1h-1.6zM333.383 308.282h1.6v1h-1.6zM326.063 307.988h1v1h-1zM321.908 313.118h1.6v1h-1.6zM325.095 301.483h1v1h-1zM331.215 307.318h1v1h-1z" fill="#8e8e98" fill-opacity="0.24"/>
<line x1="320.4" y1="299.1" x2="320.4" y2="315.2" stroke="#8088a0" stroke-width="0.5" opacity="0.18"/>
<text transform="translate(92.8 122.6) scale(0.97 1)" font-size="8.32" text-anchor="end" fill="#2a2a2a" stroke="#2a2a2a" stroke-width="0.14" font-weight="normal">pHH3</text>
<text transform="translate(92.8 139.7) scale(0.97 1)" font-size="8.32" text-anchor="end" fill="#2a2a2a" stroke="#2a2a2a" stroke-width="0.14" font-weight="normal">CCASP3</text>
<text transform="translate(245.4 122.4) scale(0.97 1)" font-size="8.32" text-anchor="end" fill="#2a2a2a" stroke="#2a2a2a" stroke-width="0.14" font-weight="normal">pHH3</text>
<text transform="translate(245.4 138.3) scale(0.97 1)" font-size="8.32" text-anchor="end" fill="#2a2a2a" stroke="#2a2a2a" stroke-width="0.14" font-weight="normal">CCASP3</text>
<text transform="translate(89 295.9) scale(0.97 1)" font-size="8.32" text-anchor="end" fill="#2a2a2a" stroke="#2a2a2a" stroke-width="0.14" font-weight="normal">pHH3</text>
<text transform="translate(89 312.9) scale(0.97 1)" font-size="8.32" text-anchor="end" fill="#2a2a2a" stroke="#2a2a2a" stroke-width="0.14" font-weight="normal">CCASP3</text>
<text transform="translate(253.8 295.7) scale(0.97 1)" font-size="8.32" text-anchor="end" fill="#2a2a2a" stroke="#2a2a2a" stroke-width="0.14" font-weight="normal">pHH3</text>
<text transform="translate(253.8 311.5) scale(0.97 1)" font-size="8.32" text-anchor="end" fill="#2a2a2a" stroke="#2a2a2a" stroke-width="0.14" font-weight="normal">CCASP3</text>
<line x1="37.7" y1="346.2" x2="37.7" y2="426.7" stroke="#585858" stroke-width="1"/>
<line x1="35.7" y1="426.2" x2="37.7" y2="426.2" stroke="#585858" stroke-width="1"/>
<text transform="translate(33 428.864) scale(0.95 1)" font-size="7.4" text-anchor="end" fill="#2a2a2a" stroke="#2a2a2a" stroke-width="0.12" font-weight="normal">0</text>
<line x1="35.7" y1="406.65" x2="37.7" y2="406.65" stroke="#585858" stroke-width="1"/>
<text transform="translate(33 409.314) scale(0.95 1)" font-size="7.4" text-anchor="end" fill="#2a2a2a" stroke="#2a2a2a" stroke-width="0.12" font-weight="normal">500</text>
<line x1="35.7" y1="387.1" x2="37.7" y2="387.1" stroke="#585858" stroke-width="1"/>
<text transform="translate(33 389.764) scale(0.95 1)" font-size="7.4" text-anchor="end" fill="#2a2a2a" stroke="#2a2a2a" stroke-width="0.12" font-weight="normal">1,000</text>
<line x1="35.7" y1="367.55" x2="37.7" y2="367.55" stroke="#585858" stroke-width="1"/>
<text transform="translate(33 370.214) scale(0.95 1)" font-size="7.4" text-anchor="end" fill="#2a2a2a" stroke="#2a2a2a" stroke-width="0.12" font-weight="normal">1,500</text>
<line x1="35.7" y1="348" x2="37.7" y2="348" stroke="#585858" stroke-width="1"/>
<text transform="translate(33 350.664) scale(0.95 1)" font-size="7.4" text-anchor="end" fill="#2a2a2a" stroke="#2a2a2a" stroke-width="0.12" font-weight="normal">2,000</text>
<line x1="37.7" y1="416.4" x2="38.9" y2="416.4" stroke="#585858" stroke-width="0.8"/>
<line x1="37.7" y1="396.85" x2="38.9" y2="396.85" stroke="#585858" stroke-width="0.8"/>
<line x1="37.7" y1="377.3" x2="38.9" y2="377.3" stroke="#585858" stroke-width="0.8"/>
<line x1="37.7" y1="357.75" x2="38.9" y2="357.75" stroke="#585858" stroke-width="0.8"/>
<line x1="37.2" y1="426.2" x2="158.5" y2="426.2" stroke="#585858" stroke-width="1"/>
<line x1="41.1" y1="426.2" x2="41.1" y2="428.2" stroke="#585858" stroke-width="1"/>
<text transform="translate(41.1 436) scale(0.95 1)" font-size="7" text-anchor="middle" fill="#2a2a2a" stroke="#2a2a2a" stroke-width="0.12" font-weight="normal">48</text>
<line x1="54.75" y1="426.2" x2="54.75" y2="428.2" stroke="#585858" stroke-width="1"/>
<text transform="translate(54.75 436) scale(0.95 1)" font-size="7" text-anchor="middle" fill="#2a2a2a" stroke="#2a2a2a" stroke-width="0.12" font-weight="normal">62</text>
<line x1="68.4" y1="426.2" x2="68.4" y2="428.2" stroke="#585858" stroke-width="1"/>
<text transform="translate(68.4 436) scale(0.95 1)" font-size="7" text-anchor="middle" fill="#2a2a2a" stroke="#2a2a2a" stroke-width="0.12" font-weight="normal">76</text>
<line x1="82.05" y1="426.2" x2="82.05" y2="428.2" stroke="#585858" stroke-width="1"/>
<text transform="translate(82.05 436) scale(0.95 1)" font-size="7" text-anchor="middle" fill="#2a2a2a" stroke="#2a2a2a" stroke-width="0.12" font-weight="normal">90</text>
<line x1="95.7" y1="426.2" x2="95.7" y2="428.2" stroke="#585858" stroke-width="1"/>
<text transform="translate(95.7 436) scale(0.95 1)" font-size="7" text-anchor="middle" fill="#2a2a2a" stroke="#2a2a2a" stroke-width="0.12" font-weight="normal">104</text>
<line x1="109.35" y1="426.2" x2="109.35" y2="428.2" stroke="#585858" stroke-width="1"/>
<text transform="translate(109.35 436) scale(0.95 1)" font-size="7" text-anchor="middle" fill="#2a2a2a" stroke="#2a2a2a" stroke-width="0.12" font-weight="normal">118</text>
<line x1="123" y1="426.2" x2="123" y2="428.2" stroke="#585858" stroke-width="1"/>
<text transform="translate(123 436) scale(0.95 1)" font-size="7" text-anchor="middle" fill="#2a2a2a" stroke="#2a2a2a" stroke-width="0.12" font-weight="normal">132</text>
<line x1="136.65" y1="426.2" x2="136.65" y2="428.2" stroke="#585858" stroke-width="1"/>
<text transform="translate(136.65 436) scale(0.95 1)" font-size="7" text-anchor="middle" fill="#2a2a2a" stroke="#2a2a2a" stroke-width="0.12" font-weight="normal">146</text>
<line x1="150.3" y1="426.2" x2="150.3" y2="428.2" stroke="#585858" stroke-width="1"/>
<text transform="translate(150.3 436) scale(0.95 1)" font-size="7" text-anchor="middle" fill="#2a2a2a" stroke="#2a2a2a" stroke-width="0.12" font-weight="normal">160</text>
<text transform="translate(98.2 449) scale(0.9 1)" font-size="10.08" text-anchor="middle" fill="#2a2a2a" stroke="#2a2a2a" stroke-width="0.14" font-weight="normal">Days post implant</text>
<text transform="translate(8.2 386.2) rotate(-90)" font-size="8.3" text-anchor="middle" fill="#2a2a2a" stroke="#2a2a2a" stroke-width="0.14" font-weight="normal">Mean tumor volume (mm<tspan font-size="5.7" dy="-2.6">3</tspan><tspan dy="2.6">) ± SEM</tspan></text>
<line x1="78.6" y1="362.4" x2="78.6" y2="393.9" stroke="#8a8a8a" stroke-width="0.7"/>
<line x1="77.4" y1="362.4" x2="79.8" y2="362.4" stroke="#8a8a8a" stroke-width="0.7"/>
<line x1="77.4" y1="393.9" x2="79.8" y2="393.9" stroke="#8a8a8a" stroke-width="0.7"/>
<line x1="71.5" y1="382.5" x2="71.5" y2="392" stroke="#8a8a8a" stroke-width="0.7"/>
<line x1="70.3" y1="382.5" x2="72.7" y2="382.5" stroke="#8a8a8a" stroke-width="0.7"/>
<line x1="70.3" y1="392" x2="72.7" y2="392" stroke="#8a8a8a" stroke-width="0.7"/>
<line x1="62" y1="392.5" x2="62" y2="401" stroke="#8a8a8a" stroke-width="0.7"/>
<line x1="60.8" y1="392.5" x2="63.2" y2="392.5" stroke="#8a8a8a" stroke-width="0.7"/>
<line x1="60.8" y1="401" x2="63.2" y2="401" stroke="#8a8a8a" stroke-width="0.7"/>
<line x1="65" y1="393" x2="65" y2="401" stroke="#8a8a8a" stroke-width="0.7"/>
<line x1="63.8" y1="393" x2="66.2" y2="393" stroke="#8a8a8a" stroke-width="0.7"/>
<line x1="63.8" y1="401" x2="66.2" y2="401" stroke="#8a8a8a" stroke-width="0.7"/>
<line x1="92.3" y1="349" x2="92.3" y2="365" stroke="#8a8a8a" stroke-width="0.7"/>
<line x1="91.1" y1="349" x2="93.5" y2="349" stroke="#8a8a8a" stroke-width="0.7"/>
<line x1="91.1" y1="365" x2="93.5" y2="365" stroke="#8a8a8a" stroke-width="0.7"/>
<line x1="102.8" y1="363.5" x2="102.8" y2="387" stroke="#8a8a8a" stroke-width="0.7"/>
<line x1="101.6" y1="363.5" x2="104" y2="363.5" stroke="#8a8a8a" stroke-width="0.7"/>
<line x1="101.6" y1="387" x2="104" y2="387" stroke="#8a8a8a" stroke-width="0.7"/>
<line x1="99.2" y1="372" x2="99.2" y2="391" stroke="#8a8a8a" stroke-width="0.7"/>
<line x1="98" y1="372" x2="100.4" y2="372" stroke="#8a8a8a" stroke-width="0.7"/>
<line x1="98" y1="391" x2="100.4" y2="391" stroke="#8a8a8a" stroke-width="0.7"/>
<line x1="117" y1="375.5" x2="117" y2="400.9" stroke="#8a8a8a" stroke-width="0.7"/>
<line x1="115.8" y1="375.5" x2="118.2" y2="375.5" stroke="#8a8a8a" stroke-width="0.7"/>
<line x1="115.8" y1="400.9" x2="118.2" y2="400.9" stroke="#8a8a8a" stroke-width="0.7"/>
<line x1="110" y1="393" x2="110" y2="405" stroke="#8a8a8a" stroke-width="0.7"/>
<line x1="108.8" y1="393" x2="111.2" y2="393" stroke="#8a8a8a" stroke-width="0.7"/>
<line x1="108.8" y1="405" x2="111.2" y2="405" stroke="#8a8a8a" stroke-width="0.7"/>
<line x1="92.2" y1="396" x2="92.2" y2="410" stroke="#8a8a8a" stroke-width="0.7"/>
<line x1="91" y1="396" x2="93.4" y2="396" stroke="#8a8a8a" stroke-width="0.7"/>
<line x1="91" y1="410" x2="93.4" y2="410" stroke="#8a8a8a" stroke-width="0.7"/>
<line x1="85.5" y1="391" x2="85.5" y2="402" stroke="#8a8a8a" stroke-width="0.7"/>
<line x1="84.3" y1="391" x2="86.7" y2="391" stroke="#8a8a8a" stroke-width="0.7"/>
<line x1="84.3" y1="402" x2="86.7" y2="402" stroke="#8a8a8a" stroke-width="0.7"/>
<line x1="53.5" y1="408.5" x2="53.5" y2="414" stroke="#8a8a8a" stroke-width="0.7"/>
<line x1="52.3" y1="408.5" x2="54.7" y2="408.5" stroke="#8a8a8a" stroke-width="0.7"/>
<line x1="52.3" y1="414" x2="54.7" y2="414" stroke="#8a8a8a" stroke-width="0.7"/>
<line x1="79" y1="390" x2="79" y2="408" stroke="#8a8a8a" stroke-width="0.7"/>
<line x1="77.8" y1="390" x2="80.2" y2="390" stroke="#8a8a8a" stroke-width="0.7"/>
<line x1="77.8" y1="408" x2="80.2" y2="408" stroke="#8a8a8a" stroke-width="0.7"/>
<line x1="85.5" y1="402" x2="85.5" y2="413" stroke="#8a8a8a" stroke-width="0.7"/>
<line x1="84.3" y1="402" x2="86.7" y2="402" stroke="#8a8a8a" stroke-width="0.7"/>
<line x1="84.3" y1="413" x2="86.7" y2="413" stroke="#8a8a8a" stroke-width="0.7"/>
<polyline points="40.4,419.4 44,418.5 48,417 52,415 56,412 60,409.5 65,407 71.5,405 79,403.9 85.5,402.6 92.2,397.2 99.2,389.3 102.8,386.6" fill="none" stroke="#f0a55a" stroke-width="0.9" stroke-linejoin="round"/>
<circle cx="40.4" cy="419.4" r="1.2" fill="#fff" stroke="#f0a55a" stroke-width="0.9"/>
<circle cx="44" cy="418.5" r="1.2" fill="#fff" stroke="#f0a55a" stroke-width="0.9"/>
<circle cx="48" cy="417" r="1.2" fill="#fff" stroke="#f0a55a" stroke-width="0.9"/>
<circle cx="52" cy="415" r="1.2" fill="#fff" stroke="#f0a55a" stroke-width="0.9"/>
<circle cx="56" cy="412" r="1.2" fill="#fff" stroke="#f0a55a" stroke-width="0.9"/>
<circle cx="60" cy="409.5" r="1.2" fill="#fff" stroke="#f0a55a" stroke-width="0.9"/>
<circle cx="65" cy="407" r="1.2" fill="#fff" stroke="#f0a55a" stroke-width="0.9"/>
<circle cx="71.5" cy="405" r="1.2" fill="#fff" stroke="#f0a55a" stroke-width="0.9"/>
<circle cx="79" cy="403.9" r="1.2" fill="#fff" stroke="#f0a55a" stroke-width="0.9"/>
<circle cx="85.5" cy="402.6" r="1.2" fill="#fff" stroke="#f0a55a" stroke-width="0.9"/>
<circle cx="92.2" cy="397.2" r="1.2" fill="#fff" stroke="#f0a55a" stroke-width="0.9"/>
<circle cx="99.2" cy="389.3" r="1.2" fill="#fff" stroke="#f0a55a" stroke-width="0.9"/>
<circle cx="102.8" cy="386.6" r="1.2" fill="#fff" stroke="#f0a55a" stroke-width="0.9"/>
<polyline points="40.4,419.4 44,418 48,416 52,413 56,408 59,404 62,401 65,400 71.5,391 78.6,377.3" fill="none" stroke="#5a5a5a" stroke-width="0.9" stroke-linejoin="round"/>
<rect x="39.3" y="418.3" width="2.2" height="2.2" fill="#5a5a5a"/>
<rect x="42.9" y="416.9" width="2.2" height="2.2" fill="#5a5a5a"/>
<rect x="46.9" y="414.9" width="2.2" height="2.2" fill="#5a5a5a"/>
<rect x="50.9" y="411.9" width="2.2" height="2.2" fill="#5a5a5a"/>
<rect x="54.9" y="406.9" width="2.2" height="2.2" fill="#5a5a5a"/>
<rect x="57.9" y="402.9" width="2.2" height="2.2" fill="#5a5a5a"/>
<rect x="60.9" y="399.9" width="2.2" height="2.2" fill="#5a5a5a"/>
<rect x="63.9" y="398.9" width="2.2" height="2.2" fill="#5a5a5a"/>
<rect x="70.4" y="389.9" width="2.2" height="2.2" fill="#5a5a5a"/>
<rect x="77.5" y="376.2" width="2.2" height="2.2" fill="#5a5a5a"/>
<polyline points="40.4,419.4 44,418.5 48,417 52,415 56,412 60,409 65,407 71.5,404.5 79,399 85.5,396.7 92.2,389 99.2,382.9 102.8,375.7" fill="none" stroke="#3a3a3a" stroke-width="0.9" stroke-linejoin="round"/>
<circle cx="79" cy="399" r="1.8" fill="#fff" stroke="#333" stroke-width="0.9"/>
<circle cx="85.5" cy="396.7" r="1.8" fill="#fff" stroke="#333" stroke-width="0.9"/>
<circle cx="92.2" cy="389" r="1.8" fill="#fff" stroke="#333" stroke-width="0.9"/>
<circle cx="99.2" cy="382.9" r="1.8" fill="#fff" stroke="#333" stroke-width="0.9"/>
<circle cx="102.8" cy="375.7" r="1.8" fill="#fff" stroke="#333" stroke-width="0.9"/>
<polyline points="40.4,419.4 44,418 47,415 51,413.5 56,411 60,408 62,405 65,401.5 71.5,392.5 78.3,386 85,374 92.3,357" fill="none" stroke="#f0a55a" stroke-width="0.9" stroke-linejoin="round"/>
<path d="M40.4 418L41.8 419.4L40.4 420.8L39 419.4Z" fill="#fff" stroke="#f0a55a" stroke-width="0.8"/>
<path d="M44 416.6L45.4 418L44 419.4L42.6 418Z" fill="#fff" stroke="#f0a55a" stroke-width="0.8"/>
<path d="M47 413.6L48.4 415L47 416.4L45.6 415Z" fill="#fff" stroke="#f0a55a" stroke-width="0.8"/>
<path d="M51 412.1L52.4 413.5L51 414.9L49.6 413.5Z" fill="#fff" stroke="#f0a55a" stroke-width="0.8"/>
<path d="M56 409.6L57.4 411L56 412.4L54.6 411Z" fill="#fff" stroke="#f0a55a" stroke-width="0.8"/>
<path d="M60 406.6L61.4 408L60 409.4L58.6 408Z" fill="#fff" stroke="#f0a55a" stroke-width="0.8"/>
<path d="M62 403.6L63.4 405L62 406.4L60.6 405Z" fill="#fff" stroke="#f0a55a" stroke-width="0.8"/>
<path d="M65 400.1L66.4 401.5L65 402.9L63.6 401.5Z" fill="#fff" stroke="#f0a55a" stroke-width="0.8"/>
<path d="M71.5 391.1L72.9 392.5L71.5 393.9L70.1 392.5Z" fill="#fff" stroke="#f0a55a" stroke-width="0.8"/>
<path d="M78.3 384.6L79.7 386L78.3 387.4L76.9 386Z" fill="#fff" stroke="#f0a55a" stroke-width="0.8"/>
<path d="M85 372.6L86.4 374L85 375.4L83.6 374Z" fill="#fff" stroke="#f0a55a" stroke-width="0.8"/>
<path d="M92.3 355.6L93.7 357L92.3 358.4L90.9 357Z" fill="#fff" stroke="#f0a55a" stroke-width="0.8"/>
<polyline points="40.4,419.4 44,418.5 47,418 53,416 58,417 62,416 65,413.5 71.5,410.5 79,409.5 85.5,409.5 92.2,402.8 99.2,407.2 102.8,401.9 110,399.5 117,387.9" fill="none" stroke="#2b6d58" stroke-width="0.9" stroke-linejoin="round"/>
<circle cx="40.4" cy="419.4" r="1.3" fill="#1e5a47"/>
<circle cx="44" cy="418.5" r="1.3" fill="#1e5a47"/>
<circle cx="47" cy="418" r="1.3" fill="#1e5a47"/>
<circle cx="53" cy="416" r="1.3" fill="#1e5a47"/>
<circle cx="58" cy="417" r="1.3" fill="#1e5a47"/>
<circle cx="62" cy="416" r="1.3" fill="#1e5a47"/>
<circle cx="65" cy="413.5" r="1.3" fill="#1e5a47"/>
<circle cx="71.5" cy="410.5" r="1.3" fill="#1e5a47"/>
<circle cx="79" cy="409.5" r="1.3" fill="#1e5a47"/>
<circle cx="85.5" cy="409.5" r="1.3" fill="#1e5a47"/>
<circle cx="92.2" cy="402.8" r="1.3" fill="#1e5a47"/>
<circle cx="99.2" cy="407.2" r="1.3" fill="#1e5a47"/>
<circle cx="102.8" cy="401.9" r="1.3" fill="#1e5a47"/>
<circle cx="110" cy="399.5" r="1.3" fill="#1e5a47"/>
<circle cx="117" cy="387.9" r="1.3" fill="#1e5a47"/>
<polyline points="40.4,419.5 43.5,418.5 47.5,422 52,422.8 55.5,422.8 58.5,423 62,423 65.5,423 71.5,423.5 78.5,423.8 85,423.8 92.5,424.2 99,424.5 103,424.8 110,424.8 117,424.8 123,424.8 130,424.8 137,424.5 143.3,424.8 149.6,424.8 156.5,424.8" fill="none" stroke="#b8404e" stroke-width="0.9" stroke-linejoin="round"/>
<path d="M38.8 418.22L42 418.22L40.4 421.1Z" fill="#7a1530"/>
<path d="M41.9 417.22L45.1 417.22L43.5 420.1Z" fill="#7a1530"/>
<path d="M45.9 420.72L49.1 420.72L47.5 423.6Z" fill="#7a1530"/>
<path d="M50.4 421.52L53.6 421.52L52 424.4Z" fill="#7a1530"/>
<path d="M53.9 421.52L57.1 421.52L55.5 424.4Z" fill="#7a1530"/>
<path d="M56.9 421.72L60.1 421.72L58.5 424.6Z" fill="#7a1530"/>
<path d="M60.4 421.72L63.6 421.72L62 424.6Z" fill="#7a1530"/>
<path d="M63.9 421.72L67.1 421.72L65.5 424.6Z" fill="#7a1530"/>
<path d="M69.9 422.22L73.1 422.22L71.5 425.1Z" fill="#7a1530"/>
<path d="M76.9 422.52L80.1 422.52L78.5 425.4Z" fill="#7a1530"/>
<path d="M83.4 422.52L86.6 422.52L85 425.4Z" fill="#7a1530"/>
<path d="M90.9 422.92L94.1 422.92L92.5 425.8Z" fill="#7a1530"/>
<path d="M97.4 423.22L100.6 423.22L99 426.1Z" fill="#7a1530"/>
<path d="M101.4 423.52L104.6 423.52L103 426.4Z" fill="#7a1530"/>
<path d="M108.4 423.52L111.6 423.52L110 426.4Z" fill="#7a1530"/>
<path d="M115.4 423.52L118.6 423.52L117 426.4Z" fill="#7a1530"/>
<path d="M121.4 423.52L124.6 423.52L123 426.4Z" fill="#7a1530"/>
<path d="M128.4 423.52L131.6 423.52L130 426.4Z" fill="#7a1530"/>
<path d="M135.4 423.22L138.6 423.22L137 426.1Z" fill="#7a1530"/>
<path d="M141.7 423.52L144.9 423.52L143.3 426.4Z" fill="#7a1530"/>
<path d="M148 423.52L151.2 423.52L149.6 426.4Z" fill="#7a1530"/>
<path d="M154.9 423.52L158.1 423.52L156.5 426.4Z" fill="#7a1530"/>
<line x1="160" y1="362.7" x2="167.5" y2="362.7" stroke="#5a5a5a" stroke-width="1"/>
<rect x="162.3" y="361.3" width="2.8" height="2.8" fill="#5a5a5a"/>
<text transform="translate(169.9 365)" font-size="6.1" text-anchor="start" fill="#1c1c1c" stroke="#1c1c1c" stroke-width="0.16" font-weight="normal">Vehicle control</text>
<line x1="160" y1="372" x2="167.5" y2="372" stroke="#6a7a86" stroke-width="1"/>
<circle cx="163.7" cy="372" r="1.4" fill="#6a7a86"/>
<text transform="translate(169.9 374.3)" font-size="6.1" text-anchor="start" fill="#1c1c1c" stroke="#1c1c1c" stroke-width="0.16" font-weight="normal">CDH6 mAb (no payload)</text>
<line x1="160" y1="381.4" x2="167.5" y2="381.4" stroke="#f0a55a" stroke-width="1"/>
<circle cx="163.7" cy="381.4" r="1.4" fill="#fff" stroke="#f0a55a" stroke-width="0.9"/>
<text transform="translate(169.9 383.7)" font-size="6.1" text-anchor="start" fill="#1c1c1c" stroke="#1c1c1c" stroke-width="0.16" font-weight="normal">IgG1-SMCC-DM1</text>
<line x1="160" y1="390.7" x2="167.5" y2="390.7" stroke="#2b6d58" stroke-width="1"/>
<circle cx="163.7" cy="390.7" r="1.4" fill="#2b6d58"/>
<text transform="translate(169.9 393)" font-size="6.1" text-anchor="start" fill="#1c1c1c" stroke="#1c1c1c" stroke-width="0.16" font-weight="normal">CDH6-SMCC-DM1</text>
<line x1="160" y1="400" x2="167.5" y2="400" stroke="#f0a55a" stroke-width="1"/>
<path d="M163.7 398.6L165.1 400L163.7 401.4L162.3 400Z" fill="#fff" stroke="#f0a55a" stroke-width="0.8"/>
<text transform="translate(169.9 402.3)" font-size="6.1" text-anchor="start" fill="#1c1c1c" stroke="#1c1c1c" stroke-width="0.16" font-weight="normal">IgG1-sulfo-SPDB-DM4</text>
<line x1="160" y1="409.4" x2="167.5" y2="409.4" stroke="#7a1530" stroke-width="1"/>
<path d="M162.3 408.28L165.1 408.28L163.7 410.8Z" fill="#7a1530"/>
<text transform="translate(169.9 411.7)" font-size="6.1" text-anchor="start" fill="#1c1c1c" stroke="#1c1c1c" stroke-width="0.16" font-weight="normal">CDH6-sulfo-SPDB-DM4</text>
<line x1="295.8" y1="354.3" x2="295.8" y2="426.4" stroke="#585858" stroke-width="1"/>
<line x1="293.8" y1="425.9" x2="295.8" y2="425.9" stroke="#585858" stroke-width="1"/>
<text transform="translate(291.4 428.528) scale(0.95 1)" font-size="7.3" text-anchor="end" fill="#2a2a2a" stroke="#2a2a2a" stroke-width="0.12" font-weight="normal">0</text>
<line x1="293.8" y1="396.05" x2="295.8" y2="396.05" stroke="#585858" stroke-width="1"/>
<text transform="translate(291.4 398.678) scale(0.95 1)" font-size="7.3" text-anchor="end" fill="#2a2a2a" stroke="#2a2a2a" stroke-width="0.12" font-weight="normal">500</text>
<line x1="293.8" y1="366.2" x2="295.8" y2="366.2" stroke="#585858" stroke-width="1"/>
<text transform="translate(291.4 368.828) scale(0.95 1)" font-size="7.3" text-anchor="end" fill="#2a2a2a" stroke="#2a2a2a" stroke-width="0.12" font-weight="normal">1,000</text>
<line x1="295.3" y1="425.9" x2="405.5" y2="425.9" stroke="#585858" stroke-width="1"/>
<line x1="298.1" y1="425.9" x2="298.1" y2="427.9" stroke="#585858" stroke-width="1"/>
<text transform="translate(298.1 435.6) scale(0.95 1)" font-size="7" text-anchor="middle" fill="#2a2a2a" stroke="#2a2a2a" stroke-width="0.12" font-weight="normal">42</text>
<line x1="311.239" y1="425.9" x2="311.239" y2="427.9" stroke="#585858" stroke-width="1"/>
<text transform="translate(311.239 435.6) scale(0.95 1)" font-size="7" text-anchor="middle" fill="#2a2a2a" stroke="#2a2a2a" stroke-width="0.12" font-weight="normal">56</text>
<line x1="324.378" y1="425.9" x2="324.378" y2="427.9" stroke="#585858" stroke-width="1"/>
<text transform="translate(324.378 435.6) scale(0.95 1)" font-size="7" text-anchor="middle" fill="#2a2a2a" stroke="#2a2a2a" stroke-width="0.12" font-weight="normal">70</text>
<line x1="337.517" y1="425.9" x2="337.517" y2="427.9" stroke="#585858" stroke-width="1"/>
<text transform="translate(337.517 435.6) scale(0.95 1)" font-size="7" text-anchor="middle" fill="#2a2a2a" stroke="#2a2a2a" stroke-width="0.12" font-weight="normal">84</text>
<line x1="350.656" y1="425.9" x2="350.656" y2="427.9" stroke="#585858" stroke-width="1"/>
<text transform="translate(350.656 435.6) scale(0.95 1)" font-size="7" text-anchor="middle" fill="#2a2a2a" stroke="#2a2a2a" stroke-width="0.12" font-weight="normal">98</text>
<line x1="363.795" y1="425.9" x2="363.795" y2="427.9" stroke="#585858" stroke-width="1"/>
<text transform="translate(363.795 435.6) scale(0.95 1)" font-size="7" text-anchor="middle" fill="#2a2a2a" stroke="#2a2a2a" stroke-width="0.12" font-weight="normal">112</text>
<line x1="376.934" y1="425.9" x2="376.934" y2="427.9" stroke="#585858" stroke-width="1"/>
<text transform="translate(376.934 435.6) scale(0.95 1)" font-size="7" text-anchor="middle" fill="#2a2a2a" stroke="#2a2a2a" stroke-width="0.12" font-weight="normal">126</text>
<line x1="390.073" y1="425.9" x2="390.073" y2="427.9" stroke="#585858" stroke-width="1"/>
<text transform="translate(390.073 435.6) scale(0.95 1)" font-size="7" text-anchor="middle" fill="#2a2a2a" stroke="#2a2a2a" stroke-width="0.12" font-weight="normal">140</text>
<line x1="403.212" y1="425.9" x2="403.212" y2="427.9" stroke="#585858" stroke-width="1"/>
<text transform="translate(403.212 435.6) scale(0.95 1)" font-size="7" text-anchor="middle" fill="#2a2a2a" stroke="#2a2a2a" stroke-width="0.12" font-weight="normal">154</text>
<text transform="translate(348.5 448.8) scale(0.9 1)" font-size="9.184" text-anchor="middle" fill="#2a2a2a" stroke="#2a2a2a" stroke-width="0.14" font-weight="normal">Days post implant</text>
<text transform="translate(262.3 389.9) rotate(-90)" font-size="8.3" text-anchor="middle" fill="#2a2a2a" stroke="#2a2a2a" stroke-width="0.14" font-weight="normal">Mean tumor volume</text>
<text transform="translate(271.6 385.5) rotate(-90)" font-size="8.5" text-anchor="middle" fill="#2a2a2a" stroke="#2a2a2a" stroke-width="0.14" font-weight="normal">(mm<tspan font-size="5.8" dy="-2.6">3</tspan><tspan dy="2.6">) ± SEM</tspan></text>
<text transform="translate(320.7 350.4)" font-size="6.2" text-anchor="middle" fill="#2a2a2a" stroke="#2a2a2a" stroke-width="0.16" font-weight="normal">Treatment</text>
<text transform="translate(323.8 356.3)" font-size="6.2" text-anchor="middle" fill="#2a2a2a" stroke="#2a2a2a" stroke-width="0.16" font-weight="normal">switch</text>
<line x1="338" y1="346" x2="338" y2="354" stroke="#9a1f30" stroke-width="1.7"/>
<path d="M335.4 351.8L338 353.6L340.6 351.8L338 359Z" fill="#9a1f30"/>
<line x1="311.2" y1="392" x2="311.2" y2="410" stroke="#d9a47a" stroke-width="0.8"/>
<line x1="309.9" y1="392" x2="312.5" y2="392" stroke="#d9a47a" stroke-width="0.8"/>
<line x1="309.9" y1="410" x2="312.5" y2="410" stroke="#d9a47a" stroke-width="0.8"/>
<line x1="313.9" y1="388" x2="313.9" y2="407" stroke="#d9a47a" stroke-width="0.8"/>
<line x1="312.6" y1="388" x2="315.2" y2="388" stroke="#d9a47a" stroke-width="0.8"/>
<line x1="312.6" y1="407" x2="315.2" y2="407" stroke="#d9a47a" stroke-width="0.8"/>
<line x1="318.6" y1="380" x2="318.6" y2="402" stroke="#d9a47a" stroke-width="0.8"/>
<line x1="317.3" y1="380" x2="319.9" y2="380" stroke="#d9a47a" stroke-width="0.8"/>
<line x1="317.3" y1="402" x2="319.9" y2="402" stroke="#d9a47a" stroke-width="0.8"/>
<line x1="324.9" y1="378" x2="324.9" y2="403" stroke="#d9a47a" stroke-width="0.8"/>
<line x1="323.6" y1="378" x2="326.2" y2="378" stroke="#d9a47a" stroke-width="0.8"/>
<line x1="323.6" y1="403" x2="326.2" y2="403" stroke="#d9a47a" stroke-width="0.8"/>
<line x1="331.9" y1="375" x2="331.9" y2="405" stroke="#d9a47a" stroke-width="0.8"/>
<line x1="330.6" y1="375" x2="333.2" y2="375" stroke="#d9a47a" stroke-width="0.8"/>
<line x1="330.6" y1="405" x2="333.2" y2="405" stroke="#d9a47a" stroke-width="0.8"/>
<line x1="338.2" y1="367.5" x2="338.2" y2="400" stroke="#d9a47a" stroke-width="0.8"/>
<line x1="336.9" y1="367.5" x2="339.5" y2="367.5" stroke="#d9a47a" stroke-width="0.8"/>
<line x1="336.9" y1="400" x2="339.5" y2="400" stroke="#d9a47a" stroke-width="0.8"/>
<line x1="338.2" y1="361" x2="338.2" y2="383.4" stroke="#404040" stroke-width="0.8"/>
<line x1="336.9" y1="361" x2="339.5" y2="361" stroke="#404040" stroke-width="0.8"/>
<line x1="336.9" y1="383.4" x2="339.5" y2="383.4" stroke="#404040" stroke-width="0.8"/>
<line x1="331.9" y1="376" x2="331.9" y2="390" stroke="#404040" stroke-width="0.8"/>
<line x1="330.6" y1="376" x2="333.2" y2="376" stroke="#404040" stroke-width="0.8"/>
<line x1="330.6" y1="390" x2="333.2" y2="390" stroke="#404040" stroke-width="0.8"/>
<line x1="324.9" y1="380" x2="324.9" y2="392" stroke="#404040" stroke-width="0.8"/>
<line x1="323.6" y1="380" x2="326.2" y2="380" stroke="#404040" stroke-width="0.8"/>
<line x1="323.6" y1="392" x2="326.2" y2="392" stroke="#404040" stroke-width="0.8"/>
<line x1="318.6" y1="384" x2="318.6" y2="396" stroke="#404040" stroke-width="0.8"/>
<line x1="317.3" y1="384" x2="319.9" y2="384" stroke="#404040" stroke-width="0.8"/>
<line x1="317.3" y1="396" x2="319.9" y2="396" stroke="#404040" stroke-width="0.8"/>
<line x1="300.6" y1="405" x2="300.6" y2="412" stroke="#404040" stroke-width="0.8"/>
<line x1="299.3" y1="405" x2="301.9" y2="405" stroke="#404040" stroke-width="0.8"/>
<line x1="299.3" y1="412" x2="301.9" y2="412" stroke="#404040" stroke-width="0.8"/>
<line x1="304.4" y1="404" x2="304.4" y2="412" stroke="#404040" stroke-width="0.8"/>
<line x1="303.1" y1="404" x2="305.7" y2="404" stroke="#404040" stroke-width="0.8"/>
<line x1="303.1" y1="412" x2="305.7" y2="412" stroke="#404040" stroke-width="0.8"/>
<line x1="306.9" y1="404" x2="306.9" y2="412" stroke="#404040" stroke-width="0.8"/>
<line x1="305.6" y1="404" x2="308.2" y2="404" stroke="#404040" stroke-width="0.8"/>
<line x1="305.6" y1="412" x2="308.2" y2="412" stroke="#404040" stroke-width="0.8"/>
<line x1="344.6" y1="367.5" x2="344.6" y2="397" stroke="#a04050" stroke-width="0.8"/>
<line x1="343.3" y1="367.5" x2="345.9" y2="367.5" stroke="#a04050" stroke-width="0.8"/>
<line x1="343.3" y1="397" x2="345.9" y2="397" stroke="#a04050" stroke-width="0.8"/>
<line x1="350.3" y1="396" x2="350.3" y2="410.9" stroke="#a04050" stroke-width="0.8"/>
<line x1="349" y1="396" x2="351.6" y2="396" stroke="#a04050" stroke-width="0.8"/>
<line x1="349" y1="410.9" x2="351.6" y2="410.9" stroke="#a04050" stroke-width="0.8"/>
<line x1="357.7" y1="406" x2="357.7" y2="414" stroke="#a04050" stroke-width="0.8"/>
<line x1="356.4" y1="406" x2="359" y2="406" stroke="#a04050" stroke-width="0.8"/>
<line x1="356.4" y1="414" x2="359" y2="414" stroke="#a04050" stroke-width="0.8"/>
<line x1="363.6" y1="408" x2="363.6" y2="417" stroke="#a04050" stroke-width="0.8"/>
<line x1="362.3" y1="408" x2="364.9" y2="408" stroke="#a04050" stroke-width="0.8"/>
<line x1="362.3" y1="417" x2="364.9" y2="417" stroke="#a04050" stroke-width="0.8"/>
<line x1="371" y1="406" x2="371" y2="417" stroke="#a04050" stroke-width="0.8"/>
<line x1="369.7" y1="406" x2="372.3" y2="406" stroke="#a04050" stroke-width="0.8"/>
<line x1="369.7" y1="417" x2="372.3" y2="417" stroke="#a04050" stroke-width="0.8"/>
<line x1="377.3" y1="416" x2="377.3" y2="422" stroke="#a04050" stroke-width="0.8"/>
<line x1="376" y1="416" x2="378.6" y2="416" stroke="#a04050" stroke-width="0.8"/>
<line x1="376" y1="422" x2="378.6" y2="422" stroke="#a04050" stroke-width="0.8"/>
<polyline points="297.8,414.5 300.6,408.8 304.4,408.5 306.9,408.1 311.2,401.3 313.9,397.5 318.6,392.9 324.9,390.8 331.9,389.7 338.2,383.4" fill="none" stroke="#e0905a" stroke-width="1" stroke-linejoin="round"/>
<path d="M297.8 413.1L299.2 414.5L297.8 415.9L296.4 414.5Z" fill="#fff" stroke="#e0905a" stroke-width="0.8"/>
<path d="M300.6 407.4L302 408.8L300.6 410.2L299.2 408.8Z" fill="#fff" stroke="#e0905a" stroke-width="0.8"/>
<path d="M304.4 407.1L305.8 408.5L304.4 409.9L303 408.5Z" fill="#fff" stroke="#e0905a" stroke-width="0.8"/>
<path d="M306.9 406.7L308.3 408.1L306.9 409.5L305.5 408.1Z" fill="#fff" stroke="#e0905a" stroke-width="0.8"/>
<path d="M311.2 399.9L312.6 401.3L311.2 402.7L309.8 401.3Z" fill="#fff" stroke="#e0905a" stroke-width="0.8"/>
<path d="M313.9 396.1L315.3 397.5L313.9 398.9L312.5 397.5Z" fill="#fff" stroke="#e0905a" stroke-width="0.8"/>
<path d="M318.6 391.5L320 392.9L318.6 394.3L317.2 392.9Z" fill="#fff" stroke="#e0905a" stroke-width="0.8"/>
<path d="M324.9 389.4L326.3 390.8L324.9 392.2L323.5 390.8Z" fill="#fff" stroke="#e0905a" stroke-width="0.8"/>
<path d="M331.9 388.3L333.3 389.7L331.9 391.1L330.5 389.7Z" fill="#fff" stroke="#e0905a" stroke-width="0.8"/>
<path d="M338.2 382L339.6 383.4L338.2 384.8L336.8 383.4Z" fill="#fff" stroke="#e0905a" stroke-width="0.8"/>
<polyline points="297.8,414.5 300.6,408.8 304.4,408.1 306.9,408.1 311.2,403.5 313.9,401.8 318.6,390.8 324.9,385.5 331.9,383.4 338.2,372.2" fill="none" stroke="#303030" stroke-width="0.9" stroke-linejoin="round"/>
<rect x="296.5" y="413.2" width="2.6" height="2.6" fill="#222"/>
<rect x="299.3" y="407.5" width="2.6" height="2.6" fill="#222"/>
<rect x="303.1" y="406.8" width="2.6" height="2.6" fill="#222"/>
<rect x="305.6" y="406.8" width="2.6" height="2.6" fill="#222"/>
<rect x="309.9" y="402.2" width="2.6" height="2.6" fill="#222"/>
<rect x="312.6" y="400.5" width="2.6" height="2.6" fill="#222"/>
<rect x="317.3" y="389.5" width="2.6" height="2.6" fill="#222"/>
<rect x="323.6" y="384.2" width="2.6" height="2.6" fill="#222"/>
<rect x="330.6" y="382.1" width="2.6" height="2.6" fill="#222"/>
<rect x="336.9" y="370.9" width="2.6" height="2.6" fill="#222"/>
<polyline points="338.2,372.2 344.6,381.3 350.3,403.5 357.7,409.8 363.6,413 371,412 377.3,419.2 384.2,420.1 390.6,421 396.9,421.8 403.6,421.8" fill="none" stroke="#9a2a3a" stroke-width="1" stroke-linejoin="round"/>
<path d="M336.4 370.76L340 370.76L338.2 374Z" fill="#8a1a30"/>
<path d="M342.8 379.86L346.4 379.86L344.6 383.1Z" fill="#8a1a30"/>
<path d="M348.5 402.06L352.1 402.06L350.3 405.3Z" fill="#8a1a30"/>
<path d="M355.9 408.36L359.5 408.36L357.7 411.6Z" fill="#8a1a30"/>
<path d="M361.8 411.56L365.4 411.56L363.6 414.8Z" fill="#8a1a30"/>
<path d="M369.2 410.56L372.8 410.56L371 413.8Z" fill="#8a1a30"/>
<path d="M375.5 417.76L379.1 417.76L377.3 421Z" fill="#8a1a30"/>
<path d="M382.4 418.66L386 418.66L384.2 421.9Z" fill="#8a1a30"/>
<path d="M388.8 419.56L392.4 419.56L390.6 422.8Z" fill="#8a1a30"/>
<path d="M395.1 420.36L398.7 420.36L396.9 423.6Z" fill="#8a1a30"/>
<path d="M401.8 420.36L405.4 420.36L403.6 423.6Z" fill="#8a1a30"/>
<polyline points="297.8,414.5 300.6,409 304.4,419.3 306.9,420.8 311.2,420.5 313.9,420.5 318.6,421 324.9,423.1 331.9,424 338.2,424.2 344.6,424.2 350.3,425.3 357.7,425.5 363.5,425.6 371,421.8 377.3,425.6 384.2,425.6 390.6,425.5 396.9,425.6 403.6,425.2" fill="none" stroke="#c02840" stroke-width="1" stroke-linejoin="round"/>
<path d="M296 413.06L299.6 413.06L297.8 416.3Z" fill="#8a1a30"/>
<path d="M298.8 407.56L302.4 407.56L300.6 410.8Z" fill="#8a1a30"/>
<path d="M302.6 417.86L306.2 417.86L304.4 421.1Z" fill="#8a1a30"/>
<path d="M305.1 419.36L308.7 419.36L306.9 422.6Z" fill="#8a1a30"/>
<path d="M309.4 419.06L313 419.06L311.2 422.3Z" fill="#8a1a30"/>
<path d="M312.1 419.06L315.7 419.06L313.9 422.3Z" fill="#8a1a30"/>
<path d="M316.8 419.56L320.4 419.56L318.6 422.8Z" fill="#8a1a30"/>
<path d="M323.1 421.66L326.7 421.66L324.9 424.9Z" fill="#8a1a30"/>
<path d="M330.1 422.56L333.7 422.56L331.9 425.8Z" fill="#8a1a30"/>
<path d="M336.4 422.76L340 422.76L338.2 426Z" fill="#8a1a30"/>
<path d="M342.8 422.76L346.4 422.76L344.6 426Z" fill="#8a1a30"/>
<path d="M348.5 423.86L352.1 423.86L350.3 427.1Z" fill="#8a1a30"/>
<path d="M355.9 424.06L359.5 424.06L357.7 427.3Z" fill="#8a1a30"/>
<path d="M361.7 424.16L365.3 424.16L363.5 427.4Z" fill="#8a1a30"/>
<path d="M369.2 420.36L372.8 420.36L371 423.6Z" fill="#8a1a30"/>
<path d="M375.5 424.16L379.1 424.16L377.3 427.4Z" fill="#8a1a30"/>
<path d="M382.4 424.16L386 424.16L384.2 427.4Z" fill="#8a1a30"/>
<path d="M388.8 424.06L392.4 424.06L390.6 427.3Z" fill="#8a1a30"/>
<path d="M395.1 424.16L398.7 424.16L396.9 427.4Z" fill="#8a1a30"/>
<path d="M401.8 423.76L405.4 423.76L403.6 427Z" fill="#8a1a30"/>
<line x1="409.4" y1="360.8" x2="417.5" y2="360.8" stroke="#e0905a" stroke-width="1"/>
<path d="M413.4 359.3L414.9 360.8L413.4 362.3L411.9 360.8Z" fill="#fff" stroke="#e0905a" stroke-width="0.8"/>
<text transform="translate(419.8 363)" font-size="6.1" text-anchor="start" fill="#1c1c1c" stroke="#1c1c1c" stroke-width="0.16" font-weight="normal">IgG1-sulfo-SPDB-DM4</text>
<line x1="409.4" y1="378.3" x2="417.5" y2="378.3" stroke="#222" stroke-width="1"/>
<rect x="411.9" y="376.8" width="3" height="3" fill="#222"/>
<text transform="translate(419.8 380.5)" font-size="6.1" text-anchor="start" fill="#1c1c1c" stroke="#1c1c1c" stroke-width="0.16" font-weight="normal">Carboplatin and paclitaxel</text>
<line x1="409.4" y1="395.1" x2="417.5" y2="395.1" stroke="#8a1a30" stroke-width="1"/>
<path d="M411.9 393.9L414.9 393.9L413.4 396.6Z" fill="#8a1a30"/>
<text transform="translate(419.8 397.3)" font-size="6.1" text-anchor="start" fill="#1c1c1c" stroke="#1c1c1c" stroke-width="0.16" font-weight="normal">CDH6-sulfo-SPDB-DM4</text>
<line x1="409.4" y1="412.7" x2="417.5" y2="412.7" stroke="#8a1a30" stroke-width="1"/>
<path d="M411.9 411.5L414.9 411.5L413.4 414.2Z" fill="#8a1a30"/>
<text transform="translate(419.8 414.9)" font-size="6.1" text-anchor="start" fill="#1c1c1c" stroke="#1c1c1c" stroke-width="0.16" font-weight="normal">From day 85 CDH6-sulfo-SPDB-DM4</text>
</svg>
</body></html>
